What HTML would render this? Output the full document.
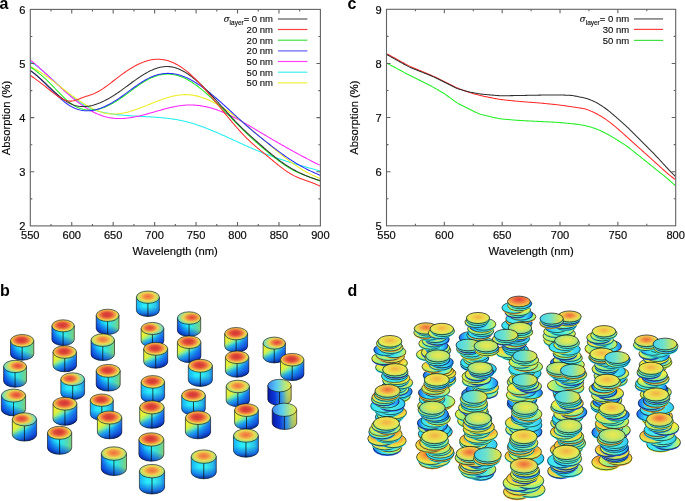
<!DOCTYPE html>
<html><head><meta charset="utf-8"><title>Absorption spectra</title>
<style>html,body{margin:0;padding:0;background:#fff}body{width:685px;height:501px;position:relative;overflow:hidden}</style>
</head><body>
<svg width="685" height="501" viewBox="0 0 685 501" style="position:absolute;left:0;top:0">
<defs>
<clipPath id="clipA"><rect x="30.30" y="9.40" width="290.10" height="216.50"/></clipPath>
<clipPath id="clipC"><rect x="386.50" y="9.30" width="289.20" height="216.50"/></clipPath>

<radialGradient id="tr" cx="0.47" cy="0.45" r="0.62">
 <stop offset="0" stop-color="#d03636"/><stop offset="0.3" stop-color="#e04a38"/><stop offset="0.52" stop-color="#f08a42"/>
 <stop offset="0.72" stop-color="#eed44c"/><stop offset="0.88" stop-color="#a8e07c"/><stop offset="1" stop-color="#62d8c8"/>
</radialGradient>
<radialGradient id="to" cx="0.5" cy="0.45" r="0.62">
 <stop offset="0" stop-color="#ee7040"/><stop offset="0.28" stop-color="#f29444"/>
 <stop offset="0.55" stop-color="#ecd850"/><stop offset="0.8" stop-color="#a0e084"/><stop offset="1" stop-color="#50d8dc"/>
</radialGradient>
<radialGradient id="tl" cx="0.62" cy="0.45" r="0.66">
 <stop offset="0" stop-color="#e4423a"/><stop offset="0.28" stop-color="#ee7a40"/>
 <stop offset="0.55" stop-color="#e8d650"/><stop offset="0.8" stop-color="#8ee0a2"/><stop offset="1" stop-color="#40d4f0"/>
</radialGradient>
<radialGradient id="tL" cx="0.38" cy="0.45" r="0.68">
 <stop offset="0" stop-color="#e0403a"/><stop offset="0.28" stop-color="#ec6e3e"/>
 <stop offset="0.52" stop-color="#eed24e"/><stop offset="0.78" stop-color="#80dcb0"/><stop offset="1" stop-color="#3cb0f0"/>
</radialGradient>
<linearGradient id="tb" x1="0" y1="0" x2="1" y2="0">
 <stop offset="0" stop-color="#3c84f0"/><stop offset="0.4" stop-color="#5ccff2"/><stop offset="0.75" stop-color="#b8e87a"/><stop offset="1" stop-color="#ece44c"/>
</linearGradient>
<linearGradient id="bbl" x1="0" y1="0" x2="1" y2="0">
 <stop offset="0" stop-color="#1860e8"/><stop offset="0.25" stop-color="#18c8fa"/><stop offset="0.48" stop-color="#28ecf8"/>
 <stop offset="0.75" stop-color="#48dcc0"/><stop offset="1" stop-color="#80d078"/>
</linearGradient>
<linearGradient id="byl" x1="0" y1="0" x2="1" y2="0">
 <stop offset="0" stop-color="#40ecd0"/><stop offset="0.3" stop-color="#28e8fa"/><stop offset="0.62" stop-color="#20c8f8"/><stop offset="1" stop-color="#1868e8"/>
</linearGradient>
<linearGradient id="ylo" x1="0" y1="0" x2="0.7" y2="1">
 <stop offset="0" stop-color="#f8f028" stop-opacity="1"/><stop offset="0.35" stop-color="#eef030" stop-opacity="0.9"/><stop offset="0.62" stop-color="#b0f060" stop-opacity="0"/>
</linearGradient>
<linearGradient id="bcy" x1="0" y1="0" x2="1" y2="0">
 <stop offset="0" stop-color="#18b0f4"/><stop offset="0.3" stop-color="#28ecfc"/><stop offset="0.6" stop-color="#34eaf0"/>
 <stop offset="0.85" stop-color="#28c0e8"/><stop offset="1" stop-color="#1c80e0"/>
</linearGradient>
<linearGradient id="bbu" x1="0" y1="0" x2="1" y2="0">
 <stop offset="0" stop-color="#0818a0"/><stop offset="0.3" stop-color="#0c3ce0"/><stop offset="0.6" stop-color="#38a8f0"/>
 <stop offset="0.82" stop-color="#b8e068"/><stop offset="1" stop-color="#e8dc40"/>
</linearGradient>
<linearGradient id="sbl" x1="0.65" y1="0" x2="0.25" y2="1">
 <stop offset="0" stop-color="#0a28c8" stop-opacity="0"/><stop offset="0.45" stop-color="#0a28c8" stop-opacity="0"/>
 <stop offset="0.75" stop-color="#0a30d8" stop-opacity="0.6"/><stop offset="1" stop-color="#06148c" stop-opacity="0.95"/>
</linearGradient>
<linearGradient id="syl" x1="0.35" y1="0" x2="0.65" y2="1">
 <stop offset="0" stop-color="#0a28c8" stop-opacity="0"/><stop offset="0.45" stop-color="#0a28c8" stop-opacity="0"/>
 <stop offset="0.75" stop-color="#1038d8" stop-opacity="0.6"/><stop offset="1" stop-color="#06148c" stop-opacity="0.95"/>
</linearGradient>
<linearGradient id="scy" x1="0.5" y1="0" x2="0.5" y2="1">
 <stop offset="0" stop-color="#0a28c8" stop-opacity="0"/><stop offset="0.5" stop-color="#0a28c8" stop-opacity="0"/>
 <stop offset="0.78" stop-color="#0a30d8" stop-opacity="0.5"/><stop offset="1" stop-color="#06148c" stop-opacity="0.9"/>
</linearGradient>
<linearGradient id="sbu" x1="0.5" y1="0" x2="0.5" y2="1">
 <stop offset="0" stop-color="#0a28c8" stop-opacity="0"/><stop offset="1" stop-color="#06168c" stop-opacity="0.2"/>
</linearGradient>

<radialGradient id="dY" cx="0.5" cy="0.42" r="0.62">
 <stop offset="0" stop-color="#f2b046"/><stop offset="0.35" stop-color="#f0d04a"/><stop offset="0.65" stop-color="#e8e852"/>
 <stop offset="0.88" stop-color="#b0e474"/><stop offset="1" stop-color="#78dcb0"/>
</radialGradient>
<radialGradient id="dO" cx="0.5" cy="0.4" r="0.62">
 <stop offset="0" stop-color="#ec6a3c"/><stop offset="0.3" stop-color="#f29a44"/><stop offset="0.6" stop-color="#eed84e"/>
 <stop offset="0.88" stop-color="#b8e470"/><stop offset="1" stop-color="#80dcaa"/>
</radialGradient>
<radialGradient id="dR" cx="0.5" cy="0.3" r="0.75">
 <stop offset="0" stop-color="#e43e3c"/><stop offset="0.3" stop-color="#ee6a3e"/><stop offset="0.65" stop-color="#f4b046"/>
 <stop offset="1" stop-color="#ece450"/>
</radialGradient>
<radialGradient id="dL" cx="0.55" cy="0.45" r="0.66">
 <stop offset="0" stop-color="#ecea52"/><stop offset="0.45" stop-color="#cce65e"/><stop offset="0.8" stop-color="#88e0a0"/>
 <stop offset="1" stop-color="#56dcd0"/>
</radialGradient>
<linearGradient id="dC" x1="0" y1="0" x2="1" y2="0">
 <stop offset="0" stop-color="#44d4f0"/><stop offset="0.45" stop-color="#70e2c8"/><stop offset="0.8" stop-color="#c8e45e"/><stop offset="1" stop-color="#e4e250"/>
</linearGradient>
<radialGradient id="fA" cx="0.5" cy="0.25" r="0.8">
 <stop offset="0" stop-color="#f8d83c"/><stop offset="0.5" stop-color="#f4f040"/><stop offset="0.78" stop-color="#a0f080"/><stop offset="1" stop-color="#38e4f8"/>
</radialGradient>
<radialGradient id="fB" cx="0.5" cy="0.25" r="0.8">
 <stop offset="0" stop-color="#f8a030"/><stop offset="0.5" stop-color="#f8e03c"/><stop offset="0.8" stop-color="#b0f070"/><stop offset="1" stop-color="#40e8ec"/>
</radialGradient>
<linearGradient id="fC" x1="0" y1="0" x2="1" y2="0">
 <stop offset="0" stop-color="#2060f4"/><stop offset="0.3" stop-color="#30d8fc"/><stop offset="0.65" stop-color="#60f0d4"/><stop offset="1" stop-color="#dcf048"/>
</linearGradient>
<linearGradient id="fD" x1="0" y1="0" x2="1" y2="0">
 <stop offset="0" stop-color="#ecf040"/><stop offset="0.35" stop-color="#90f090"/><stop offset="0.7" stop-color="#38e4fa"/><stop offset="1" stop-color="#2070f4"/>
</linearGradient>
<radialGradient id="fO" cx="0.5" cy="0.3" r="0.8">
 <stop offset="0" stop-color="#f04830"/><stop offset="0.35" stop-color="#f89838"/><stop offset="0.65" stop-color="#f4e040"/><stop offset="0.9" stop-color="#a0f080"/><stop offset="1" stop-color="#40e4ec"/>
</radialGradient>
<linearGradient id="fE" x1="0" y1="0" x2="1" y2="0">
 <stop offset="0" stop-color="#34e0fa"/><stop offset="0.5" stop-color="#54f0e4"/><stop offset="1" stop-color="#30c8fa"/>
</linearGradient>

</defs>
<g clip-path="url(#clipA)" fill="none" stroke-width="1.05" stroke-linejoin="round">
<path d="M30.30 61.69 L31.30 62.34 L32.30 63.01 L33.30 63.70 L34.30 64.40 L35.30 65.13 L36.30 65.88 L37.30 66.64 L38.30 67.42 L39.30 68.21 L40.30 69.02 L41.30 69.84 L42.30 70.67 L43.30 71.52 L44.30 72.37 L45.30 73.24 L46.30 74.11 L47.30 74.99 L48.30 75.88 L49.30 76.77 L50.30 77.67 L51.30 78.58 L52.30 79.48 L53.30 80.39 L54.30 81.30 L55.30 82.21 L56.30 83.13 L57.30 84.04 L58.30 84.94 L59.30 85.85 L60.30 86.75 L61.30 87.65 L62.30 88.54 L63.30 89.42 L64.30 90.30 L65.30 91.17 L66.30 92.03 L67.30 92.88 L68.30 93.72 L69.30 94.55 L70.30 95.36 L71.30 96.16 L72.30 96.95 L73.30 97.72 L74.30 98.48 L75.30 99.22 L76.30 99.94 L77.30 100.65 L78.30 101.34 L79.30 102.02 L80.30 102.68 L81.30 103.32 L82.30 103.94 L83.30 104.55 L84.30 105.14 L85.30 105.70 L86.30 106.25 L87.30 106.78 L88.30 107.29 L89.30 107.78 L90.30 108.25 L91.30 108.69 L92.30 109.12 L93.30 109.52 L94.30 109.90 L95.30 110.26 L96.30 110.60 L97.30 110.92 L98.30 111.22 L99.30 111.49 L100.30 111.76 L101.30 112.00 L102.30 112.23 L103.30 112.45 L104.30 112.66 L105.30 112.85 L106.30 113.04 L107.30 113.22 L108.30 113.39 L109.30 113.55 L110.30 113.71 L111.30 113.86 L112.30 114.00 L113.30 114.14 L114.30 114.28 L115.30 114.40 L116.30 114.52 L117.30 114.64 L118.30 114.75 L119.30 114.86 L120.30 114.96 L121.30 115.06 L122.30 115.15 L123.30 115.24 L124.30 115.33 L125.30 115.41 L126.30 115.49 L127.30 115.56 L128.30 115.64 L129.30 115.71 L130.30 115.77 L131.30 115.84 L132.30 115.90 L133.30 115.96 L134.30 116.02 L135.30 116.08 L136.30 116.13 L137.30 116.19 L138.30 116.24 L139.30 116.30 L140.30 116.35 L141.30 116.40 L142.30 116.45 L143.30 116.50 L144.30 116.56 L145.30 116.61 L146.30 116.66 L147.30 116.72 L148.30 116.77 L149.30 116.83 L150.30 116.89 L151.30 116.95 L152.30 117.01 L153.30 117.08 L154.30 117.14 L155.30 117.21 L156.30 117.28 L157.30 117.36 L158.30 117.44 L159.30 117.52 L160.30 117.60 L161.30 117.69 L162.30 117.78 L163.30 117.88 L164.30 117.98 L165.30 118.08 L166.30 118.19 L167.30 118.31 L168.30 118.43 L169.30 118.56 L170.30 118.69 L171.30 118.82 L172.30 118.97 L173.30 119.12 L174.30 119.27 L175.30 119.43 L176.30 119.60 L177.30 119.78 L178.30 119.96 L179.30 120.15 L180.30 120.35 L181.30 120.56 L182.30 120.77 L183.30 120.99 L184.30 121.22 L185.30 121.46 L186.30 121.71 L187.30 121.97 L188.30 122.23 L189.30 122.50 L190.30 122.79 L191.30 123.07 L192.30 123.37 L193.30 123.68 L194.30 123.99 L195.30 124.31 L196.30 124.63 L197.30 124.96 L198.30 125.30 L199.30 125.65 L200.30 126.00 L201.30 126.36 L202.30 126.72 L203.30 127.09 L204.30 127.46 L205.30 127.84 L206.30 128.23 L207.30 128.62 L208.30 129.01 L209.30 129.41 L210.30 129.82 L211.30 130.23 L212.30 130.64 L213.30 131.06 L214.30 131.48 L215.30 131.90 L216.30 132.33 L217.30 132.76 L218.30 133.19 L219.30 133.63 L220.30 134.07 L221.30 134.51 L222.30 134.96 L223.30 135.40 L224.30 135.85 L225.30 136.30 L226.30 136.75 L227.30 137.21 L228.30 137.66 L229.30 138.12 L230.30 138.57 L231.30 139.03 L232.30 139.49 L233.30 139.95 L234.30 140.41 L235.30 140.87 L236.30 141.33 L237.30 141.79 L238.30 142.24 L239.30 142.70 L240.30 143.16 L241.30 143.61 L242.30 144.07 L243.30 144.52 L244.30 144.97 L245.30 145.42 L246.30 145.87 L247.30 146.32 L248.30 146.76 L249.30 147.20 L250.30 147.64 L251.30 148.08 L252.30 148.51 L253.30 148.94 L254.30 149.37 L255.30 149.79 L256.30 150.21 L257.30 150.63 L258.30 151.04 L259.30 151.45 L260.30 151.85 L261.30 152.25 L262.30 152.65 L263.30 153.04 L264.30 153.43 L265.30 153.81 L266.30 154.19 L267.30 154.57 L268.30 154.95 L269.30 155.32 L270.30 155.68 L271.30 156.05 L272.30 156.41 L273.30 156.76 L274.30 157.12 L275.30 157.47 L276.30 157.82 L277.30 158.16 L278.30 158.50 L279.30 158.84 L280.30 159.18 L281.30 159.51 L282.30 159.84 L283.30 160.17 L284.30 160.49 L285.30 160.82 L286.30 161.14 L287.30 161.46 L288.30 161.77 L289.30 162.09 L290.30 162.40 L291.30 162.71 L292.30 163.01 L293.30 163.32 L294.30 163.62 L295.30 163.92 L296.30 164.22 L297.30 164.52 L298.30 164.81 L299.30 165.11 L300.30 165.40 L301.30 165.69 L302.30 165.98 L303.30 166.27 L304.30 166.56 L305.30 166.84 L306.30 167.12 L307.30 167.41 L308.30 167.69 L309.30 167.97 L310.30 168.25 L311.30 168.53 L312.30 168.81 L313.30 169.08 L314.30 169.36 L315.30 169.64 L316.30 169.91 L317.30 170.19 L318.30 170.46 L319.30 170.73 L320.30 171.01 L320.40 171.03" stroke="#22eeee"/>
<path d="M30.30 60.12 L31.30 60.90 L32.30 61.70 L33.30 62.51 L34.30 63.34 L35.30 64.18 L36.30 65.03 L37.30 65.89 L38.30 66.76 L39.30 67.64 L40.30 68.52 L41.30 69.42 L42.30 70.32 L43.30 71.23 L44.30 72.15 L45.30 73.07 L46.30 74.00 L47.30 74.93 L48.30 75.87 L49.30 76.80 L50.30 77.75 L51.30 78.69 L52.30 79.63 L53.30 80.57 L54.30 81.52 L55.30 82.46 L56.30 83.40 L57.30 84.34 L58.30 85.28 L59.30 86.21 L60.30 87.14 L61.30 88.06 L62.30 88.98 L63.30 89.90 L64.30 90.80 L65.30 91.70 L66.30 92.59 L67.30 93.48 L68.30 94.35 L69.30 95.21 L70.30 96.07 L71.30 96.91 L72.30 97.74 L73.30 98.56 L74.30 99.36 L75.30 100.16 L76.30 100.94 L77.30 101.71 L78.30 102.46 L79.30 103.20 L80.30 103.93 L81.30 104.64 L82.30 105.34 L83.30 106.03 L84.30 106.70 L85.30 107.35 L86.30 107.99 L87.30 108.61 L88.30 109.21 L89.30 109.80 L90.30 110.37 L91.30 110.93 L92.30 111.47 L93.30 111.99 L94.30 112.49 L95.30 112.97 L96.30 113.43 L97.30 113.88 L98.30 114.31 L99.30 114.71 L100.30 115.10 L101.30 115.47 L102.30 115.82 L103.30 116.14 L104.30 116.45 L105.30 116.73 L106.30 117.00 L107.30 117.24 L108.30 117.46 L109.30 117.65 L110.30 117.83 L111.30 117.99 L112.30 118.12 L113.30 118.24 L114.30 118.34 L115.30 118.42 L116.30 118.48 L117.30 118.52 L118.30 118.55 L119.30 118.56 L120.30 118.55 L121.30 118.53 L122.30 118.49 L123.30 118.44 L124.30 118.37 L125.30 118.29 L126.30 118.19 L127.30 118.08 L128.30 117.96 L129.30 117.83 L130.30 117.69 L131.30 117.53 L132.30 117.36 L133.30 117.19 L134.30 117.00 L135.30 116.80 L136.30 116.60 L137.30 116.38 L138.30 116.16 L139.30 115.93 L140.30 115.70 L141.30 115.45 L142.30 115.20 L143.30 114.95 L144.30 114.69 L145.30 114.42 L146.30 114.15 L147.30 113.88 L148.30 113.60 L149.30 113.32 L150.30 113.04 L151.30 112.76 L152.30 112.47 L153.30 112.18 L154.30 111.90 L155.30 111.61 L156.30 111.32 L157.30 111.03 L158.30 110.75 L159.30 110.46 L160.30 110.18 L161.30 109.90 L162.30 109.63 L163.30 109.35 L164.30 109.08 L165.30 108.82 L166.30 108.56 L167.30 108.31 L168.30 108.06 L169.30 107.82 L170.30 107.58 L171.30 107.35 L172.30 107.13 L173.30 106.92 L174.30 106.71 L175.30 106.52 L176.30 106.33 L177.30 106.16 L178.30 105.99 L179.30 105.84 L180.30 105.70 L181.30 105.56 L182.30 105.45 L183.30 105.34 L184.30 105.25 L185.30 105.17 L186.30 105.10 L187.30 105.05 L188.30 105.01 L189.30 104.99 L190.30 104.99 L191.30 105.00 L192.30 105.02 L193.30 105.06 L194.30 105.12 L195.30 105.18 L196.30 105.27 L197.30 105.36 L198.30 105.47 L199.30 105.60 L200.30 105.73 L201.30 105.89 L202.30 106.05 L203.30 106.23 L204.30 106.42 L205.30 106.62 L206.30 106.84 L207.30 107.07 L208.30 107.31 L209.30 107.56 L210.30 107.83 L211.30 108.10 L212.30 108.39 L213.30 108.69 L214.30 109.01 L215.30 109.33 L216.30 109.67 L217.30 110.01 L218.30 110.37 L219.30 110.74 L220.30 111.12 L221.30 111.51 L222.30 111.90 L223.30 112.31 L224.30 112.73 L225.30 113.16 L226.30 113.60 L227.30 114.05 L228.30 114.51 L229.30 114.98 L230.30 115.45 L231.30 115.94 L232.30 116.43 L233.30 116.93 L234.30 117.44 L235.30 117.96 L236.30 118.49 L237.30 119.02 L238.30 119.56 L239.30 120.10 L240.30 120.65 L241.30 121.21 L242.30 121.77 L243.30 122.33 L244.30 122.90 L245.30 123.48 L246.30 124.05 L247.30 124.63 L248.30 125.22 L249.30 125.81 L250.30 126.40 L251.30 126.99 L252.30 127.58 L253.30 128.17 L254.30 128.77 L255.30 129.37 L256.30 129.96 L257.30 130.56 L258.30 131.16 L259.30 131.75 L260.30 132.35 L261.30 132.94 L262.30 133.53 L263.30 134.13 L264.30 134.72 L265.30 135.31 L266.30 135.90 L267.30 136.49 L268.30 137.08 L269.30 137.66 L270.30 138.25 L271.30 138.84 L272.30 139.42 L273.30 140.00 L274.30 140.59 L275.30 141.17 L276.30 141.75 L277.30 142.32 L278.30 142.90 L279.30 143.48 L280.30 144.05 L281.30 144.62 L282.30 145.19 L283.30 145.76 L284.30 146.33 L285.30 146.90 L286.30 147.46 L287.30 148.02 L288.30 148.58 L289.30 149.14 L290.30 149.70 L291.30 150.26 L292.30 150.81 L293.30 151.36 L294.30 151.91 L295.30 152.46 L296.30 153.00 L297.30 153.55 L298.30 154.09 L299.30 154.63 L300.30 155.16 L301.30 155.70 L302.30 156.23 L303.30 156.76 L304.30 157.29 L305.30 157.81 L306.30 158.33 L307.30 158.85 L308.30 159.37 L309.30 159.89 L310.30 160.40 L311.30 160.91 L312.30 161.42 L313.30 161.92 L314.30 162.42 L315.30 162.92 L316.30 163.42 L317.30 163.91 L318.30 164.40 L319.30 164.89 L320.30 165.37 L320.40 165.42" stroke="#ff22ff"/>
<path d="M30.30 66.51 L31.30 67.00 L32.30 67.52 L33.30 68.05 L34.30 68.59 L35.30 69.15 L36.30 69.73 L37.30 70.32 L38.30 70.93 L39.30 71.55 L40.30 72.18 L41.30 72.83 L42.30 73.49 L43.30 74.16 L44.30 74.83 L45.30 75.52 L46.30 76.22 L47.30 76.93 L48.30 77.65 L49.30 78.37 L50.30 79.10 L51.30 79.84 L52.30 80.58 L53.30 81.33 L54.30 82.09 L55.30 82.84 L56.30 83.61 L57.30 84.37 L58.30 85.14 L59.30 85.91 L60.30 86.68 L61.30 87.45 L62.30 88.22 L63.30 88.99 L64.30 89.76 L65.30 90.53 L66.30 91.29 L67.30 92.06 L68.30 92.81 L69.30 93.57 L70.30 94.32 L71.30 95.07 L72.30 95.81 L73.30 96.54 L74.30 97.27 L75.30 97.99 L76.30 98.70 L77.30 99.40 L78.30 100.09 L79.30 100.78 L80.30 101.45 L81.30 102.11 L82.30 102.76 L83.30 103.40 L84.30 104.02 L85.30 104.63 L86.30 105.23 L87.30 105.82 L88.30 106.38 L89.30 106.94 L90.30 107.47 L91.30 107.99 L92.30 108.49 L93.30 108.98 L94.30 109.44 L95.30 109.89 L96.30 110.31 L97.30 110.72 L98.30 111.10 L99.30 111.46 L100.30 111.80 L101.30 112.12 L102.30 112.42 L103.30 112.69 L104.30 112.93 L105.30 113.15 L106.30 113.35 L107.30 113.52 L108.30 113.66 L109.30 113.78 L110.30 113.87 L111.30 113.94 L112.30 113.98 L113.30 114.00 L114.30 113.99 L115.30 113.97 L116.30 113.92 L117.30 113.85 L118.30 113.76 L119.30 113.66 L120.30 113.53 L121.30 113.39 L122.30 113.22 L123.30 113.04 L124.30 112.85 L125.30 112.63 L126.30 112.41 L127.30 112.16 L128.30 111.91 L129.30 111.64 L130.30 111.36 L131.30 111.06 L132.30 110.76 L133.30 110.44 L134.30 110.11 L135.30 109.78 L136.30 109.43 L137.30 109.08 L138.30 108.72 L139.30 108.35 L140.30 107.97 L141.30 107.59 L142.30 107.21 L143.30 106.82 L144.30 106.42 L145.30 106.03 L146.30 105.63 L147.30 105.22 L148.30 104.82 L149.30 104.42 L150.30 104.01 L151.30 103.61 L152.30 103.21 L153.30 102.80 L154.30 102.40 L155.30 102.01 L156.30 101.62 L157.30 101.23 L158.30 100.85 L159.30 100.47 L160.30 100.10 L161.30 99.73 L162.30 99.37 L163.30 99.02 L164.30 98.68 L165.30 98.35 L166.30 98.03 L167.30 97.72 L168.30 97.42 L169.30 97.13 L170.30 96.85 L171.30 96.59 L172.30 96.34 L173.30 96.11 L174.30 95.88 L175.30 95.68 L176.30 95.49 L177.30 95.32 L178.30 95.17 L179.30 95.03 L180.30 94.91 L181.30 94.81 L182.30 94.73 L183.30 94.68 L184.30 94.64 L185.30 94.62 L186.30 94.63 L187.30 94.66 L188.30 94.71 L189.30 94.79 L190.30 94.88 L191.30 95.00 L192.30 95.13 L193.30 95.29 L194.30 95.47 L195.30 95.66 L196.30 95.88 L197.30 96.12 L198.30 96.37 L199.30 96.65 L200.30 96.94 L201.30 97.25 L202.30 97.58 L203.30 97.93 L204.30 98.29 L205.30 98.67 L206.30 99.07 L207.30 99.48 L208.30 99.91 L209.30 100.35 L210.30 100.82 L211.30 101.29 L212.30 101.78 L213.30 102.29 L214.30 102.81 L215.30 103.34 L216.30 103.89 L217.30 104.45 L218.30 105.02 L219.30 105.61 L220.30 106.21 L221.30 106.82 L222.30 107.44 L223.30 108.08 L224.30 108.73 L225.30 109.38 L226.30 110.05 L227.30 110.73 L228.30 111.42 L229.30 112.12 L230.30 112.82 L231.30 113.54 L232.30 114.27 L233.30 115.00 L234.30 115.75 L235.30 116.50 L236.30 117.26 L237.30 118.02 L238.30 118.80 L239.30 119.58 L240.30 120.36 L241.30 121.16 L242.30 121.96 L243.30 122.76 L244.30 123.57 L245.30 124.39 L246.30 125.21 L247.30 126.03 L248.30 126.86 L249.30 127.70 L250.30 128.53 L251.30 129.37 L252.30 130.22 L253.30 131.06 L254.30 131.91 L255.30 132.76 L256.30 133.61 L257.30 134.47 L258.30 135.32 L259.30 136.18 L260.30 137.03 L261.30 137.89 L262.30 138.75 L263.30 139.60 L264.30 140.46 L265.30 141.32 L266.30 142.17 L267.30 143.02 L268.30 143.87 L269.30 144.72 L270.30 145.57 L271.30 146.41 L272.30 147.26 L273.30 148.09 L274.30 148.93 L275.30 149.76 L276.30 150.58 L277.30 151.41 L278.30 152.22 L279.30 153.04 L280.30 153.84 L281.30 154.65 L282.30 155.44 L283.30 156.23 L284.30 157.01 L285.30 157.79 L286.30 158.56 L287.30 159.32 L288.30 160.07 L289.30 160.82 L290.30 161.56 L291.30 162.29 L292.30 163.01 L293.30 163.72 L294.30 164.42 L295.30 165.11 L296.30 165.80 L297.30 166.47 L298.30 167.13 L299.30 167.78 L300.30 168.42 L301.30 169.05 L302.30 169.66 L303.30 170.27 L304.30 170.86 L305.30 171.44 L306.30 172.00 L307.30 172.55 L308.30 173.09 L309.30 173.62 L310.30 174.13 L311.30 174.62 L312.30 175.10 L313.30 175.57 L314.30 176.02 L315.30 176.46 L316.30 176.88 L317.30 177.28 L318.30 177.66 L319.30 178.03 L320.30 178.39 L320.40 178.42" stroke="#eeee22"/>
<path d="M30.30 66.83 L31.30 67.53 L32.30 68.24 L33.30 68.96 L34.30 69.69 L35.30 70.43 L36.30 71.19 L37.30 71.96 L38.30 72.74 L39.30 73.54 L40.30 74.35 L41.30 75.18 L42.30 76.03 L43.30 76.90 L44.30 77.78 L45.30 78.69 L46.30 79.62 L47.30 80.57 L48.30 81.55 L49.30 82.54 L50.30 83.55 L51.30 84.57 L52.30 85.61 L53.30 86.65 L54.30 87.70 L55.30 88.75 L56.30 89.80 L57.30 90.85 L58.30 91.90 L59.30 92.93 L60.30 93.96 L61.30 94.97 L62.30 95.97 L63.30 96.95 L64.30 97.90 L65.30 98.83 L66.30 99.74 L67.30 100.61 L68.30 101.45 L69.30 102.26 L70.30 103.02 L71.30 103.75 L72.30 104.43 L73.30 105.08 L74.30 105.68 L75.30 106.24 L76.30 106.75 L77.30 107.23 L78.30 107.67 L79.30 108.08 L80.30 108.44 L81.30 108.77 L82.30 109.05 L83.30 109.31 L84.30 109.52 L85.30 109.71 L86.30 109.86 L87.30 109.97 L88.30 110.05 L89.30 110.10 L90.30 110.11 L91.30 110.10 L92.30 110.05 L93.30 109.98 L94.30 109.87 L95.30 109.73 L96.30 109.57 L97.30 109.38 L98.30 109.16 L99.30 108.91 L100.30 108.64 L101.30 108.34 L102.30 108.02 L103.30 107.67 L104.30 107.30 L105.30 106.90 L106.30 106.49 L107.30 106.05 L108.30 105.58 L109.30 105.10 L110.30 104.60 L111.30 104.08 L112.30 103.54 L113.30 102.98 L114.30 102.40 L115.30 101.81 L116.30 101.19 L117.30 100.57 L118.30 99.92 L119.30 99.26 L120.30 98.59 L121.30 97.91 L122.30 97.21 L123.30 96.50 L124.30 95.79 L125.30 95.06 L126.30 94.33 L127.30 93.60 L128.30 92.86 L129.30 92.12 L130.30 91.37 L131.30 90.63 L132.30 89.89 L133.30 89.15 L134.30 88.42 L135.30 87.69 L136.30 86.97 L137.30 86.26 L138.30 85.56 L139.30 84.86 L140.30 84.18 L141.30 83.52 L142.30 82.86 L143.30 82.23 L144.30 81.61 L145.30 81.01 L146.30 80.43 L147.30 79.87 L148.30 79.33 L149.30 78.82 L150.30 78.34 L151.30 77.87 L152.30 77.44 L153.30 77.03 L154.30 76.64 L155.30 76.28 L156.30 75.95 L157.30 75.64 L158.30 75.36 L159.30 75.11 L160.30 74.88 L161.30 74.69 L162.30 74.52 L163.30 74.37 L164.30 74.26 L165.30 74.17 L166.30 74.12 L167.30 74.09 L168.30 74.09 L169.30 74.12 L170.30 74.18 L171.30 74.27 L172.30 74.38 L173.30 74.53 L174.30 74.71 L175.30 74.92 L176.30 75.16 L177.30 75.43 L178.30 75.72 L179.30 76.05 L180.30 76.40 L181.30 76.78 L182.30 77.18 L183.30 77.61 L184.30 78.07 L185.30 78.55 L186.30 79.05 L187.30 79.58 L188.30 80.13 L189.30 80.70 L190.30 81.30 L191.30 81.91 L192.30 82.55 L193.30 83.21 L194.30 83.89 L195.30 84.58 L196.30 85.30 L197.30 86.03 L198.30 86.78 L199.30 87.55 L200.30 88.34 L201.30 89.14 L202.30 89.95 L203.30 90.79 L204.30 91.63 L205.30 92.49 L206.30 93.37 L207.30 94.25 L208.30 95.15 L209.30 96.06 L210.30 96.98 L211.30 97.91 L212.30 98.86 L213.30 99.81 L214.30 100.77 L215.30 101.74 L216.30 102.72 L217.30 103.70 L218.30 104.69 L219.30 105.69 L220.30 106.70 L221.30 107.71 L222.30 108.72 L223.30 109.74 L224.30 110.76 L225.30 111.79 L226.30 112.81 L227.30 113.84 L228.30 114.88 L229.30 115.91 L230.30 116.94 L231.30 117.98 L232.30 119.01 L233.30 120.04 L234.30 121.07 L235.30 122.10 L236.30 123.12 L237.30 124.14 L238.30 125.16 L239.30 126.18 L240.30 127.18 L241.30 128.19 L242.30 129.18 L243.30 130.18 L244.30 131.16 L245.30 132.14 L246.30 133.10 L247.30 134.06 L248.30 135.01 L249.30 135.96 L250.30 136.89 L251.30 137.81 L252.30 138.73 L253.30 139.63 L254.30 140.53 L255.30 141.42 L256.30 142.31 L257.30 143.18 L258.30 144.06 L259.30 144.92 L260.30 145.78 L261.30 146.63 L262.30 147.48 L263.30 148.33 L264.30 149.17 L265.30 150.00 L266.30 150.83 L267.30 151.66 L268.30 152.49 L269.30 153.31 L270.30 154.13 L271.30 154.94 L272.30 155.75 L273.30 156.56 L274.30 157.35 L275.30 158.14 L276.30 158.92 L277.30 159.69 L278.30 160.46 L279.30 161.21 L280.30 161.95 L281.30 162.68 L282.30 163.39 L283.30 164.09 L284.30 164.78 L285.30 165.45 L286.30 166.11 L287.30 166.75 L288.30 167.38 L289.30 167.98 L290.30 168.57 L291.30 169.14 L292.30 169.69 L293.30 170.21 L294.30 170.72 L295.30 171.21 L296.30 171.69 L297.30 172.15 L298.30 172.59 L299.30 173.02 L300.30 173.44 L301.30 173.85 L302.30 174.25 L303.30 174.64 L304.30 175.03 L305.30 175.41 L306.30 175.79 L307.30 176.16 L308.30 176.53 L309.30 176.90 L310.30 177.27 L311.30 177.64 L312.30 178.01 L313.30 178.39 L314.30 178.78 L315.30 179.17 L316.30 179.57 L317.30 179.97 L318.30 180.39 L319.30 180.82 L320.30 181.26 L320.40 181.31" stroke="#22ee22"/>
<path d="M30.30 70.69 L31.30 71.38 L32.30 72.10 L33.30 72.86 L34.30 73.64 L35.30 74.46 L36.30 75.30 L37.30 76.16 L38.30 77.04 L39.30 77.95 L40.30 78.87 L41.30 79.81 L42.30 80.77 L43.30 81.73 L44.30 82.71 L45.30 83.70 L46.30 84.70 L47.30 85.70 L48.30 86.70 L49.30 87.71 L50.30 88.71 L51.30 89.72 L52.30 90.72 L53.30 91.71 L54.30 92.70 L55.30 93.68 L56.30 94.64 L57.30 95.60 L58.30 96.54 L59.30 97.46 L60.30 98.36 L61.30 99.25 L62.30 100.11 L63.30 100.94 L64.30 101.76 L65.30 102.54 L66.30 103.29 L67.30 104.02 L68.30 104.71 L69.30 105.36 L70.30 105.98 L71.30 106.56 L72.30 107.09 L73.30 107.59 L74.30 108.05 L75.30 108.48 L76.30 108.86 L77.30 109.21 L78.30 109.52 L79.30 109.80 L80.30 110.04 L81.30 110.24 L82.30 110.41 L83.30 110.55 L84.30 110.66 L85.30 110.73 L86.30 110.77 L87.30 110.78 L88.30 110.76 L89.30 110.71 L90.30 110.63 L91.30 110.52 L92.30 110.39 L93.30 110.22 L94.30 110.03 L95.30 109.81 L96.30 109.57 L97.30 109.30 L98.30 109.00 L99.30 108.68 L100.30 108.34 L101.30 107.98 L102.30 107.59 L103.30 107.18 L104.30 106.75 L105.30 106.30 L106.30 105.83 L107.30 105.34 L108.30 104.83 L109.30 104.30 L110.30 103.76 L111.30 103.19 L112.30 102.61 L113.30 102.02 L114.30 101.41 L115.30 100.78 L116.30 100.14 L117.30 99.49 L118.30 98.82 L119.30 98.15 L120.30 97.46 L121.30 96.75 L122.30 96.04 L123.30 95.33 L124.30 94.60 L125.30 93.87 L126.30 93.14 L127.30 92.40 L128.30 91.66 L129.30 90.92 L130.30 90.18 L131.30 89.44 L132.30 88.71 L133.30 87.98 L134.30 87.25 L135.30 86.54 L136.30 85.83 L137.30 85.13 L138.30 84.44 L139.30 83.76 L140.30 83.09 L141.30 82.44 L142.30 81.81 L143.30 81.19 L144.30 80.59 L145.30 80.01 L146.30 79.45 L147.30 78.91 L148.30 78.39 L149.30 77.90 L150.30 77.43 L151.30 76.99 L152.30 76.57 L153.30 76.18 L154.30 75.81 L155.30 75.47 L156.30 75.16 L157.30 74.86 L158.30 74.60 L159.30 74.36 L160.30 74.15 L161.30 73.96 L162.30 73.80 L163.30 73.66 L164.30 73.55 L165.30 73.47 L166.30 73.41 L167.30 73.38 L168.30 73.38 L169.30 73.40 L170.30 73.45 L171.30 73.52 L172.30 73.62 L173.30 73.75 L174.30 73.90 L175.30 74.08 L176.30 74.29 L177.30 74.52 L178.30 74.78 L179.30 75.05 L180.30 75.36 L181.30 75.68 L182.30 76.03 L183.30 76.40 L184.30 76.80 L185.30 77.21 L186.30 77.64 L187.30 78.10 L188.30 78.58 L189.30 79.07 L190.30 79.59 L191.30 80.12 L192.30 80.67 L193.30 81.24 L194.30 81.83 L195.30 82.43 L196.30 83.05 L197.30 83.69 L198.30 84.34 L199.30 85.01 L200.30 85.69 L201.30 86.39 L202.30 87.10 L203.30 87.82 L204.30 88.56 L205.30 89.31 L206.30 90.07 L207.30 90.84 L208.30 91.63 L209.30 92.42 L210.30 93.23 L211.30 94.04 L212.30 94.87 L213.30 95.70 L214.30 96.55 L215.30 97.40 L216.30 98.25 L217.30 99.12 L218.30 99.99 L219.30 100.87 L220.30 101.76 L221.30 102.65 L222.30 103.54 L223.30 104.44 L224.30 105.35 L225.30 106.25 L226.30 107.16 L227.30 108.08 L228.30 108.99 L229.30 109.91 L230.30 110.83 L231.30 111.75 L232.30 112.67 L233.30 113.60 L234.30 114.52 L235.30 115.44 L236.30 116.36 L237.30 117.27 L238.30 118.19 L239.30 119.10 L240.30 120.01 L241.30 120.92 L242.30 121.82 L243.30 122.72 L244.30 123.61 L245.30 124.50 L246.30 125.39 L247.30 126.26 L248.30 127.13 L249.30 128.00 L250.30 128.86 L251.30 129.71 L252.30 130.55 L253.30 131.39 L254.30 132.23 L255.30 133.06 L256.30 133.88 L257.30 134.70 L258.30 135.51 L259.30 136.32 L260.30 137.13 L261.30 137.93 L262.30 138.73 L263.30 139.53 L264.30 140.32 L265.30 141.11 L266.30 141.90 L267.30 142.69 L268.30 143.47 L269.30 144.25 L270.30 145.03 L271.30 145.81 L272.30 146.58 L273.30 147.35 L274.30 148.12 L275.30 148.88 L276.30 149.64 L277.30 150.39 L278.30 151.14 L279.30 151.88 L280.30 152.62 L281.30 153.35 L282.30 154.08 L283.30 154.80 L284.30 155.51 L285.30 156.21 L286.30 156.91 L287.30 157.60 L288.30 158.28 L289.30 158.95 L290.30 159.61 L291.30 160.26 L292.30 160.90 L293.30 161.54 L294.30 162.16 L295.30 162.77 L296.30 163.38 L297.30 163.97 L298.30 164.55 L299.30 165.13 L300.30 165.70 L301.30 166.25 L302.30 166.80 L303.30 167.34 L304.30 167.87 L305.30 168.40 L306.30 168.91 L307.30 169.42 L308.30 169.92 L309.30 170.41 L310.30 170.89 L311.30 171.37 L312.30 171.83 L313.30 172.29 L314.30 172.75 L315.30 173.19 L316.30 173.63 L317.30 174.06 L318.30 174.49 L319.30 174.91 L320.30 175.32 L320.40 175.36" stroke="#2a2aff"/>
<path d="M30.30 70.51 L31.30 71.20 L32.30 71.92 L33.30 72.67 L34.30 73.45 L35.30 74.25 L36.30 75.07 L37.30 75.92 L38.30 76.78 L39.30 77.66 L40.30 78.56 L41.30 79.47 L42.30 80.39 L43.30 81.32 L44.30 82.26 L45.30 83.20 L46.30 84.16 L47.30 85.11 L48.30 86.06 L49.30 87.02 L50.30 87.97 L51.30 88.91 L52.30 89.85 L53.30 90.78 L54.30 91.70 L55.30 92.61 L56.30 93.50 L57.30 94.38 L58.30 95.24 L59.30 96.09 L60.30 96.91 L61.30 97.71 L62.30 98.48 L63.30 99.23 L64.30 99.94 L65.30 100.63 L66.30 101.29 L67.30 101.91 L68.30 102.50 L69.30 103.04 L70.30 103.55 L71.30 104.02 L72.30 104.45 L73.30 104.83 L74.30 105.17 L75.30 105.48 L76.30 105.74 L77.30 105.97 L78.30 106.16 L79.30 106.32 L80.30 106.43 L81.30 106.52 L82.30 106.57 L83.30 106.59 L84.30 106.57 L85.30 106.52 L86.30 106.45 L87.30 106.34 L88.30 106.21 L89.30 106.05 L90.30 105.86 L91.30 105.65 L92.30 105.41 L93.30 105.14 L94.30 104.86 L95.30 104.55 L96.30 104.22 L97.30 103.87 L98.30 103.49 L99.30 103.10 L100.30 102.69 L101.30 102.25 L102.30 101.80 L103.30 101.34 L104.30 100.85 L105.30 100.34 L106.30 99.82 L107.30 99.29 L108.30 98.73 L109.30 98.17 L110.30 97.58 L111.30 96.99 L112.30 96.38 L113.30 95.75 L114.30 95.12 L115.30 94.47 L116.30 93.81 L117.30 93.13 L118.30 92.45 L119.30 91.76 L120.30 91.06 L121.30 90.35 L122.30 89.63 L123.30 88.90 L124.30 88.17 L125.30 87.44 L126.30 86.70 L127.30 85.96 L128.30 85.22 L129.30 84.48 L130.30 83.74 L131.30 83.00 L132.30 82.27 L133.30 81.54 L134.30 80.82 L135.30 80.10 L136.30 79.39 L137.30 78.69 L138.30 77.99 L139.30 77.31 L140.30 76.64 L141.30 75.99 L142.30 75.34 L143.30 74.71 L144.30 74.10 L145.30 73.51 L146.30 72.93 L147.30 72.37 L148.30 71.84 L149.30 71.32 L150.30 70.83 L151.30 70.36 L152.30 69.91 L153.30 69.49 L154.30 69.09 L155.30 68.72 L156.30 68.38 L157.30 68.06 L158.30 67.77 L159.30 67.51 L160.30 67.28 L161.30 67.08 L162.30 66.91 L163.30 66.77 L164.30 66.66 L165.30 66.58 L166.30 66.54 L167.30 66.54 L168.30 66.56 L169.30 66.63 L170.30 66.73 L171.30 66.86 L172.30 67.04 L173.30 67.25 L174.30 67.49 L175.30 67.77 L176.30 68.09 L177.30 68.44 L178.30 68.82 L179.30 69.23 L180.30 69.68 L181.30 70.15 L182.30 70.66 L183.30 71.19 L184.30 71.76 L185.30 72.35 L186.30 72.97 L187.30 73.61 L188.30 74.28 L189.30 74.98 L190.30 75.70 L191.30 76.44 L192.30 77.20 L193.30 77.99 L194.30 78.80 L195.30 79.63 L196.30 80.48 L197.30 81.34 L198.30 82.23 L199.30 83.13 L200.30 84.05 L201.30 84.99 L202.30 85.94 L203.30 86.91 L204.30 87.89 L205.30 88.88 L206.30 89.89 L207.30 90.91 L208.30 91.94 L209.30 92.98 L210.30 94.02 L211.30 95.08 L212.30 96.15 L213.30 97.22 L214.30 98.30 L215.30 99.39 L216.30 100.48 L217.30 101.57 L218.30 102.67 L219.30 103.78 L220.30 104.88 L221.30 105.99 L222.30 107.10 L223.30 108.20 L224.30 109.31 L225.30 110.42 L226.30 111.52 L227.30 112.62 L228.30 113.72 L229.30 114.81 L230.30 115.90 L231.30 116.98 L232.30 118.06 L233.30 119.13 L234.30 120.19 L235.30 121.24 L236.30 122.29 L237.30 123.32 L238.30 124.34 L239.30 125.35 L240.30 126.35 L241.30 127.34 L242.30 128.31 L243.30 129.28 L244.30 130.23 L245.30 131.17 L246.30 132.11 L247.30 133.03 L248.30 133.95 L249.30 134.86 L250.30 135.77 L251.30 136.67 L252.30 137.56 L253.30 138.45 L254.30 139.34 L255.30 140.23 L256.30 141.11 L257.30 141.99 L258.30 142.87 L259.30 143.75 L260.30 144.63 L261.30 145.50 L262.30 146.38 L263.30 147.25 L264.30 148.12 L265.30 148.98 L266.30 149.84 L267.30 150.70 L268.30 151.55 L269.30 152.39 L270.30 153.23 L271.30 154.06 L272.30 154.88 L273.30 155.69 L274.30 156.50 L275.30 157.29 L276.30 158.08 L277.30 158.85 L278.30 159.62 L279.30 160.37 L280.30 161.10 L281.30 161.83 L282.30 162.54 L283.30 163.24 L284.30 163.92 L285.30 164.59 L286.30 165.25 L287.30 165.89 L288.30 166.53 L289.30 167.14 L290.30 167.75 L291.30 168.34 L292.30 168.92 L293.30 169.49 L294.30 170.04 L295.30 170.58 L296.30 171.11 L297.30 171.63 L298.30 172.14 L299.30 172.63 L300.30 173.12 L301.30 173.59 L302.30 174.05 L303.30 174.51 L304.30 174.95 L305.30 175.38 L306.30 175.79 L307.30 176.20 L308.30 176.60 L309.30 176.99 L310.30 177.37 L311.30 177.74 L312.30 178.10 L313.30 178.45 L314.30 178.79 L315.30 179.12 L316.30 179.45 L317.30 179.76 L318.30 180.07 L319.30 180.36 L320.30 180.65 L320.40 180.68" stroke="#303030"/>
<path d="M30.30 75.33 L31.30 76.03 L32.30 76.74 L33.30 77.45 L34.30 78.17 L35.30 78.89 L36.30 79.61 L37.30 80.35 L38.30 81.09 L39.30 81.83 L40.30 82.59 L41.30 83.34 L42.30 84.11 L43.30 84.88 L44.30 85.66 L45.30 86.45 L46.30 87.25 L47.30 88.05 L48.30 88.86 L49.30 89.68 L50.30 90.49 L51.30 91.30 L52.30 92.10 L53.30 92.89 L54.30 93.67 L55.30 94.43 L56.30 95.16 L57.30 95.87 L58.30 96.55 L59.30 97.20 L60.30 97.82 L61.30 98.39 L62.30 98.92 L63.30 99.40 L64.30 99.83 L65.30 100.20 L66.30 100.52 L67.30 100.78 L68.30 100.97 L69.30 101.09 L70.30 101.14 L71.30 101.12 L72.30 101.01 L73.30 100.85 L74.30 100.62 L75.30 100.34 L76.30 100.02 L77.30 99.66 L78.30 99.28 L79.30 98.89 L80.30 98.48 L81.30 98.08 L82.30 97.68 L83.30 97.30 L84.30 96.94 L85.30 96.60 L86.30 96.27 L87.30 95.95 L88.30 95.63 L89.30 95.31 L90.30 94.98 L91.30 94.63 L92.30 94.27 L93.30 93.89 L94.30 93.48 L95.30 93.04 L96.30 92.57 L97.30 92.06 L98.30 91.52 L99.30 90.96 L100.30 90.36 L101.30 89.74 L102.30 89.10 L103.30 88.43 L104.30 87.75 L105.30 87.05 L106.30 86.33 L107.30 85.60 L108.30 84.85 L109.30 84.09 L110.30 83.33 L111.30 82.56 L112.30 81.78 L113.30 81.00 L114.30 80.22 L115.30 79.44 L116.30 78.66 L117.30 77.89 L118.30 77.12 L119.30 76.36 L120.30 75.61 L121.30 74.86 L122.30 74.13 L123.30 73.41 L124.30 72.70 L125.30 72.01 L126.30 71.32 L127.30 70.65 L128.30 69.99 L129.30 69.35 L130.30 68.72 L131.30 68.11 L132.30 67.51 L133.30 66.93 L134.30 66.36 L135.30 65.82 L136.30 65.29 L137.30 64.77 L138.30 64.28 L139.30 63.81 L140.30 63.36 L141.30 62.92 L142.30 62.51 L143.30 62.12 L144.30 61.76 L145.30 61.41 L146.30 61.09 L147.30 60.79 L148.30 60.52 L149.30 60.27 L150.30 60.05 L151.30 59.85 L152.30 59.68 L153.30 59.54 L154.30 59.42 L155.30 59.34 L156.30 59.28 L157.30 59.25 L158.30 59.25 L159.30 59.28 L160.30 59.34 L161.30 59.43 L162.30 59.55 L163.30 59.69 L164.30 59.87 L165.30 60.08 L166.30 60.32 L167.30 60.58 L168.30 60.87 L169.30 61.20 L170.30 61.55 L171.30 61.92 L172.30 62.33 L173.30 62.77 L174.30 63.23 L175.30 63.72 L176.30 64.24 L177.30 64.78 L178.30 65.35 L179.30 65.95 L180.30 66.58 L181.30 67.23 L182.30 67.91 L183.30 68.61 L184.30 69.34 L185.30 70.10 L186.30 70.88 L187.30 71.69 L188.30 72.52 L189.30 73.38 L190.30 74.26 L191.30 75.16 L192.30 76.08 L193.30 77.03 L194.30 77.99 L195.30 78.97 L196.30 79.97 L197.30 80.99 L198.30 82.03 L199.30 83.08 L200.30 84.15 L201.30 85.23 L202.30 86.33 L203.30 87.44 L204.30 88.56 L205.30 89.70 L206.30 90.85 L207.30 92.01 L208.30 93.17 L209.30 94.35 L210.30 95.53 L211.30 96.73 L212.30 97.93 L213.30 99.13 L214.30 100.35 L215.30 101.56 L216.30 102.78 L217.30 104.01 L218.30 105.24 L219.30 106.46 L220.30 107.70 L221.30 108.93 L222.30 110.16 L223.30 111.39 L224.30 112.62 L225.30 113.84 L226.30 115.06 L227.30 116.28 L228.30 117.50 L229.30 118.71 L230.30 119.91 L231.30 121.11 L232.30 122.30 L233.30 123.48 L234.30 124.65 L235.30 125.81 L236.30 126.97 L237.30 128.11 L238.30 129.24 L239.30 130.36 L240.30 131.46 L241.30 132.55 L242.30 133.63 L243.30 134.69 L244.30 135.74 L245.30 136.76 L246.30 137.77 L247.30 138.77 L248.30 139.74 L249.30 140.70 L250.30 141.63 L251.30 142.55 L252.30 143.46 L253.30 144.35 L254.30 145.23 L255.30 146.09 L256.30 146.95 L257.30 147.79 L258.30 148.63 L259.30 149.46 L260.30 150.29 L261.30 151.11 L262.30 151.93 L263.30 152.74 L264.30 153.56 L265.30 154.37 L266.30 155.19 L267.30 156.01 L268.30 156.83 L269.30 157.66 L270.30 158.49 L271.30 159.32 L272.30 160.15 L273.30 160.98 L274.30 161.81 L275.30 162.64 L276.30 163.46 L277.30 164.27 L278.30 165.08 L279.30 165.88 L280.30 166.66 L281.30 167.44 L282.30 168.20 L283.30 168.95 L284.30 169.68 L285.30 170.40 L286.30 171.09 L287.30 171.77 L288.30 172.43 L289.30 173.06 L290.30 173.67 L291.30 174.26 L292.30 174.82 L293.30 175.35 L294.30 175.86 L295.30 176.34 L296.30 176.80 L297.30 177.25 L298.30 177.67 L299.30 178.08 L300.30 178.48 L301.30 178.86 L302.30 179.24 L303.30 179.60 L304.30 179.96 L305.30 180.32 L306.30 180.67 L307.30 181.02 L308.30 181.37 L309.30 181.73 L310.30 182.09 L311.30 182.45 L312.30 182.83 L313.30 183.21 L314.30 183.61 L315.30 184.02 L316.30 184.44 L317.30 184.89 L318.30 185.35 L319.30 185.83 L320.30 186.34 L320.40 186.39" stroke="#ff2a2a"/>
</g>
<rect x="30.30" y="9.40" width="290.10" height="216.50" fill="none" stroke="#626262" stroke-width="1.1"/>
<path d="M71.74 225.90v-4M71.74 9.40v4M113.19 225.90v-4M113.19 9.40v4M154.63 225.90v-4M154.63 9.40v4M196.07 225.90v-4M196.07 9.40v4M237.51 225.90v-4M237.51 9.40v4M278.96 225.90v-4M278.96 9.40v4M51.02 225.90v-2M51.02 9.40v2M92.46 225.90v-2M92.46 9.40v2M133.91 225.90v-2M133.91 9.40v2M175.35 225.90v-2M175.35 9.40v2M216.79 225.90v-2M216.79 9.40v2M258.24 225.90v-2M258.24 9.40v2M299.68 225.90v-2M299.68 9.40v2M30.30 171.78h4M320.40 171.78h-4M30.30 117.65h4M320.40 117.65h-4M30.30 63.53h4M320.40 63.53h-4M30.30 198.84h2M320.40 198.84h-2M30.30 144.71h2M320.40 144.71h-2M30.30 90.59h2M320.40 90.59h-2M30.30 36.46h2M320.40 36.46h-2" stroke="#626262" stroke-width="1.1" fill="none"/>
<g clip-path="url(#clipC)" fill="none" stroke-width="1.05" stroke-linejoin="round">
<path d="M386.60 63.00 L387.60 63.54 L388.60 64.07 L389.60 64.61 L390.60 65.14 L391.60 65.68 L392.60 66.21 L393.60 66.75 L394.60 67.29 L395.60 67.82 L396.60 68.36 L397.60 68.89 L398.60 69.43 L399.60 69.96 L400.60 70.50 L401.60 71.04 L402.60 71.57 L403.60 72.11 L404.60 72.64 L405.60 73.17 L406.60 73.71 L407.60 74.23 L408.60 74.76 L409.60 75.27 L410.60 75.79 L411.60 76.29 L412.60 76.80 L413.60 77.30 L414.60 77.80 L415.60 78.30 L416.60 78.80 L417.60 79.30 L418.60 79.80 L419.60 80.30 L420.60 80.80 L421.60 81.30 L422.60 81.80 L423.60 82.30 L424.60 82.80 L425.60 83.30 L426.60 83.80 L427.60 84.30 L428.60 84.80 L429.60 85.31 L430.60 85.82 L431.60 86.34 L432.60 86.87 L433.60 87.41 L434.60 87.97 L435.60 88.53 L436.60 89.11 L437.60 89.69 L438.60 90.27 L439.60 90.85 L440.60 91.44 L441.60 92.03 L442.60 92.64 L443.60 93.26 L444.60 93.90 L445.60 94.57 L446.60 95.26 L447.60 95.98 L448.60 96.71 L449.60 97.45 L450.60 98.19 L451.60 98.93 L452.60 99.67 L453.60 100.41 L454.60 101.12 L455.60 101.81 L456.60 102.47 L457.60 103.09 L458.60 103.67 L459.60 104.22 L460.60 104.75 L461.60 105.26 L462.60 105.77 L463.60 106.28 L464.60 106.78 L465.60 107.28 L466.60 107.79 L467.60 108.28 L468.60 108.78 L469.60 109.27 L470.60 109.76 L471.60 110.25 L472.60 110.73 L473.60 111.21 L474.60 111.69 L475.60 112.17 L476.60 112.64 L477.60 113.09 L478.60 113.51 L479.60 113.90 L480.60 114.25 L481.60 114.57 L482.60 114.85 L483.60 115.11 L484.60 115.35 L485.60 115.59 L486.60 115.82 L487.60 116.05 L488.60 116.28 L489.60 116.51 L490.60 116.74 L491.60 116.97 L492.60 117.20 L493.60 117.43 L494.60 117.66 L495.60 117.88 L496.60 118.10 L497.60 118.31 L498.60 118.51 L499.60 118.69 L500.60 118.84 L501.60 118.97 L502.60 119.08 L503.60 119.18 L504.60 119.26 L505.60 119.35 L506.60 119.43 L507.60 119.51 L508.60 119.59 L509.60 119.67 L510.60 119.75 L511.60 119.83 L512.60 119.91 L513.60 119.99 L514.60 120.07 L515.60 120.15 L516.60 120.22 L517.60 120.30 L518.60 120.37 L519.60 120.44 L520.60 120.51 L521.60 120.57 L522.60 120.62 L523.60 120.68 L524.60 120.73 L525.60 120.78 L526.60 120.83 L527.60 120.88 L528.60 120.93 L529.60 120.98 L530.60 121.03 L531.60 121.08 L532.60 121.13 L533.60 121.18 L534.60 121.23 L535.60 121.28 L536.60 121.33 L537.60 121.38 L538.60 121.43 L539.60 121.48 L540.60 121.53 L541.60 121.58 L542.60 121.63 L543.60 121.68 L544.60 121.73 L545.60 121.78 L546.60 121.83 L547.60 121.88 L548.60 121.93 L549.60 121.98 L550.60 122.04 L551.60 122.09 L552.60 122.14 L553.60 122.19 L554.60 122.24 L555.60 122.29 L556.60 122.34 L557.60 122.40 L558.60 122.46 L559.60 122.53 L560.60 122.61 L561.60 122.69 L562.60 122.78 L563.60 122.88 L564.60 122.98 L565.60 123.07 L566.60 123.17 L567.60 123.27 L568.60 123.37 L569.60 123.47 L570.60 123.57 L571.60 123.67 L572.60 123.77 L573.60 123.88 L574.60 123.99 L575.60 124.11 L576.60 124.24 L577.60 124.37 L578.60 124.52 L579.60 124.67 L580.60 124.82 L581.60 124.98 L582.60 125.15 L583.60 125.32 L584.60 125.51 L585.60 125.71 L586.60 125.94 L587.60 126.19 L588.60 126.46 L589.60 126.75 L590.60 127.04 L591.60 127.35 L592.60 127.66 L593.60 127.98 L594.60 128.31 L595.60 128.66 L596.60 129.04 L597.60 129.44 L598.60 129.87 L599.60 130.31 L600.60 130.76 L601.60 131.23 L602.60 131.69 L603.60 132.17 L604.60 132.66 L605.60 133.16 L606.60 133.68 L607.60 134.23 L608.60 134.79 L609.60 135.37 L610.60 135.96 L611.60 136.55 L612.60 137.15 L613.60 137.75 L614.60 138.35 L615.60 138.96 L616.60 139.58 L617.60 140.20 L618.60 140.82 L619.60 141.45 L620.60 142.09 L621.60 142.73 L622.60 143.37 L623.60 144.01 L624.60 144.67 L625.60 145.35 L626.60 146.04 L627.60 146.76 L628.60 147.51 L629.60 148.27 L630.60 149.05 L631.60 149.84 L632.60 150.63 L633.60 151.42 L634.60 152.22 L635.60 153.01 L636.60 153.81 L637.60 154.61 L638.60 155.41 L639.60 156.21 L640.60 157.01 L641.60 157.82 L642.60 158.62 L643.60 159.43 L644.60 160.23 L645.60 161.03 L646.60 161.84 L647.60 162.64 L648.60 163.44 L649.60 164.24 L650.60 165.05 L651.60 165.85 L652.60 166.65 L653.60 167.45 L654.60 168.25 L655.60 169.05 L656.60 169.85 L657.60 170.65 L658.60 171.45 L659.60 172.25 L660.60 173.04 L661.60 173.84 L662.60 174.63 L663.60 175.43 L664.60 176.24 L665.60 177.05 L666.60 177.89 L667.60 178.74 L668.60 179.61 L669.60 180.51 L670.60 181.41 L671.60 182.31 L672.60 183.20 L673.60 184.05 L674.60 184.87 L675.30 185.64" stroke="#22ee22"/>
<path d="M386.60 53.60 L387.60 54.15 L388.60 54.71 L389.60 55.26 L390.60 55.81 L391.60 56.37 L392.60 56.92 L393.60 57.48 L394.60 58.03 L395.60 58.58 L396.60 59.14 L397.60 59.69 L398.60 60.24 L399.60 60.80 L400.60 61.35 L401.60 61.90 L402.60 62.46 L403.60 63.01 L404.60 63.56 L405.60 64.10 L406.60 64.64 L407.60 65.16 L408.60 65.67 L409.60 66.15 L410.60 66.61 L411.60 67.06 L412.60 67.49 L413.60 67.91 L414.60 68.33 L415.60 68.75 L416.60 69.17 L417.60 69.58 L418.60 70.00 L419.60 70.42 L420.60 70.83 L421.60 71.25 L422.60 71.67 L423.60 72.08 L424.60 72.50 L425.60 72.92 L426.60 73.33 L427.60 73.75 L428.60 74.17 L429.60 74.59 L430.60 75.02 L431.60 75.45 L432.60 75.90 L433.60 76.36 L434.60 76.83 L435.60 77.31 L436.60 77.80 L437.60 78.29 L438.60 78.79 L439.60 79.29 L440.60 79.78 L441.60 80.28 L442.60 80.78 L443.60 81.28 L444.60 81.78 L445.60 82.27 L446.60 82.77 L447.60 83.27 L448.60 83.77 L449.60 84.27 L450.60 84.76 L451.60 85.26 L452.60 85.75 L453.60 86.24 L454.60 86.72 L455.60 87.19 L456.60 87.64 L457.60 88.07 L458.60 88.48 L459.60 88.88 L460.60 89.26 L461.60 89.63 L462.60 90.01 L463.60 90.38 L464.60 90.74 L465.60 91.11 L466.60 91.46 L467.60 91.81 L468.60 92.15 L469.60 92.47 L470.60 92.79 L471.60 93.09 L472.60 93.38 L473.60 93.67 L474.60 93.96 L475.60 94.24 L476.60 94.52 L477.60 94.79 L478.60 95.06 L479.60 95.32 L480.60 95.56 L481.60 95.79 L482.60 96.00 L483.60 96.21 L484.60 96.42 L485.60 96.62 L486.60 96.82 L487.60 97.02 L488.60 97.22 L489.60 97.42 L490.60 97.62 L491.60 97.82 L492.60 98.02 L493.60 98.22 L494.60 98.42 L495.60 98.62 L496.60 98.81 L497.60 99.00 L498.60 99.17 L499.60 99.34 L500.60 99.49 L501.60 99.62 L502.60 99.74 L503.60 99.85 L504.60 99.96 L505.60 100.06 L506.60 100.16 L507.60 100.26 L508.60 100.36 L509.60 100.46 L510.60 100.56 L511.60 100.66 L512.60 100.76 L513.60 100.86 L514.60 100.96 L515.60 101.06 L516.60 101.16 L517.60 101.25 L518.60 101.35 L519.60 101.44 L520.60 101.53 L521.60 101.61 L522.60 101.69 L523.60 101.77 L524.60 101.84 L525.60 101.92 L526.60 101.99 L527.60 102.07 L528.60 102.15 L529.60 102.22 L530.60 102.30 L531.60 102.37 L532.60 102.45 L533.60 102.52 L534.60 102.60 L535.60 102.67 L536.60 102.75 L537.60 102.83 L538.60 102.91 L539.60 102.99 L540.60 103.08 L541.60 103.17 L542.60 103.27 L543.60 103.37 L544.60 103.47 L545.60 103.57 L546.60 103.67 L547.60 103.77 L548.60 103.87 L549.60 103.97 L550.60 104.07 L551.60 104.17 L552.60 104.27 L553.60 104.37 L554.60 104.48 L555.60 104.58 L556.60 104.68 L557.60 104.79 L558.60 104.90 L559.60 105.02 L560.60 105.15 L561.60 105.28 L562.60 105.42 L563.60 105.57 L564.60 105.71 L565.60 105.86 L566.60 106.01 L567.60 106.16 L568.60 106.30 L569.60 106.45 L570.60 106.60 L571.60 106.75 L572.60 106.90 L573.60 107.05 L574.60 107.20 L575.60 107.35 L576.60 107.50 L577.60 107.65 L578.60 107.81 L579.60 107.97 L580.60 108.12 L581.60 108.29 L582.60 108.46 L583.60 108.65 L584.60 108.86 L585.60 109.11 L586.60 109.41 L587.60 109.75 L588.60 110.12 L589.60 110.53 L590.60 110.95 L591.60 111.39 L592.60 111.84 L593.60 112.29 L594.60 112.76 L595.60 113.25 L596.60 113.77 L597.60 114.31 L598.60 114.87 L599.60 115.45 L600.60 116.05 L601.60 116.65 L602.60 117.26 L603.60 117.88 L604.60 118.52 L605.60 119.18 L606.60 119.87 L607.60 120.59 L608.60 121.34 L609.60 122.12 L610.60 122.91 L611.60 123.70 L612.60 124.51 L613.60 125.32 L614.60 126.14 L615.60 126.96 L616.60 127.80 L617.60 128.66 L618.60 129.52 L619.60 130.40 L620.60 131.28 L621.60 132.17 L622.60 133.06 L623.60 133.96 L624.60 134.85 L625.60 135.74 L626.60 136.64 L627.60 137.54 L628.60 138.44 L629.60 139.34 L630.60 140.24 L631.60 141.14 L632.60 142.04 L633.60 142.94 L634.60 143.84 L635.60 144.74 L636.60 145.64 L637.60 146.54 L638.60 147.43 L639.60 148.33 L640.60 149.22 L641.60 150.11 L642.60 151.01 L643.60 151.90 L644.60 152.79 L645.60 153.69 L646.60 154.59 L647.60 155.49 L648.60 156.39 L649.60 157.30 L650.60 158.21 L651.60 159.12 L652.60 160.03 L653.60 160.94 L654.60 161.85 L655.60 162.76 L656.60 163.67 L657.60 164.57 L658.60 165.48 L659.60 166.38 L660.60 167.29 L661.60 168.19 L662.60 169.09 L663.60 169.99 L664.60 170.88 L665.60 171.76 L666.60 172.64 L667.60 173.49 L668.60 174.33 L669.60 175.15 L670.60 175.95 L671.60 176.73 L672.60 177.49 L673.60 178.22 L674.60 178.91 L675.30 179.57" stroke="#ff2a2a"/>
<path d="M386.60 54.40 L387.60 54.96 L388.60 55.52 L389.60 56.09 L390.60 56.65 L391.60 57.21 L392.60 57.78 L393.60 58.34 L394.60 58.90 L395.60 59.46 L396.60 60.03 L397.60 60.59 L398.60 61.15 L399.60 61.71 L400.60 62.28 L401.60 62.84 L402.60 63.40 L403.60 63.96 L404.60 64.52 L405.60 65.07 L406.60 65.61 L407.60 66.14 L408.60 66.64 L409.60 67.12 L410.60 67.57 L411.60 68.00 L412.60 68.41 L413.60 68.82 L414.60 69.21 L415.60 69.61 L416.60 70.01 L417.60 70.40 L418.60 70.80 L419.60 71.20 L420.60 71.59 L421.60 71.99 L422.60 72.38 L423.60 72.78 L424.60 73.17 L425.60 73.57 L426.60 73.97 L427.60 74.36 L428.60 74.76 L429.60 75.16 L430.60 75.57 L431.60 75.99 L432.60 76.43 L433.60 76.88 L434.60 77.35 L435.60 77.83 L436.60 78.32 L437.60 78.81 L438.60 79.31 L439.60 79.81 L440.60 80.32 L441.60 80.82 L442.60 81.32 L443.60 81.82 L444.60 82.32 L445.60 82.83 L446.60 83.33 L447.60 83.83 L448.60 84.33 L449.60 84.83 L450.60 85.34 L451.60 85.84 L452.60 86.33 L453.60 86.82 L454.60 87.29 L455.60 87.74 L456.60 88.16 L457.60 88.55 L458.60 88.91 L459.60 89.23 L460.60 89.54 L461.60 89.84 L462.60 90.13 L463.60 90.41 L464.60 90.70 L465.60 90.97 L466.60 91.25 L467.60 91.51 L468.60 91.75 L469.60 91.99 L470.60 92.20 L471.60 92.41 L472.60 92.61 L473.60 92.80 L474.60 92.99 L475.60 93.17 L476.60 93.35 L477.60 93.53 L478.60 93.69 L479.60 93.85 L480.60 93.98 L481.60 94.11 L482.60 94.22 L483.60 94.32 L484.60 94.41 L485.60 94.50 L486.60 94.59 L487.60 94.68 L488.60 94.77 L489.60 94.86 L490.60 94.95 L491.60 95.04 L492.60 95.13 L493.60 95.22 L494.60 95.31 L495.60 95.40 L496.60 95.48 L497.60 95.56 L498.60 95.63 L499.60 95.68 L500.60 95.71 L501.60 95.73 L502.60 95.74 L503.60 95.74 L504.60 95.73 L505.60 95.71 L506.60 95.70 L507.60 95.69 L508.60 95.67 L509.60 95.66 L510.60 95.64 L511.60 95.63 L512.60 95.61 L513.60 95.60 L514.60 95.58 L515.60 95.57 L516.60 95.55 L517.60 95.53 L518.60 95.52 L519.60 95.50 L520.60 95.48 L521.60 95.47 L522.60 95.45 L523.60 95.43 L524.60 95.41 L525.60 95.39 L526.60 95.37 L527.60 95.35 L528.60 95.33 L529.60 95.31 L530.60 95.29 L531.60 95.27 L532.60 95.25 L533.60 95.23 L534.60 95.21 L535.60 95.19 L536.60 95.17 L537.60 95.15 L538.60 95.13 L539.60 95.12 L540.60 95.11 L541.60 95.10 L542.60 95.09 L543.60 95.08 L544.60 95.08 L545.60 95.07 L546.60 95.07 L547.60 95.06 L548.60 95.06 L549.60 95.05 L550.60 95.05 L551.60 95.04 L552.60 95.04 L553.60 95.03 L554.60 95.03 L555.60 95.02 L556.60 95.02 L557.60 95.02 L558.60 95.02 L559.60 95.03 L560.60 95.04 L561.60 95.06 L562.60 95.07 L563.60 95.10 L564.60 95.12 L565.60 95.15 L566.60 95.17 L567.60 95.20 L568.60 95.24 L569.60 95.29 L570.60 95.37 L571.60 95.46 L572.60 95.59 L573.60 95.75 L574.60 95.93 L575.60 96.12 L576.60 96.32 L577.60 96.53 L578.60 96.73 L579.60 96.94 L580.60 97.14 L581.60 97.34 L582.60 97.54 L583.60 97.75 L584.60 97.98 L585.60 98.24 L586.60 98.54 L587.60 98.86 L588.60 99.21 L589.60 99.59 L590.60 99.98 L591.60 100.38 L592.60 100.79 L593.60 101.22 L594.60 101.67 L595.60 102.15 L596.60 102.67 L597.60 103.23 L598.60 103.83 L599.60 104.45 L600.60 105.10 L601.60 105.76 L602.60 106.42 L603.60 107.10 L604.60 107.80 L605.60 108.51 L606.60 109.25 L607.60 110.02 L608.60 110.82 L609.60 111.64 L610.60 112.47 L611.60 113.30 L612.60 114.15 L613.60 114.99 L614.60 115.84 L615.60 116.70 L616.60 117.56 L617.60 118.43 L618.60 119.31 L619.60 120.19 L620.60 121.08 L621.60 121.97 L622.60 122.87 L623.60 123.77 L624.60 124.67 L625.60 125.59 L626.60 126.52 L627.60 127.47 L628.60 128.44 L629.60 129.42 L630.60 130.41 L631.60 131.40 L632.60 132.40 L633.60 133.40 L634.60 134.40 L635.60 135.40 L636.60 136.40 L637.60 137.40 L638.60 138.40 L639.60 139.40 L640.60 140.40 L641.60 141.40 L642.60 142.40 L643.60 143.40 L644.60 144.40 L645.60 145.40 L646.60 146.41 L647.60 147.41 L648.60 148.42 L649.60 149.43 L650.60 150.43 L651.60 151.44 L652.60 152.45 L653.60 153.47 L654.60 154.49 L655.60 155.51 L656.60 156.55 L657.60 157.60 L658.60 158.66 L659.60 159.74 L660.60 160.82 L661.60 161.92 L662.60 163.01 L663.60 164.11 L664.60 165.20 L665.60 166.29 L666.60 167.38 L667.60 168.45 L668.60 169.52 L669.60 170.58 L670.60 171.63 L671.60 172.66 L672.60 173.67 L673.60 174.63 L674.60 175.55 L675.30 176.42" stroke="#303030"/>
</g>
<rect x="386.50" y="9.30" width="289.20" height="216.50" fill="none" stroke="#626262" stroke-width="1.1"/>
<path d="M444.34 225.80v-4M444.34 9.30v4M502.18 225.80v-4M502.18 9.30v4M560.02 225.80v-4M560.02 9.30v4M617.86 225.80v-4M617.86 9.30v4M415.42 225.80v-2M415.42 9.30v2M473.26 225.80v-2M473.26 9.30v2M531.10 225.80v-2M531.10 9.30v2M588.94 225.80v-2M588.94 9.30v2M646.78 225.80v-2M646.78 9.30v2M386.50 171.68h4M675.70 171.68h-4M386.50 117.55h4M675.70 117.55h-4M386.50 63.43h4M675.70 63.43h-4M386.50 198.74h2M675.70 198.74h-2M386.50 144.61h2M675.70 144.61h-2M386.50 90.49h2M675.70 90.49h-2M386.50 36.36h2M675.70 36.36h-2" stroke="#626262" stroke-width="1.1" fill="none"/>
<g style="font-family:'Liberation Sans',Arial,sans-serif;font-size:11.1px" fill="#0a0a0a" stroke="#0a0a0a" stroke-width="0.18">
<text x="30.30" y="239.2" text-anchor="middle">550</text>
<text x="71.74" y="239.2" text-anchor="middle">600</text>
<text x="113.19" y="239.2" text-anchor="middle">650</text>
<text x="154.63" y="239.2" text-anchor="middle">700</text>
<text x="196.07" y="239.2" text-anchor="middle">750</text>
<text x="237.51" y="239.2" text-anchor="middle">800</text>
<text x="278.96" y="239.2" text-anchor="middle">850</text>
<text x="320.40" y="239.2" text-anchor="middle">900</text>
<text x="25.4" y="230.40" text-anchor="end">2</text>
<text x="25.4" y="176.28" text-anchor="end">3</text>
<text x="25.4" y="122.15" text-anchor="end">4</text>
<text x="25.4" y="68.03" text-anchor="end">5</text>
<text x="25.4" y="13.90" text-anchor="end">6</text>
<text x="386.50" y="239.2" text-anchor="middle">550</text>
<text x="444.34" y="239.2" text-anchor="middle">600</text>
<text x="502.18" y="239.2" text-anchor="middle">650</text>
<text x="560.02" y="239.2" text-anchor="middle">700</text>
<text x="617.86" y="239.2" text-anchor="middle">750</text>
<text x="675.70" y="239.2" text-anchor="middle">800</text>
<text x="381.6" y="230.30" text-anchor="end">5</text>
<text x="381.6" y="176.18" text-anchor="end">6</text>
<text x="381.6" y="122.05" text-anchor="end">7</text>
<text x="381.6" y="67.93" text-anchor="end">8</text>
<text x="381.6" y="13.80" text-anchor="end">9</text>
<g style="font-size:11.25px">
<text x="175.2" y="255.4" text-anchor="middle">Wavelength (nm)</text>
<text x="531.1" y="255.4" text-anchor="middle">Wavelength (nm)</text>
<text transform="translate(10.0 118.0) rotate(-90)" text-anchor="middle">Absorption (%)</text>
<text transform="translate(357.5 117.6) rotate(-90)" text-anchor="middle">Absorption (%)</text>
</g>
</g>
<g style="font-family:'Liberation Sans',Arial,sans-serif;font-size:9.5px" fill="#0a0a0a" stroke="#0a0a0a" stroke-width="0.12">
<text x="273.00" y="22.40" text-anchor="end"><tspan font-style="italic" font-family="DejaVu Serif, serif" font-size="8.6px">&#963;</tspan><tspan font-size="6.5px" dy="2.5">layer</tspan><tspan dy="-2.5">= 0 nm</tspan></text>
<path d="M277.90 19.00H307.40" stroke="#808080" stroke-width="1.6"/>
<text x="273.00" y="32.90" text-anchor="end">20 nm</text>
<path d="M277.90 29.50H307.40" stroke="#ff4040" stroke-width="1.2"/>
<text x="273.00" y="43.60" text-anchor="end">20 nm</text>
<path d="M277.90 40.20H307.40" stroke="#40e040" stroke-width="1.2"/>
<text x="273.00" y="54.30" text-anchor="end">20 nm</text>
<path d="M277.90 50.90H307.40" stroke="#6060ff" stroke-width="1.2"/>
<text x="273.00" y="64.90" text-anchor="end">50 nm</text>
<path d="M277.90 61.50H307.40" stroke="#ff40ff" stroke-width="1.2"/>
<text x="273.00" y="75.60" text-anchor="end">50 nm</text>
<path d="M277.90 72.20H307.40" stroke="#40f0f0" stroke-width="1.2"/>
<text x="273.00" y="86.20" text-anchor="end">50 nm</text>
<path d="M277.90 82.80H307.40" stroke="#f0f040" stroke-width="1.2"/>
</g>
<g style="font-family:'Liberation Sans',Arial,sans-serif;font-size:9.5px" fill="#0a0a0a" stroke="#0a0a0a" stroke-width="0.12">
<text x="629.10" y="22.30" text-anchor="end"><tspan font-style="italic" font-family="DejaVu Serif, serif" font-size="8.6px">&#963;</tspan><tspan font-size="6.5px" dy="2.5">layer</tspan><tspan dy="-2.5">= 0 nm</tspan></text>
<path d="M633.90 18.90H663.10" stroke="#808080" stroke-width="1.6"/>
<text x="629.10" y="32.80" text-anchor="end">30 nm</text>
<path d="M633.90 29.40H663.10" stroke="#ff4040" stroke-width="1.2"/>
<text x="629.10" y="43.80" text-anchor="end">50 nm</text>
<path d="M633.90 40.40H663.10" stroke="#40e040" stroke-width="1.2"/>
</g>
<g style="font-family:'Liberation Sans',Arial,sans-serif;font-size:16px;font-weight:bold" fill="#000">
<text x="-0.4" y="8.8">a</text>
<text x="347.6" y="8.8">c</text>
<text x="0" y="296">b</text>
<text x="347.4" y="296">d</text>
</g>
<path d="M136.40 297.18 V310.32 A11.50 6.18 0 0 0 159.40 310.32 V297.18 Z" fill="url(#bcy)"/><path d="M136.40 297.18 V310.32 A11.50 6.18 0 0 0 159.40 310.32 V297.18 Z" fill="url(#scy)"/><path d="M136.40 297.18 V310.32 A11.50 6.18 0 0 0 159.40 310.32 V297.18 Z" fill="none" stroke="#0a0a0a" stroke-width="0.6"/><ellipse cx="147.90" cy="297.18" rx="11.50" ry="6.18" fill="url(#to)" stroke="#0a0a0a" stroke-width="0.6"/><path d="M147.90 303.37V316.50" stroke="#0a0a0a" stroke-width="0.7"/>
<path d="M96.20 315.33 V328.37 A11.40 6.13 0 0 0 119.00 328.37 V315.33 Z" fill="url(#bbl)"/><path d="M96.20 315.33 V328.37 A11.40 6.13 0 0 0 119.00 328.37 V315.33 Z" fill="url(#sbl)"/><path d="M96.20 315.33 V328.37 A11.40 6.13 0 0 0 119.00 328.37 V315.33 Z" fill="none" stroke="#0a0a0a" stroke-width="0.6"/><ellipse cx="107.60" cy="315.33" rx="11.40" ry="6.13" fill="url(#tr)" stroke="#0a0a0a" stroke-width="0.6"/><path d="M107.60 321.46V334.50" stroke="#0a0a0a" stroke-width="0.7"/>
<path d="M177.40 318.06 V330.34 A11.65 6.26 0 0 0 200.70 330.34 V318.06 Z" fill="url(#bbl)"/><path d="M177.40 318.06 V330.34 A11.65 6.26 0 0 0 200.70 330.34 V318.06 Z" fill="url(#sbl)"/><path d="M177.40 318.06 V330.34 A11.65 6.26 0 0 0 200.70 330.34 V318.06 Z" fill="none" stroke="#0a0a0a" stroke-width="0.6"/><ellipse cx="189.05" cy="318.06" rx="11.65" ry="6.26" fill="url(#tl)" stroke="#0a0a0a" stroke-width="0.6"/><path d="M189.05 324.32V336.60" stroke="#0a0a0a" stroke-width="0.7"/>
<path d="M51.90 325.83 V339.47 A11.20 6.03 0 0 0 74.30 339.47 V325.83 Z" fill="url(#bbl)"/><path d="M51.90 325.83 V339.47 A11.20 6.03 0 0 0 74.30 339.47 V325.83 Z" fill="url(#sbl)"/><path d="M51.90 325.83 V339.47 A11.20 6.03 0 0 0 74.30 339.47 V325.83 Z" fill="none" stroke="#0a0a0a" stroke-width="0.6"/><ellipse cx="63.10" cy="325.83" rx="11.20" ry="6.03" fill="url(#tr)" stroke="#0a0a0a" stroke-width="0.6"/><path d="M63.10 331.85V345.50" stroke="#0a0a0a" stroke-width="0.7"/>
<path d="M141.10 328.50 V340.90 A11.35 6.10 0 0 0 163.80 340.90 V328.50 Z" fill="url(#byl)"/><path d="M141.10 328.50 V340.90 A11.35 6.10 0 0 0 163.80 340.90 V328.50 Z" fill="url(#ylo)"/><path d="M141.10 328.50 V340.90 A11.35 6.10 0 0 0 163.80 340.90 V328.50 Z" fill="url(#syl)"/><path d="M141.10 328.50 V340.90 A11.35 6.10 0 0 0 163.80 340.90 V328.50 Z" fill="none" stroke="#0a0a0a" stroke-width="0.6"/><ellipse cx="152.45" cy="328.50" rx="11.35" ry="6.10" fill="url(#tL)" stroke="#0a0a0a" stroke-width="0.6"/><path d="M152.45 334.61V347.00" stroke="#0a0a0a" stroke-width="0.7"/>
<path d="M224.70 333.66 V346.14 A11.45 6.16 0 0 0 247.60 346.14 V333.66 Z" fill="url(#byl)"/><path d="M224.70 333.66 V346.14 A11.45 6.16 0 0 0 247.60 346.14 V333.66 Z" fill="url(#ylo)"/><path d="M224.70 333.66 V346.14 A11.45 6.16 0 0 0 247.60 346.14 V333.66 Z" fill="url(#syl)"/><path d="M224.70 333.66 V346.14 A11.45 6.16 0 0 0 247.60 346.14 V333.66 Z" fill="none" stroke="#0a0a0a" stroke-width="0.6"/><ellipse cx="236.15" cy="333.66" rx="11.45" ry="6.16" fill="url(#tr)" stroke="#0a0a0a" stroke-width="0.6"/><path d="M236.15 339.81V352.30" stroke="#0a0a0a" stroke-width="0.7"/>
<path d="M91.00 340.11 V354.19 A11.75 6.31 0 0 0 114.50 354.19 V340.11 Z" fill="url(#bbl)"/><path d="M91.00 340.11 V354.19 A11.75 6.31 0 0 0 114.50 354.19 V340.11 Z" fill="url(#sbl)"/><path d="M91.00 340.11 V354.19 A11.75 6.31 0 0 0 114.50 354.19 V340.11 Z" fill="none" stroke="#0a0a0a" stroke-width="0.6"/><ellipse cx="102.75" cy="340.11" rx="11.75" ry="6.31" fill="url(#to)" stroke="#0a0a0a" stroke-width="0.6"/><path d="M102.75 346.43V360.50" stroke="#0a0a0a" stroke-width="0.7"/>
<path d="M10.50 340.76 V353.94 A11.65 6.26 0 0 0 33.80 353.94 V340.76 Z" fill="url(#bbl)"/><path d="M10.50 340.76 V353.94 A11.65 6.26 0 0 0 33.80 353.94 V340.76 Z" fill="url(#sbl)"/><path d="M10.50 340.76 V353.94 A11.65 6.26 0 0 0 33.80 353.94 V340.76 Z" fill="none" stroke="#0a0a0a" stroke-width="0.6"/><ellipse cx="22.15" cy="340.76" rx="11.65" ry="6.26" fill="url(#tr)" stroke="#0a0a0a" stroke-width="0.6"/><path d="M22.15 347.02V360.20" stroke="#0a0a0a" stroke-width="0.7"/>
<path d="M177.40 342.21 V356.19 A11.75 6.31 0 0 0 200.90 356.19 V342.21 Z" fill="url(#byl)"/><path d="M177.40 342.21 V356.19 A11.75 6.31 0 0 0 200.90 356.19 V342.21 Z" fill="url(#ylo)"/><path d="M177.40 342.21 V356.19 A11.75 6.31 0 0 0 200.90 356.19 V342.21 Z" fill="url(#syl)"/><path d="M177.40 342.21 V356.19 A11.75 6.31 0 0 0 200.90 356.19 V342.21 Z" fill="none" stroke="#0a0a0a" stroke-width="0.6"/><ellipse cx="189.15" cy="342.21" rx="11.75" ry="6.31" fill="url(#tr)" stroke="#0a0a0a" stroke-width="0.6"/><path d="M189.15 348.53V362.50" stroke="#0a0a0a" stroke-width="0.7"/>
<path d="M263.10 343.10 V356.90 A11.15 6.00 0 0 0 285.40 356.90 V343.10 Z" fill="url(#byl)"/><path d="M263.10 343.10 V356.90 A11.15 6.00 0 0 0 285.40 356.90 V343.10 Z" fill="url(#ylo)"/><path d="M263.10 343.10 V356.90 A11.15 6.00 0 0 0 285.40 356.90 V343.10 Z" fill="url(#syl)"/><path d="M263.10 343.10 V356.90 A11.15 6.00 0 0 0 285.40 356.90 V343.10 Z" fill="none" stroke="#0a0a0a" stroke-width="0.6"/><ellipse cx="274.25" cy="343.10" rx="11.15" ry="6.00" fill="url(#tl)" stroke="#0a0a0a" stroke-width="0.6"/><path d="M274.25 349.10V362.90" stroke="#0a0a0a" stroke-width="0.7"/>
<path d="M143.70 348.85 V361.75 A12.00 6.45 0 0 0 167.70 361.75 V348.85 Z" fill="url(#byl)"/><path d="M143.70 348.85 V361.75 A12.00 6.45 0 0 0 167.70 361.75 V348.85 Z" fill="url(#ylo)"/><path d="M143.70 348.85 V361.75 A12.00 6.45 0 0 0 167.70 361.75 V348.85 Z" fill="url(#syl)"/><path d="M143.70 348.85 V361.75 A12.00 6.45 0 0 0 167.70 361.75 V348.85 Z" fill="none" stroke="#0a0a0a" stroke-width="0.6"/><ellipse cx="155.70" cy="348.85" rx="12.00" ry="6.45" fill="url(#tr)" stroke="#0a0a0a" stroke-width="0.6"/><path d="M155.70 355.29V368.20" stroke="#0a0a0a" stroke-width="0.7"/>
<path d="M53.00 352.01 V365.49 A11.75 6.31 0 0 0 76.50 365.49 V352.01 Z" fill="url(#byl)"/><path d="M53.00 352.01 V365.49 A11.75 6.31 0 0 0 76.50 365.49 V352.01 Z" fill="url(#ylo)"/><path d="M53.00 352.01 V365.49 A11.75 6.31 0 0 0 76.50 365.49 V352.01 Z" fill="url(#syl)"/><path d="M53.00 352.01 V365.49 A11.75 6.31 0 0 0 76.50 365.49 V352.01 Z" fill="none" stroke="#0a0a0a" stroke-width="0.6"/><ellipse cx="64.75" cy="352.01" rx="11.75" ry="6.31" fill="url(#tr)" stroke="#0a0a0a" stroke-width="0.6"/><path d="M64.75 358.33V371.80" stroke="#0a0a0a" stroke-width="0.7"/>
<path d="M225.40 357.29 V370.91 A11.70 6.29 0 0 0 248.80 370.91 V357.29 Z" fill="url(#byl)"/><path d="M225.40 357.29 V370.91 A11.70 6.29 0 0 0 248.80 370.91 V357.29 Z" fill="url(#ylo)"/><path d="M225.40 357.29 V370.91 A11.70 6.29 0 0 0 248.80 370.91 V357.29 Z" fill="url(#syl)"/><path d="M225.40 357.29 V370.91 A11.70 6.29 0 0 0 248.80 370.91 V357.29 Z" fill="none" stroke="#0a0a0a" stroke-width="0.6"/><ellipse cx="237.10" cy="357.29" rx="11.70" ry="6.29" fill="url(#tr)" stroke="#0a0a0a" stroke-width="0.6"/><path d="M237.10 363.58V377.20" stroke="#0a0a0a" stroke-width="0.7"/>
<path d="M280.50 359.69 V374.31 A11.70 6.29 0 0 0 303.90 374.31 V359.69 Z" fill="url(#byl)"/><path d="M280.50 359.69 V374.31 A11.70 6.29 0 0 0 303.90 374.31 V359.69 Z" fill="url(#ylo)"/><path d="M280.50 359.69 V374.31 A11.70 6.29 0 0 0 303.90 374.31 V359.69 Z" fill="url(#syl)"/><path d="M280.50 359.69 V374.31 A11.70 6.29 0 0 0 303.90 374.31 V359.69 Z" fill="none" stroke="#0a0a0a" stroke-width="0.6"/><ellipse cx="292.20" cy="359.69" rx="11.70" ry="6.29" fill="url(#tr)" stroke="#0a0a0a" stroke-width="0.6"/><path d="M292.20 365.98V380.60" stroke="#0a0a0a" stroke-width="0.7"/>
<path d="M188.30 365.77 V379.93 A12.05 6.47 0 0 0 212.40 379.93 V365.77 Z" fill="url(#bcy)"/><path d="M188.30 365.77 V379.93 A12.05 6.47 0 0 0 212.40 379.93 V365.77 Z" fill="url(#scy)"/><path d="M188.30 365.77 V379.93 A12.05 6.47 0 0 0 212.40 379.93 V365.77 Z" fill="none" stroke="#0a0a0a" stroke-width="0.6"/><ellipse cx="200.35" cy="365.77" rx="12.05" ry="6.47" fill="url(#tr)" stroke="#0a0a0a" stroke-width="0.6"/><path d="M200.35 372.24V386.40" stroke="#0a0a0a" stroke-width="0.7"/>
<path d="M3.60 366.46 V381.04 A11.45 6.16 0 0 0 26.50 381.04 V366.46 Z" fill="url(#bbl)"/><path d="M3.60 366.46 V381.04 A11.45 6.16 0 0 0 26.50 381.04 V366.46 Z" fill="url(#sbl)"/><path d="M3.60 366.46 V381.04 A11.45 6.16 0 0 0 26.50 381.04 V366.46 Z" fill="none" stroke="#0a0a0a" stroke-width="0.6"/><ellipse cx="15.05" cy="366.46" rx="11.45" ry="6.16" fill="url(#tl)" stroke="#0a0a0a" stroke-width="0.6"/><path d="M15.05 372.61V387.20" stroke="#0a0a0a" stroke-width="0.7"/>
<path d="M96.20 370.85 V384.65 A12.00 6.45 0 0 0 120.20 384.65 V370.85 Z" fill="url(#bbl)"/><path d="M96.20 370.85 V384.65 A12.00 6.45 0 0 0 120.20 384.65 V370.85 Z" fill="url(#sbl)"/><path d="M96.20 370.85 V384.65 A12.00 6.45 0 0 0 120.20 384.65 V370.85 Z" fill="none" stroke="#0a0a0a" stroke-width="0.6"/><ellipse cx="108.20" cy="370.85" rx="12.00" ry="6.45" fill="url(#tr)" stroke="#0a0a0a" stroke-width="0.6"/><path d="M108.20 377.29V391.10" stroke="#0a0a0a" stroke-width="0.7"/>
<path d="M60.80 379.19 V393.11 A11.90 6.39 0 0 0 84.60 393.11 V379.19 Z" fill="url(#bcy)"/><path d="M60.80 379.19 V393.11 A11.90 6.39 0 0 0 84.60 393.11 V379.19 Z" fill="url(#scy)"/><path d="M60.80 379.19 V393.11 A11.90 6.39 0 0 0 84.60 393.11 V379.19 Z" fill="none" stroke="#0a0a0a" stroke-width="0.6"/><ellipse cx="72.70" cy="379.19" rx="11.90" ry="6.39" fill="url(#tL)" stroke="#0a0a0a" stroke-width="0.6"/><path d="M72.70 385.59V399.50" stroke="#0a0a0a" stroke-width="0.7"/>
<path d="M141.10 381.91 V396.49 A11.75 6.31 0 0 0 164.60 396.49 V381.91 Z" fill="url(#bcy)"/><path d="M141.10 381.91 V396.49 A11.75 6.31 0 0 0 164.60 396.49 V381.91 Z" fill="url(#scy)"/><path d="M141.10 381.91 V396.49 A11.75 6.31 0 0 0 164.60 396.49 V381.91 Z" fill="none" stroke="#0a0a0a" stroke-width="0.6"/><ellipse cx="152.85" cy="381.91" rx="11.75" ry="6.31" fill="url(#tr)" stroke="#0a0a0a" stroke-width="0.6"/><path d="M152.85 388.23V402.80" stroke="#0a0a0a" stroke-width="0.7"/>
<path d="M267.80 385.59 V399.21 A11.70 6.29 0 0 0 291.20 399.21 V385.59 Z" fill="url(#bbu)"/><path d="M267.80 385.59 V399.21 A11.70 6.29 0 0 0 291.20 399.21 V385.59 Z" fill="url(#sbu)"/><path d="M267.80 385.59 V399.21 A11.70 6.29 0 0 0 291.20 399.21 V385.59 Z" fill="none" stroke="#0a0a0a" stroke-width="0.6"/><ellipse cx="279.50" cy="385.59" rx="11.70" ry="6.29" fill="url(#tb)" stroke="#0a0a0a" stroke-width="0.6"/><path d="M279.50 391.88V405.50" stroke="#0a0a0a" stroke-width="0.7"/>
<path d="M226.20 386.46 V400.44 A11.65 6.26 0 0 0 249.50 400.44 V386.46 Z" fill="url(#byl)"/><path d="M226.20 386.46 V400.44 A11.65 6.26 0 0 0 249.50 400.44 V386.46 Z" fill="url(#ylo)"/><path d="M226.20 386.46 V400.44 A11.65 6.26 0 0 0 249.50 400.44 V386.46 Z" fill="url(#syl)"/><path d="M226.20 386.46 V400.44 A11.65 6.26 0 0 0 249.50 400.44 V386.46 Z" fill="none" stroke="#0a0a0a" stroke-width="0.6"/><ellipse cx="237.85" cy="386.46" rx="11.65" ry="6.26" fill="url(#to)" stroke="#0a0a0a" stroke-width="0.6"/><path d="M237.85 392.72V406.70" stroke="#0a0a0a" stroke-width="0.7"/>
<path d="M181.70 395.34 V408.86 A11.80 6.34 0 0 0 205.30 408.86 V395.34 Z" fill="url(#bcy)"/><path d="M181.70 395.34 V408.86 A11.80 6.34 0 0 0 205.30 408.86 V395.34 Z" fill="url(#scy)"/><path d="M181.70 395.34 V408.86 A11.80 6.34 0 0 0 205.30 408.86 V395.34 Z" fill="none" stroke="#0a0a0a" stroke-width="0.6"/><ellipse cx="193.50" cy="395.34" rx="11.80" ry="6.34" fill="url(#tr)" stroke="#0a0a0a" stroke-width="0.6"/><path d="M193.50 401.68V415.20" stroke="#0a0a0a" stroke-width="0.7"/>
<path d="M1.40 395.60 V409.40 A12.10 6.50 0 0 0 25.60 409.40 V395.60 Z" fill="url(#bbl)"/><path d="M1.40 395.60 V409.40 A12.10 6.50 0 0 0 25.60 409.40 V395.60 Z" fill="url(#sbl)"/><path d="M1.40 395.60 V409.40 A12.10 6.50 0 0 0 25.60 409.40 V395.60 Z" fill="none" stroke="#0a0a0a" stroke-width="0.6"/><ellipse cx="13.50" cy="395.60" rx="12.10" ry="6.50" fill="url(#tl)" stroke="#0a0a0a" stroke-width="0.6"/><path d="M13.50 402.10V415.90" stroke="#0a0a0a" stroke-width="0.7"/>
<path d="M90.30 400.18 V414.22 A11.50 6.18 0 0 0 113.30 414.22 V400.18 Z" fill="url(#bcy)"/><path d="M90.30 400.18 V414.22 A11.50 6.18 0 0 0 113.30 414.22 V400.18 Z" fill="url(#scy)"/><path d="M90.30 400.18 V414.22 A11.50 6.18 0 0 0 113.30 414.22 V400.18 Z" fill="none" stroke="#0a0a0a" stroke-width="0.6"/><ellipse cx="101.80" cy="400.18" rx="11.50" ry="6.18" fill="url(#tr)" stroke="#0a0a0a" stroke-width="0.6"/><path d="M101.80 406.37V420.40" stroke="#0a0a0a" stroke-width="0.7"/>
<path d="M53.00 403.72 V418.88 A11.95 6.42 0 0 0 76.90 418.88 V403.72 Z" fill="url(#byl)"/><path d="M53.00 403.72 V418.88 A11.95 6.42 0 0 0 76.90 418.88 V403.72 Z" fill="url(#ylo)"/><path d="M53.00 403.72 V418.88 A11.95 6.42 0 0 0 76.90 418.88 V403.72 Z" fill="url(#syl)"/><path d="M53.00 403.72 V418.88 A11.95 6.42 0 0 0 76.90 418.88 V403.72 Z" fill="none" stroke="#0a0a0a" stroke-width="0.6"/><ellipse cx="64.95" cy="403.72" rx="11.95" ry="6.42" fill="url(#tr)" stroke="#0a0a0a" stroke-width="0.6"/><path d="M64.95 410.14V425.30" stroke="#0a0a0a" stroke-width="0.7"/>
<path d="M139.70 407.35 V421.75 A12.20 6.55 0 0 0 164.10 421.75 V407.35 Z" fill="url(#byl)"/><path d="M139.70 407.35 V421.75 A12.20 6.55 0 0 0 164.10 421.75 V407.35 Z" fill="url(#ylo)"/><path d="M139.70 407.35 V421.75 A12.20 6.55 0 0 0 164.10 421.75 V407.35 Z" fill="url(#syl)"/><path d="M139.70 407.35 V421.75 A12.20 6.55 0 0 0 164.10 421.75 V407.35 Z" fill="none" stroke="#0a0a0a" stroke-width="0.6"/><ellipse cx="151.90" cy="407.35" rx="12.20" ry="6.55" fill="url(#tr)" stroke="#0a0a0a" stroke-width="0.6"/><path d="M151.90 413.90V428.30" stroke="#0a0a0a" stroke-width="0.7"/>
<path d="M272.20 409.78 V422.92 A12.25 6.58 0 0 0 296.70 422.92 V409.78 Z" fill="url(#bbu)"/><path d="M272.20 409.78 V422.92 A12.25 6.58 0 0 0 296.70 422.92 V409.78 Z" fill="url(#sbu)"/><path d="M272.20 409.78 V422.92 A12.25 6.58 0 0 0 296.70 422.92 V409.78 Z" fill="none" stroke="#0a0a0a" stroke-width="0.6"/><ellipse cx="284.45" cy="409.78" rx="12.25" ry="6.58" fill="url(#tb)" stroke="#0a0a0a" stroke-width="0.6"/><path d="M284.45 416.35V429.50" stroke="#0a0a0a" stroke-width="0.7"/>
<path d="M234.60 410.09 V423.11 A11.90 6.39 0 0 0 258.40 423.11 V410.09 Z" fill="url(#byl)"/><path d="M234.60 410.09 V423.11 A11.90 6.39 0 0 0 258.40 423.11 V410.09 Z" fill="url(#ylo)"/><path d="M234.60 410.09 V423.11 A11.90 6.39 0 0 0 258.40 423.11 V410.09 Z" fill="url(#syl)"/><path d="M234.60 410.09 V423.11 A11.90 6.39 0 0 0 258.40 423.11 V410.09 Z" fill="none" stroke="#0a0a0a" stroke-width="0.6"/><ellipse cx="246.50" cy="410.09" rx="11.90" ry="6.39" fill="url(#tr)" stroke="#0a0a0a" stroke-width="0.6"/><path d="M246.50 416.49V429.50" stroke="#0a0a0a" stroke-width="0.7"/>
<path d="M185.40 417.76 V432.04 A12.60 6.76 0 0 0 210.60 432.04 V417.76 Z" fill="url(#byl)"/><path d="M185.40 417.76 V432.04 A12.60 6.76 0 0 0 210.60 432.04 V417.76 Z" fill="url(#ylo)"/><path d="M185.40 417.76 V432.04 A12.60 6.76 0 0 0 210.60 432.04 V417.76 Z" fill="url(#syl)"/><path d="M185.40 417.76 V432.04 A12.60 6.76 0 0 0 210.60 432.04 V417.76 Z" fill="none" stroke="#0a0a0a" stroke-width="0.6"/><ellipse cx="198.00" cy="417.76" rx="12.60" ry="6.76" fill="url(#tr)" stroke="#0a0a0a" stroke-width="0.6"/><path d="M198.00 424.52V438.80" stroke="#0a0a0a" stroke-width="0.7"/>
<path d="M97.40 417.55 V432.25 A12.20 6.55 0 0 0 121.80 432.25 V417.55 Z" fill="url(#byl)"/><path d="M97.40 417.55 V432.25 A12.20 6.55 0 0 0 121.80 432.25 V417.55 Z" fill="url(#ylo)"/><path d="M97.40 417.55 V432.25 A12.20 6.55 0 0 0 121.80 432.25 V417.55 Z" fill="url(#syl)"/><path d="M97.40 417.55 V432.25 A12.20 6.55 0 0 0 121.80 432.25 V417.55 Z" fill="none" stroke="#0a0a0a" stroke-width="0.6"/><ellipse cx="109.60" cy="417.55" rx="12.20" ry="6.55" fill="url(#tr)" stroke="#0a0a0a" stroke-width="0.6"/><path d="M109.60 424.10V438.80" stroke="#0a0a0a" stroke-width="0.7"/>
<path d="M12.30 419.32 V434.58 A12.15 6.52 0 0 0 36.60 434.58 V419.32 Z" fill="url(#byl)"/><path d="M12.30 419.32 V434.58 A12.15 6.52 0 0 0 36.60 434.58 V419.32 Z" fill="url(#ylo)"/><path d="M12.30 419.32 V434.58 A12.15 6.52 0 0 0 36.60 434.58 V419.32 Z" fill="url(#syl)"/><path d="M12.30 419.32 V434.58 A12.15 6.52 0 0 0 36.60 434.58 V419.32 Z" fill="none" stroke="#0a0a0a" stroke-width="0.6"/><ellipse cx="24.45" cy="419.32" rx="12.15" ry="6.52" fill="url(#tL)" stroke="#0a0a0a" stroke-width="0.6"/><path d="M24.45 425.85V441.10" stroke="#0a0a0a" stroke-width="0.7"/>
<path d="M47.50 432.80 V447.80 A12.10 6.50 0 0 0 71.70 447.80 V432.80 Z" fill="url(#bbl)"/><path d="M47.50 432.80 V447.80 A12.10 6.50 0 0 0 71.70 447.80 V432.80 Z" fill="url(#sbl)"/><path d="M47.50 432.80 V447.80 A12.10 6.50 0 0 0 71.70 447.80 V432.80 Z" fill="none" stroke="#0a0a0a" stroke-width="0.6"/><ellipse cx="59.60" cy="432.80" rx="12.10" ry="6.50" fill="url(#tr)" stroke="#0a0a0a" stroke-width="0.6"/><path d="M59.60 439.30V454.30" stroke="#0a0a0a" stroke-width="0.7"/>
<path d="M233.50 435.58 V450.52 A12.45 6.68 0 0 0 258.40 450.52 V435.58 Z" fill="url(#bcy)"/><path d="M233.50 435.58 V450.52 A12.45 6.68 0 0 0 258.40 450.52 V435.58 Z" fill="url(#scy)"/><path d="M233.50 435.58 V450.52 A12.45 6.68 0 0 0 258.40 450.52 V435.58 Z" fill="none" stroke="#0a0a0a" stroke-width="0.6"/><ellipse cx="245.95" cy="435.58" rx="12.45" ry="6.68" fill="url(#to)" stroke="#0a0a0a" stroke-width="0.6"/><path d="M245.95 442.26V457.20" stroke="#0a0a0a" stroke-width="0.7"/>
<path d="M138.90 439.48 V454.52 A12.45 6.68 0 0 0 163.80 454.52 V439.48 Z" fill="url(#bbl)"/><path d="M138.90 439.48 V454.52 A12.45 6.68 0 0 0 163.80 454.52 V439.48 Z" fill="url(#sbl)"/><path d="M138.90 439.48 V454.52 A12.45 6.68 0 0 0 163.80 454.52 V439.48 Z" fill="none" stroke="#0a0a0a" stroke-width="0.6"/><ellipse cx="151.35" cy="439.48" rx="12.45" ry="6.68" fill="url(#tr)" stroke="#0a0a0a" stroke-width="0.6"/><path d="M151.35 446.16V461.20" stroke="#0a0a0a" stroke-width="0.7"/>
<path d="M101.30 453.56 V468.84 A12.60 6.76 0 0 0 126.50 468.84 V453.56 Z" fill="url(#bbl)"/><path d="M101.30 453.56 V468.84 A12.60 6.76 0 0 0 126.50 468.84 V453.56 Z" fill="url(#sbl)"/><path d="M101.30 453.56 V468.84 A12.60 6.76 0 0 0 126.50 468.84 V453.56 Z" fill="none" stroke="#0a0a0a" stroke-width="0.6"/><ellipse cx="113.90" cy="453.56" rx="12.60" ry="6.76" fill="url(#to)" stroke="#0a0a0a" stroke-width="0.6"/><path d="M113.90 460.32V475.60" stroke="#0a0a0a" stroke-width="0.7"/>
<path d="M191.20 456.63 V472.07 A12.55 6.73 0 0 0 216.30 472.07 V456.63 Z" fill="url(#bcy)"/><path d="M191.20 456.63 V472.07 A12.55 6.73 0 0 0 216.30 472.07 V456.63 Z" fill="url(#scy)"/><path d="M191.20 456.63 V472.07 A12.55 6.73 0 0 0 216.30 472.07 V456.63 Z" fill="none" stroke="#0a0a0a" stroke-width="0.6"/><ellipse cx="203.75" cy="456.63" rx="12.55" ry="6.73" fill="url(#to)" stroke="#0a0a0a" stroke-width="0.6"/><path d="M203.75 463.37V478.80" stroke="#0a0a0a" stroke-width="0.7"/>
<path d="M139.40 471.16 V487.24 A12.60 6.76 0 0 0 164.60 487.24 V471.16 Z" fill="url(#bcy)"/><path d="M139.40 471.16 V487.24 A12.60 6.76 0 0 0 164.60 487.24 V471.16 Z" fill="url(#scy)"/><path d="M139.40 471.16 V487.24 A12.60 6.76 0 0 0 164.60 487.24 V471.16 Z" fill="none" stroke="#0a0a0a" stroke-width="0.6"/><ellipse cx="152.00" cy="471.16" rx="12.60" ry="6.76" fill="url(#to)" stroke="#0a0a0a" stroke-width="0.6"/><path d="M152.00 477.92V494.00" stroke="#0a0a0a" stroke-width="0.7"/>
<ellipse cx="514.29" cy="328.60" rx="11.11" ry="5.34" fill="#f0a838"/><ellipse cx="514.29" cy="327.50" rx="11.11" ry="5.34" fill="url(#fA)" stroke="#000" stroke-width="0.60"/><ellipse cx="512.95" cy="326.40" rx="11.32" ry="5.44" fill="#38e8f4"/><ellipse cx="512.95" cy="325.30" rx="11.32" ry="5.44" fill="url(#fE)" stroke="#000" stroke-width="0.60"/><ellipse cx="519.88" cy="324.20" rx="12.36" ry="5.92" fill="#e4f040"/><ellipse cx="519.88" cy="323.10" rx="12.36" ry="5.92" fill="url(#fD)" stroke="#000" stroke-width="0.60"/><ellipse cx="517.72" cy="322.00" rx="11.73" ry="5.61" fill="#28a0f4"/><ellipse cx="517.72" cy="320.90" rx="11.73" ry="5.61" fill="url(#fD)" stroke="#000" stroke-width="0.60"/><ellipse cx="516.76" cy="319.80" rx="10.95" ry="5.23" fill="#f0a838"/><ellipse cx="516.76" cy="318.70" rx="10.95" ry="5.23" fill="url(#fE)" stroke="#000" stroke-width="0.60"/><ellipse cx="524.86" cy="317.60" rx="11.02" ry="5.25" fill="#f0a838"/><ellipse cx="524.86" cy="316.50" rx="11.02" ry="5.25" fill="url(#fC)" stroke="#000" stroke-width="0.60"/><ellipse cx="520.49" cy="315.40" rx="12.19" ry="5.80" fill="#30dcfa"/><ellipse cx="520.49" cy="314.30" rx="12.19" ry="5.80" fill="url(#fD)" stroke="#000" stroke-width="0.60"/><ellipse cx="516.19" cy="313.20" rx="11.16" ry="5.30" fill="#2c60f0"/><ellipse cx="516.19" cy="312.10" rx="11.16" ry="5.30" fill="url(#fD)" stroke="#000" stroke-width="0.60"/><ellipse cx="518.28" cy="311.00" rx="12.27" ry="5.82" fill="#40ece0"/><ellipse cx="518.28" cy="309.90" rx="12.27" ry="5.82" fill="url(#fA)" stroke="#000" stroke-width="0.60"/><ellipse cx="513.78" cy="308.80" rx="11.85" ry="5.60" fill="#f0a838"/><ellipse cx="513.78" cy="307.70" rx="11.85" ry="5.60" fill="url(#fE)" stroke="#000" stroke-width="0.60"/><ellipse cx="518.86" cy="306.60" rx="11.19" ry="5.27" fill="#e4f040"/><ellipse cx="518.86" cy="305.50" rx="11.19" ry="5.27" fill="url(#fA)" stroke="#000" stroke-width="0.60"/><ellipse cx="520.62" cy="304.60" rx="11.19" ry="5.27" fill="#38e8f4"/><ellipse cx="520.62" cy="303.50" rx="11.19" ry="5.27" fill="url(#fD)" stroke="#000" stroke-width="0.60"/><ellipse cx="518.90" cy="302.60" rx="11.42" ry="5.37" fill="#48d0d0"/><ellipse cx="518.90" cy="301.50" rx="11.42" ry="5.37" fill="url(#dR)" stroke="#000" stroke-width="0.65"/>
<ellipse cx="559.35" cy="343.60" rx="12.61" ry="6.14" fill="#2c60f0"/><ellipse cx="559.35" cy="342.50" rx="12.61" ry="6.14" fill="url(#fA)" stroke="#000" stroke-width="0.60"/><ellipse cx="556.19" cy="341.40" rx="12.35" ry="6.00" fill="#30dcfa"/><ellipse cx="556.19" cy="340.30" rx="12.35" ry="6.00" fill="url(#fD)" stroke="#000" stroke-width="0.60"/><ellipse cx="559.67" cy="339.20" rx="11.36" ry="5.51" fill="#38e8f4"/><ellipse cx="559.67" cy="338.10" rx="11.36" ry="5.51" fill="url(#fB)" stroke="#000" stroke-width="0.60"/><ellipse cx="555.01" cy="337.00" rx="12.03" ry="5.83" fill="#e4f040"/><ellipse cx="555.01" cy="335.90" rx="12.03" ry="5.83" fill="url(#fA)" stroke="#000" stroke-width="0.60"/><ellipse cx="564.20" cy="334.80" rx="11.26" ry="5.44" fill="#f0a838"/><ellipse cx="564.20" cy="333.70" rx="11.26" ry="5.44" fill="url(#fA)" stroke="#000" stroke-width="0.60"/><ellipse cx="556.04" cy="332.60" rx="12.35" ry="5.96" fill="#30dcfa"/><ellipse cx="556.04" cy="331.50" rx="12.35" ry="5.96" fill="url(#fD)" stroke="#000" stroke-width="0.60"/><ellipse cx="561.50" cy="330.40" rx="12.52" ry="6.03" fill="#40ece0"/><ellipse cx="561.50" cy="329.30" rx="12.52" ry="6.03" fill="url(#fC)" stroke="#000" stroke-width="0.60"/><ellipse cx="556.40" cy="328.20" rx="11.42" ry="5.49" fill="#40ece0"/><ellipse cx="556.40" cy="327.10" rx="11.42" ry="5.49" fill="url(#fC)" stroke="#000" stroke-width="0.60"/><ellipse cx="565.45" cy="326.00" rx="11.11" ry="5.33" fill="#38e8f4"/><ellipse cx="565.45" cy="324.90" rx="11.11" ry="5.33" fill="url(#fE)" stroke="#000" stroke-width="0.60"/><ellipse cx="563.94" cy="323.80" rx="12.48" ry="5.98" fill="#28a0f4"/><ellipse cx="563.94" cy="322.70" rx="12.48" ry="5.98" fill="url(#fD)" stroke="#000" stroke-width="0.60"/><ellipse cx="568.11" cy="321.60" rx="11.40" ry="5.43" fill="#e4f040"/><ellipse cx="568.11" cy="320.50" rx="11.40" ry="5.43" fill="url(#fA)" stroke="#000" stroke-width="0.60"/><ellipse cx="568.86" cy="319.60" rx="11.40" ry="5.43" fill="#2c60f0"/><ellipse cx="568.86" cy="318.50" rx="11.40" ry="5.43" fill="url(#fD)" stroke="#000" stroke-width="0.60"/><ellipse cx="569.60" cy="317.60" rx="11.63" ry="5.54" fill="#48d0d0"/><ellipse cx="569.60" cy="316.50" rx="11.63" ry="5.54" fill="url(#dO)" stroke="#000" stroke-width="0.65"/><ellipse cx="551.15" cy="323.70" rx="11.43" ry="5.46" fill="#f0a838"/><ellipse cx="551.15" cy="322.60" rx="11.43" ry="5.46" fill="url(#fD)" stroke="#000" stroke-width="0.60"/><ellipse cx="552.35" cy="321.70" rx="11.43" ry="5.46" fill="#2c60f0"/><ellipse cx="552.35" cy="320.60" rx="11.43" ry="5.46" fill="url(#fA)" stroke="#000" stroke-width="0.60"/><ellipse cx="551.60" cy="319.70" rx="11.66" ry="5.57" fill="#48d0d0"/><ellipse cx="551.60" cy="318.60" rx="11.66" ry="5.57" fill="url(#dC)" stroke="#000" stroke-width="0.65"/>
<ellipse cx="484.48" cy="345.10" rx="12.23" ry="5.96" fill="#38e8f4"/><ellipse cx="484.48" cy="344.00" rx="12.23" ry="5.96" fill="url(#fC)" stroke="#000" stroke-width="0.60"/><ellipse cx="473.72" cy="342.90" rx="11.89" ry="5.79" fill="#28a0f4"/><ellipse cx="473.72" cy="341.80" rx="11.89" ry="5.79" fill="url(#fC)" stroke="#000" stroke-width="0.60"/><ellipse cx="475.84" cy="340.70" rx="11.15" ry="5.42" fill="#30dcfa"/><ellipse cx="475.84" cy="339.60" rx="11.15" ry="5.42" fill="url(#fE)" stroke="#000" stroke-width="0.60"/><ellipse cx="471.38" cy="338.50" rx="12.31" ry="5.97" fill="#40ece0"/><ellipse cx="471.38" cy="337.40" rx="12.31" ry="5.97" fill="url(#fC)" stroke="#000" stroke-width="0.60"/><ellipse cx="478.19" cy="336.30" rx="11.47" ry="5.55" fill="#30dcfa"/><ellipse cx="478.19" cy="335.20" rx="11.47" ry="5.55" fill="url(#fE)" stroke="#000" stroke-width="0.60"/><ellipse cx="480.02" cy="334.10" rx="12.11" ry="5.85" fill="#f0a838"/><ellipse cx="480.02" cy="333.00" rx="12.11" ry="5.85" fill="url(#fE)" stroke="#000" stroke-width="0.60"/><ellipse cx="482.12" cy="331.90" rx="11.65" ry="5.62" fill="#28a0f4"/><ellipse cx="482.12" cy="330.80" rx="11.65" ry="5.62" fill="url(#fC)" stroke="#000" stroke-width="0.60"/><ellipse cx="480.22" cy="329.70" rx="12.60" ry="6.06" fill="#40ece0"/><ellipse cx="480.22" cy="328.60" rx="12.60" ry="6.06" fill="url(#fA)" stroke="#000" stroke-width="0.60"/><ellipse cx="481.79" cy="327.50" rx="12.11" ry="5.82" fill="#e4f040"/><ellipse cx="481.79" cy="326.40" rx="12.11" ry="5.82" fill="url(#fC)" stroke="#000" stroke-width="0.60"/><ellipse cx="483.36" cy="325.30" rx="12.53" ry="6.01" fill="#30dcfa"/><ellipse cx="483.36" cy="324.20" rx="12.53" ry="6.01" fill="url(#fC)" stroke="#000" stroke-width="0.60"/><ellipse cx="476.28" cy="323.10" rx="11.42" ry="5.45" fill="#28a0f4"/><ellipse cx="476.28" cy="322.00" rx="11.42" ry="5.45" fill="url(#fD)" stroke="#000" stroke-width="0.60"/><ellipse cx="477.72" cy="321.10" rx="11.42" ry="5.45" fill="#30dcfa"/><ellipse cx="477.72" cy="320.00" rx="11.42" ry="5.45" fill="url(#fA)" stroke="#000" stroke-width="0.60"/><ellipse cx="478.00" cy="319.10" rx="11.65" ry="5.56" fill="#48d0d0"/><ellipse cx="478.00" cy="318.00" rx="11.65" ry="5.56" fill="url(#dY)" stroke="#000" stroke-width="0.65"/>
<ellipse cx="512.47" cy="355.10" rx="12.07" ry="5.93" fill="#40ece0"/><ellipse cx="512.47" cy="354.00" rx="12.07" ry="5.93" fill="url(#fB)" stroke="#000" stroke-width="0.60"/><ellipse cx="507.92" cy="352.90" rx="12.16" ry="5.97" fill="#38e8f4"/><ellipse cx="507.92" cy="351.80" rx="12.16" ry="5.97" fill="url(#fB)" stroke="#000" stroke-width="0.60"/><ellipse cx="516.08" cy="350.70" rx="12.34" ry="6.05" fill="#30dcfa"/><ellipse cx="516.08" cy="349.60" rx="12.34" ry="6.05" fill="url(#fE)" stroke="#000" stroke-width="0.60"/><ellipse cx="513.65" cy="348.50" rx="11.29" ry="5.52" fill="#40ece0"/><ellipse cx="513.65" cy="347.40" rx="11.29" ry="5.52" fill="url(#fC)" stroke="#000" stroke-width="0.60"/><ellipse cx="513.87" cy="346.30" rx="11.25" ry="5.49" fill="#40ece0"/><ellipse cx="513.87" cy="345.20" rx="11.25" ry="5.49" fill="url(#fE)" stroke="#000" stroke-width="0.60"/><ellipse cx="514.56" cy="344.10" rx="12.05" ry="5.87" fill="#2c60f0"/><ellipse cx="514.56" cy="343.00" rx="12.05" ry="5.87" fill="url(#fD)" stroke="#000" stroke-width="0.60"/><ellipse cx="516.20" cy="341.90" rx="11.30" ry="5.50" fill="#f0a838"/><ellipse cx="516.20" cy="340.80" rx="11.30" ry="5.50" fill="url(#fE)" stroke="#000" stroke-width="0.60"/><ellipse cx="518.21" cy="339.70" rx="11.43" ry="5.55" fill="#40ece0"/><ellipse cx="518.21" cy="338.60" rx="11.43" ry="5.55" fill="url(#fE)" stroke="#000" stroke-width="0.60"/><ellipse cx="516.26" cy="337.50" rx="11.08" ry="5.37" fill="#28a0f4"/><ellipse cx="516.26" cy="336.40" rx="11.08" ry="5.37" fill="url(#fC)" stroke="#000" stroke-width="0.60"/><ellipse cx="518.39" cy="335.30" rx="11.51" ry="5.57" fill="#2c60f0"/><ellipse cx="518.39" cy="334.20" rx="11.51" ry="5.57" fill="url(#fA)" stroke="#000" stroke-width="0.60"/><ellipse cx="521.26" cy="333.10" rx="11.56" ry="5.56" fill="#e4f040"/><ellipse cx="521.26" cy="332.00" rx="11.56" ry="5.56" fill="url(#fA)" stroke="#000" stroke-width="0.60"/><ellipse cx="520.01" cy="331.10" rx="11.56" ry="5.56" fill="#40ece0"/><ellipse cx="520.01" cy="330.00" rx="11.56" ry="5.56" fill="url(#fD)" stroke="#000" stroke-width="0.60"/><ellipse cx="519.90" cy="329.10" rx="11.79" ry="5.67" fill="#48d0d0"/><ellipse cx="519.90" cy="328.00" rx="11.79" ry="5.67" fill="url(#dL)" stroke="#000" stroke-width="0.65"/><ellipse cx="504.12" cy="340.10" rx="11.65" ry="5.64" fill="#2c60f0"/><ellipse cx="504.12" cy="339.00" rx="11.65" ry="5.64" fill="url(#fB)" stroke="#000" stroke-width="0.60"/><ellipse cx="506.60" cy="338.10" rx="11.65" ry="5.64" fill="#30dcfa"/><ellipse cx="506.60" cy="337.00" rx="11.65" ry="5.64" fill="url(#fA)" stroke="#000" stroke-width="0.60"/><ellipse cx="506.00" cy="336.10" rx="11.89" ry="5.75" fill="#48d0d0"/><ellipse cx="506.00" cy="335.00" rx="11.89" ry="5.75" fill="url(#dC)" stroke="#000" stroke-width="0.65"/>
<ellipse cx="428.60" cy="355.60" rx="12.24" ry="6.02" fill="#38e8f4"/><ellipse cx="428.60" cy="354.50" rx="12.24" ry="6.02" fill="url(#fA)" stroke="#000" stroke-width="0.60"/><ellipse cx="434.31" cy="353.40" rx="12.94" ry="6.35" fill="#2c60f0"/><ellipse cx="434.31" cy="352.30" rx="12.94" ry="6.35" fill="url(#fB)" stroke="#000" stroke-width="0.60"/><ellipse cx="438.77" cy="351.20" rx="12.13" ry="5.95" fill="#28a0f4"/><ellipse cx="438.77" cy="350.10" rx="12.13" ry="5.95" fill="url(#fC)" stroke="#000" stroke-width="0.60"/><ellipse cx="437.61" cy="349.00" rx="12.13" ry="5.93" fill="#28a0f4"/><ellipse cx="437.61" cy="347.90" rx="12.13" ry="5.93" fill="url(#fC)" stroke="#000" stroke-width="0.60"/><ellipse cx="435.70" cy="346.80" rx="12.23" ry="5.97" fill="#38e8f4"/><ellipse cx="435.70" cy="345.70" rx="12.23" ry="5.97" fill="url(#fD)" stroke="#000" stroke-width="0.60"/><ellipse cx="430.58" cy="344.60" rx="11.84" ry="5.77" fill="#40ece0"/><ellipse cx="430.58" cy="343.50" rx="11.84" ry="5.77" fill="url(#fD)" stroke="#000" stroke-width="0.60"/><ellipse cx="434.12" cy="342.40" rx="11.74" ry="5.71" fill="#30dcfa"/><ellipse cx="434.12" cy="341.30" rx="11.74" ry="5.71" fill="url(#fA)" stroke="#000" stroke-width="0.60"/><ellipse cx="437.34" cy="340.20" rx="11.90" ry="5.78" fill="#2c60f0"/><ellipse cx="437.34" cy="339.10" rx="11.90" ry="5.78" fill="url(#fD)" stroke="#000" stroke-width="0.60"/><ellipse cx="435.10" cy="338.00" rx="11.66" ry="5.65" fill="#28a0f4"/><ellipse cx="435.10" cy="336.90" rx="11.66" ry="5.65" fill="url(#fA)" stroke="#000" stroke-width="0.60"/><ellipse cx="429.31" cy="335.80" rx="11.22" ry="5.43" fill="#40ece0"/><ellipse cx="429.31" cy="334.70" rx="11.22" ry="5.43" fill="url(#fE)" stroke="#000" stroke-width="0.60"/><ellipse cx="425.35" cy="333.60" rx="11.56" ry="5.57" fill="#f0a838"/><ellipse cx="425.35" cy="332.50" rx="11.56" ry="5.57" fill="url(#fB)" stroke="#000" stroke-width="0.60"/><ellipse cx="427.94" cy="331.60" rx="11.56" ry="5.57" fill="#38e8f4"/><ellipse cx="427.94" cy="330.50" rx="11.56" ry="5.57" fill="url(#fD)" stroke="#000" stroke-width="0.60"/><ellipse cx="426.00" cy="329.60" rx="11.80" ry="5.68" fill="#48d0d0"/><ellipse cx="426.00" cy="328.50" rx="11.80" ry="5.68" fill="url(#dO)" stroke="#000" stroke-width="0.65"/><ellipse cx="439.81" cy="334.10" rx="11.57" ry="5.57" fill="#28a0f4"/><ellipse cx="439.81" cy="333.00" rx="11.57" ry="5.57" fill="url(#fD)" stroke="#000" stroke-width="0.60"/><ellipse cx="443.00" cy="332.10" rx="11.57" ry="5.57" fill="#38e8f4"/><ellipse cx="443.00" cy="331.00" rx="11.57" ry="5.57" fill="url(#fA)" stroke="#000" stroke-width="0.60"/><ellipse cx="441.80" cy="330.10" rx="11.81" ry="5.69" fill="#48d0d0"/><ellipse cx="441.80" cy="329.00" rx="11.81" ry="5.69" fill="url(#dY)" stroke="#000" stroke-width="0.65"/>
<ellipse cx="600.41" cy="358.40" rx="11.75" ry="5.79" fill="#40ece0"/><ellipse cx="600.41" cy="357.30" rx="11.75" ry="5.79" fill="url(#fD)" stroke="#000" stroke-width="0.60"/><ellipse cx="607.58" cy="356.20" rx="11.88" ry="5.84" fill="#28a0f4"/><ellipse cx="607.58" cy="355.10" rx="11.88" ry="5.84" fill="url(#fD)" stroke="#000" stroke-width="0.60"/><ellipse cx="605.43" cy="354.00" rx="11.94" ry="5.86" fill="#e4f040"/><ellipse cx="605.43" cy="352.90" rx="11.94" ry="5.86" fill="url(#fC)" stroke="#000" stroke-width="0.60"/><ellipse cx="603.62" cy="351.80" rx="12.16" ry="5.96" fill="#38e8f4"/><ellipse cx="603.62" cy="350.70" rx="12.16" ry="5.96" fill="url(#fA)" stroke="#000" stroke-width="0.60"/><ellipse cx="597.75" cy="349.60" rx="12.85" ry="6.29" fill="#f0a838"/><ellipse cx="597.75" cy="348.50" rx="12.85" ry="6.29" fill="url(#fD)" stroke="#000" stroke-width="0.60"/><ellipse cx="608.91" cy="347.40" rx="12.54" ry="6.12" fill="#f0a838"/><ellipse cx="608.91" cy="346.30" rx="12.54" ry="6.12" fill="url(#fD)" stroke="#000" stroke-width="0.60"/><ellipse cx="605.05" cy="345.20" rx="12.13" ry="5.91" fill="#40ece0"/><ellipse cx="605.05" cy="344.10" rx="12.13" ry="5.91" fill="url(#fC)" stroke="#000" stroke-width="0.60"/><ellipse cx="598.47" cy="343.00" rx="11.34" ry="5.52" fill="#40ece0"/><ellipse cx="598.47" cy="341.90" rx="11.34" ry="5.52" fill="url(#fO)" stroke="#000" stroke-width="0.60"/><ellipse cx="602.23" cy="340.80" rx="11.36" ry="5.52" fill="#30dcfa"/><ellipse cx="602.23" cy="339.70" rx="11.36" ry="5.52" fill="url(#fA)" stroke="#000" stroke-width="0.60"/><ellipse cx="598.98" cy="338.60" rx="12.25" ry="5.94" fill="#2c60f0"/><ellipse cx="598.98" cy="337.50" rx="12.25" ry="5.94" fill="url(#fA)" stroke="#000" stroke-width="0.60"/><ellipse cx="602.27" cy="336.40" rx="11.60" ry="5.60" fill="#30dcfa"/><ellipse cx="602.27" cy="335.30" rx="11.60" ry="5.60" fill="url(#fA)" stroke="#000" stroke-width="0.60"/><ellipse cx="605.43" cy="334.40" rx="11.60" ry="5.60" fill="#40ece0"/><ellipse cx="605.43" cy="333.30" rx="11.60" ry="5.60" fill="url(#fB)" stroke="#000" stroke-width="0.60"/><ellipse cx="604.00" cy="332.40" rx="11.84" ry="5.71" fill="#48d0d0"/><ellipse cx="604.00" cy="331.30" rx="11.84" ry="5.71" fill="url(#dY)" stroke="#000" stroke-width="0.65"/>
<ellipse cx="570.79" cy="367.90" rx="11.86" ry="5.89" fill="#f0a838"/><ellipse cx="570.79" cy="366.80" rx="11.86" ry="5.89" fill="url(#fD)" stroke="#000" stroke-width="0.60"/><ellipse cx="571.54" cy="365.70" rx="12.87" ry="6.38" fill="#f0a838"/><ellipse cx="571.54" cy="364.60" rx="12.87" ry="6.38" fill="url(#fC)" stroke="#000" stroke-width="0.60"/><ellipse cx="562.53" cy="363.50" rx="12.10" ry="5.99" fill="#40ece0"/><ellipse cx="562.53" cy="362.40" rx="12.10" ry="5.99" fill="url(#fC)" stroke="#000" stroke-width="0.60"/><ellipse cx="564.91" cy="361.30" rx="11.60" ry="5.73" fill="#2c60f0"/><ellipse cx="564.91" cy="360.20" rx="11.60" ry="5.73" fill="url(#fD)" stroke="#000" stroke-width="0.60"/><ellipse cx="570.67" cy="359.10" rx="11.69" ry="5.76" fill="#38e8f4"/><ellipse cx="570.67" cy="358.00" rx="11.69" ry="5.76" fill="url(#fC)" stroke="#000" stroke-width="0.60"/><ellipse cx="569.78" cy="356.90" rx="11.39" ry="5.61" fill="#30dcfa"/><ellipse cx="569.78" cy="355.80" rx="11.39" ry="5.61" fill="url(#fA)" stroke="#000" stroke-width="0.60"/><ellipse cx="565.14" cy="354.70" rx="12.08" ry="5.93" fill="#2c60f0"/><ellipse cx="565.14" cy="353.60" rx="12.08" ry="5.93" fill="url(#fE)" stroke="#000" stroke-width="0.60"/><ellipse cx="565.55" cy="352.50" rx="12.26" ry="6.01" fill="#e4f040"/><ellipse cx="565.55" cy="351.40" rx="12.26" ry="6.01" fill="url(#fD)" stroke="#000" stroke-width="0.60"/><ellipse cx="568.31" cy="350.30" rx="12.00" ry="5.88" fill="#40ece0"/><ellipse cx="568.31" cy="349.20" rx="12.00" ry="5.88" fill="url(#fE)" stroke="#000" stroke-width="0.60"/><ellipse cx="561.28" cy="348.10" rx="12.26" ry="5.99" fill="#e4f040"/><ellipse cx="561.28" cy="347.00" rx="12.26" ry="5.99" fill="url(#fE)" stroke="#000" stroke-width="0.60"/><ellipse cx="565.44" cy="345.90" rx="11.73" ry="5.71" fill="#38e8f4"/><ellipse cx="565.44" cy="344.80" rx="11.73" ry="5.71" fill="url(#fD)" stroke="#000" stroke-width="0.60"/><ellipse cx="567.78" cy="343.90" rx="11.73" ry="5.71" fill="#38e8f4"/><ellipse cx="567.78" cy="342.80" rx="11.73" ry="5.71" fill="url(#fA)" stroke="#000" stroke-width="0.60"/><ellipse cx="566.50" cy="341.90" rx="11.97" ry="5.82" fill="#48d0d0"/><ellipse cx="566.50" cy="340.80" rx="11.97" ry="5.82" fill="url(#dL)" stroke="#000" stroke-width="0.65"/>
<ellipse cx="653.47" cy="367.90" rx="12.93" ry="6.42" fill="#f0a838"/><ellipse cx="653.47" cy="366.80" rx="12.93" ry="6.42" fill="url(#fE)" stroke="#000" stroke-width="0.60"/><ellipse cx="651.46" cy="365.70" rx="12.26" ry="6.08" fill="#2c60f0"/><ellipse cx="651.46" cy="364.60" rx="12.26" ry="6.08" fill="url(#fA)" stroke="#000" stroke-width="0.60"/><ellipse cx="659.88" cy="363.50" rx="12.05" ry="5.96" fill="#e4f040"/><ellipse cx="659.88" cy="362.40" rx="12.05" ry="5.96" fill="url(#fA)" stroke="#000" stroke-width="0.60"/><ellipse cx="659.05" cy="361.30" rx="12.17" ry="6.01" fill="#e4f040"/><ellipse cx="659.05" cy="360.20" rx="12.17" ry="6.01" fill="url(#fC)" stroke="#000" stroke-width="0.60"/><ellipse cx="655.93" cy="359.10" rx="12.95" ry="6.39" fill="#28a0f4"/><ellipse cx="655.93" cy="358.00" rx="12.95" ry="6.39" fill="url(#fO)" stroke="#000" stroke-width="0.60"/><ellipse cx="657.50" cy="356.90" rx="11.76" ry="5.79" fill="#e4f040"/><ellipse cx="657.50" cy="355.80" rx="11.76" ry="5.79" fill="url(#fD)" stroke="#000" stroke-width="0.60"/><ellipse cx="650.36" cy="354.70" rx="11.43" ry="5.62" fill="#2c60f0"/><ellipse cx="650.36" cy="353.60" rx="11.43" ry="5.62" fill="url(#fD)" stroke="#000" stroke-width="0.60"/><ellipse cx="658.10" cy="352.50" rx="11.87" ry="5.82" fill="#30dcfa"/><ellipse cx="658.10" cy="351.40" rx="11.87" ry="5.82" fill="url(#fE)" stroke="#000" stroke-width="0.60"/><ellipse cx="652.61" cy="350.30" rx="12.50" ry="6.12" fill="#40ece0"/><ellipse cx="652.61" cy="349.20" rx="12.50" ry="6.12" fill="url(#fC)" stroke="#000" stroke-width="0.60"/><ellipse cx="661.16" cy="348.10" rx="12.84" ry="6.27" fill="#40ece0"/><ellipse cx="661.16" cy="347.00" rx="12.84" ry="6.27" fill="url(#fE)" stroke="#000" stroke-width="0.60"/><ellipse cx="645.16" cy="345.90" rx="11.73" ry="5.71" fill="#38e8f4"/><ellipse cx="645.16" cy="344.80" rx="11.73" ry="5.71" fill="url(#fA)" stroke="#000" stroke-width="0.60"/><ellipse cx="647.69" cy="343.90" rx="11.73" ry="5.71" fill="#e4f040"/><ellipse cx="647.69" cy="342.80" rx="11.73" ry="5.71" fill="url(#fA)" stroke="#000" stroke-width="0.60"/><ellipse cx="646.50" cy="341.90" rx="11.97" ry="5.82" fill="#48d0d0"/><ellipse cx="646.50" cy="340.80" rx="11.97" ry="5.82" fill="url(#dO)" stroke="#000" stroke-width="0.65"/><ellipse cx="665.57" cy="349.10" rx="11.78" ry="5.74" fill="#40ece0"/><ellipse cx="665.57" cy="348.00" rx="11.78" ry="5.74" fill="url(#fD)" stroke="#000" stroke-width="0.60"/><ellipse cx="666.26" cy="347.10" rx="11.78" ry="5.74" fill="#28a0f4"/><ellipse cx="666.26" cy="346.00" rx="11.78" ry="5.74" fill="url(#fA)" stroke="#000" stroke-width="0.60"/><ellipse cx="665.00" cy="345.10" rx="12.02" ry="5.86" fill="#48d0d0"/><ellipse cx="665.00" cy="344.00" rx="12.02" ry="5.86" fill="url(#dC)" stroke="#000" stroke-width="0.65"/>
<ellipse cx="387.26" cy="368.40" rx="11.74" ry="5.83" fill="#30dcfa"/><ellipse cx="387.26" cy="367.30" rx="11.74" ry="5.83" fill="url(#fA)" stroke="#000" stroke-width="0.60"/><ellipse cx="394.57" cy="366.20" rx="11.61" ry="5.76" fill="#30dcfa"/><ellipse cx="394.57" cy="365.10" rx="11.61" ry="5.76" fill="url(#fO)" stroke="#000" stroke-width="0.60"/><ellipse cx="395.68" cy="364.00" rx="11.79" ry="5.84" fill="#e4f040"/><ellipse cx="395.68" cy="362.90" rx="11.79" ry="5.84" fill="url(#fB)" stroke="#000" stroke-width="0.60"/><ellipse cx="388.78" cy="361.80" rx="11.81" ry="5.83" fill="#e4f040"/><ellipse cx="388.78" cy="360.70" rx="11.81" ry="5.83" fill="url(#fC)" stroke="#000" stroke-width="0.60"/><ellipse cx="384.08" cy="359.60" rx="12.33" ry="6.08" fill="#2c60f0"/><ellipse cx="384.08" cy="358.50" rx="12.33" ry="6.08" fill="url(#fD)" stroke="#000" stroke-width="0.60"/><ellipse cx="391.52" cy="357.40" rx="12.95" ry="6.38" fill="#f0a838"/><ellipse cx="391.52" cy="356.30" rx="12.95" ry="6.38" fill="url(#fO)" stroke="#000" stroke-width="0.60"/><ellipse cx="388.63" cy="355.20" rx="12.97" ry="6.38" fill="#f0a838"/><ellipse cx="388.63" cy="354.10" rx="12.97" ry="6.38" fill="url(#fA)" stroke="#000" stroke-width="0.60"/><ellipse cx="394.15" cy="353.00" rx="11.77" ry="5.78" fill="#f0a838"/><ellipse cx="394.15" cy="351.90" rx="11.77" ry="5.78" fill="url(#fC)" stroke="#000" stroke-width="0.60"/><ellipse cx="385.54" cy="350.80" rx="11.77" ry="5.77" fill="#30dcfa"/><ellipse cx="385.54" cy="349.70" rx="11.77" ry="5.77" fill="url(#fC)" stroke="#000" stroke-width="0.60"/><ellipse cx="390.79" cy="348.60" rx="12.30" ry="6.01" fill="#30dcfa"/><ellipse cx="390.79" cy="347.50" rx="12.30" ry="6.01" fill="url(#fA)" stroke="#000" stroke-width="0.60"/><ellipse cx="390.09" cy="346.40" rx="11.74" ry="5.71" fill="#f0a838"/><ellipse cx="390.09" cy="345.30" rx="11.74" ry="5.71" fill="url(#fA)" stroke="#000" stroke-width="0.60"/><ellipse cx="388.14" cy="344.40" rx="11.74" ry="5.71" fill="#e4f040"/><ellipse cx="388.14" cy="343.30" rx="11.74" ry="5.71" fill="url(#fA)" stroke="#000" stroke-width="0.60"/><ellipse cx="389.90" cy="342.40" rx="11.98" ry="5.83" fill="#48d0d0"/><ellipse cx="389.90" cy="341.30" rx="11.98" ry="5.83" fill="url(#dY)" stroke="#000" stroke-width="0.65"/>
<ellipse cx="479.48" cy="372.10" rx="12.19" ry="6.07" fill="#2c60f0"/><ellipse cx="479.48" cy="371.00" rx="12.19" ry="6.07" fill="url(#fC)" stroke="#000" stroke-width="0.60"/><ellipse cx="483.85" cy="369.90" rx="12.53" ry="6.24" fill="#30dcfa"/><ellipse cx="483.85" cy="368.80" rx="12.53" ry="6.24" fill="url(#fE)" stroke="#000" stroke-width="0.60"/><ellipse cx="476.43" cy="367.70" rx="11.74" ry="5.83" fill="#30dcfa"/><ellipse cx="476.43" cy="366.60" rx="11.74" ry="5.83" fill="url(#fE)" stroke="#000" stroke-width="0.60"/><ellipse cx="473.77" cy="365.50" rx="13.10" ry="6.49" fill="#28a0f4"/><ellipse cx="473.77" cy="364.40" rx="13.10" ry="6.49" fill="url(#fC)" stroke="#000" stroke-width="0.60"/><ellipse cx="473.63" cy="363.30" rx="13.07" ry="6.47" fill="#40ece0"/><ellipse cx="473.63" cy="362.20" rx="13.07" ry="6.47" fill="url(#fE)" stroke="#000" stroke-width="0.60"/><ellipse cx="475.17" cy="361.10" rx="11.39" ry="5.62" fill="#30dcfa"/><ellipse cx="475.17" cy="360.00" rx="11.39" ry="5.62" fill="url(#fD)" stroke="#000" stroke-width="0.60"/><ellipse cx="476.69" cy="358.90" rx="12.21" ry="6.02" fill="#40ece0"/><ellipse cx="476.69" cy="357.80" rx="12.21" ry="6.02" fill="url(#fD)" stroke="#000" stroke-width="0.60"/><ellipse cx="477.06" cy="356.70" rx="11.33" ry="5.58" fill="#38e8f4"/><ellipse cx="477.06" cy="355.60" rx="11.33" ry="5.58" fill="url(#fE)" stroke="#000" stroke-width="0.60"/><ellipse cx="472.32" cy="354.50" rx="11.98" ry="5.88" fill="#e4f040"/><ellipse cx="472.32" cy="353.40" rx="11.98" ry="5.88" fill="url(#fA)" stroke="#000" stroke-width="0.60"/><ellipse cx="471.77" cy="352.30" rx="11.78" ry="5.78" fill="#30dcfa"/><ellipse cx="471.77" cy="351.20" rx="11.78" ry="5.78" fill="url(#fD)" stroke="#000" stroke-width="0.60"/><ellipse cx="468.34" cy="350.10" rx="11.79" ry="5.75" fill="#38e8f4"/><ellipse cx="468.34" cy="349.00" rx="11.79" ry="5.75" fill="url(#fD)" stroke="#000" stroke-width="0.60"/><ellipse cx="469.00" cy="348.10" rx="11.79" ry="5.75" fill="#2c60f0"/><ellipse cx="469.00" cy="347.00" rx="11.79" ry="5.75" fill="url(#fD)" stroke="#000" stroke-width="0.60"/><ellipse cx="468.00" cy="346.10" rx="12.03" ry="5.87" fill="#48d0d0"/><ellipse cx="468.00" cy="345.00" rx="12.03" ry="5.87" fill="url(#dC)" stroke="#000" stroke-width="0.65"/><ellipse cx="487.14" cy="351.10" rx="11.80" ry="5.76" fill="#e4f040"/><ellipse cx="487.14" cy="350.00" rx="11.80" ry="5.76" fill="url(#fD)" stroke="#000" stroke-width="0.60"/><ellipse cx="487.06" cy="349.10" rx="11.80" ry="5.76" fill="#e4f040"/><ellipse cx="487.06" cy="348.00" rx="11.80" ry="5.76" fill="url(#fD)" stroke="#000" stroke-width="0.60"/><ellipse cx="486.00" cy="347.10" rx="12.04" ry="5.88" fill="#48d0d0"/><ellipse cx="486.00" cy="346.00" rx="12.04" ry="5.88" fill="url(#dL)" stroke="#000" stroke-width="0.65"/>
<ellipse cx="614.26" cy="381.10" rx="13.08" ry="6.57" fill="#38e8f4"/><ellipse cx="614.26" cy="380.00" rx="13.08" ry="6.57" fill="url(#fB)" stroke="#000" stroke-width="0.60"/><ellipse cx="613.22" cy="378.90" rx="12.86" ry="6.44" fill="#30dcfa"/><ellipse cx="613.22" cy="377.80" rx="12.86" ry="6.44" fill="url(#fD)" stroke="#000" stroke-width="0.60"/><ellipse cx="605.93" cy="376.70" rx="11.94" ry="5.97" fill="#30dcfa"/><ellipse cx="605.93" cy="375.60" rx="11.94" ry="5.97" fill="url(#fA)" stroke="#000" stroke-width="0.60"/><ellipse cx="615.63" cy="374.50" rx="13.14" ry="6.56" fill="#38e8f4"/><ellipse cx="615.63" cy="373.40" rx="13.14" ry="6.56" fill="url(#fB)" stroke="#000" stroke-width="0.60"/><ellipse cx="612.82" cy="372.30" rx="12.63" ry="6.29" fill="#30dcfa"/><ellipse cx="612.82" cy="371.20" rx="12.63" ry="6.29" fill="url(#fE)" stroke="#000" stroke-width="0.60"/><ellipse cx="604.82" cy="370.10" rx="12.87" ry="6.40" fill="#28a0f4"/><ellipse cx="604.82" cy="369.00" rx="12.87" ry="6.40" fill="url(#fD)" stroke="#000" stroke-width="0.60"/><ellipse cx="607.28" cy="367.90" rx="12.20" ry="6.06" fill="#28a0f4"/><ellipse cx="607.28" cy="366.80" rx="12.20" ry="6.06" fill="url(#fA)" stroke="#000" stroke-width="0.60"/><ellipse cx="606.62" cy="365.70" rx="11.93" ry="5.92" fill="#28a0f4"/><ellipse cx="606.62" cy="364.60" rx="11.93" ry="5.92" fill="url(#fA)" stroke="#000" stroke-width="0.60"/><ellipse cx="612.57" cy="363.50" rx="12.45" ry="6.16" fill="#38e8f4"/><ellipse cx="612.57" cy="362.40" rx="12.45" ry="6.16" fill="url(#fE)" stroke="#000" stroke-width="0.60"/><ellipse cx="607.17" cy="361.30" rx="12.66" ry="6.26" fill="#30dcfa"/><ellipse cx="607.17" cy="360.20" rx="12.66" ry="6.26" fill="url(#fD)" stroke="#000" stroke-width="0.60"/><ellipse cx="601.75" cy="359.10" rx="11.91" ry="5.86" fill="#28a0f4"/><ellipse cx="601.75" cy="358.00" rx="11.91" ry="5.86" fill="url(#fA)" stroke="#000" stroke-width="0.60"/><ellipse cx="601.88" cy="357.10" rx="11.91" ry="5.86" fill="#f0a838"/><ellipse cx="601.88" cy="356.00" rx="11.91" ry="5.86" fill="url(#fA)" stroke="#000" stroke-width="0.60"/><ellipse cx="602.00" cy="355.10" rx="12.16" ry="5.98" fill="#48d0d0"/><ellipse cx="602.00" cy="354.00" rx="12.16" ry="5.98" fill="url(#dY)" stroke="#000" stroke-width="0.65"/><ellipse cx="617.26" cy="362.60" rx="11.96" ry="5.90" fill="#38e8f4"/><ellipse cx="617.26" cy="361.50" rx="11.96" ry="5.90" fill="url(#fD)" stroke="#000" stroke-width="0.60"/><ellipse cx="618.31" cy="360.60" rx="11.96" ry="5.90" fill="#38e8f4"/><ellipse cx="618.31" cy="359.50" rx="11.96" ry="5.90" fill="url(#fD)" stroke="#000" stroke-width="0.60"/><ellipse cx="617.00" cy="358.60" rx="12.21" ry="6.02" fill="#48d0d0"/><ellipse cx="617.00" cy="357.50" rx="12.21" ry="6.02" fill="url(#dC)" stroke="#000" stroke-width="0.65"/>
<ellipse cx="440.21" cy="383.00" rx="13.27" ry="6.67" fill="#e4f040"/><ellipse cx="440.21" cy="381.90" rx="13.27" ry="6.67" fill="url(#fD)" stroke="#000" stroke-width="0.60"/><ellipse cx="443.46" cy="380.80" rx="12.40" ry="6.22" fill="#30dcfa"/><ellipse cx="443.46" cy="379.70" rx="12.40" ry="6.22" fill="url(#fA)" stroke="#000" stroke-width="0.60"/><ellipse cx="442.04" cy="378.60" rx="13.31" ry="6.67" fill="#e4f040"/><ellipse cx="442.04" cy="377.50" rx="13.31" ry="6.67" fill="url(#fD)" stroke="#000" stroke-width="0.60"/><ellipse cx="436.45" cy="376.40" rx="13.23" ry="6.62" fill="#40ece0"/><ellipse cx="436.45" cy="375.30" rx="13.23" ry="6.62" fill="url(#fC)" stroke="#000" stroke-width="0.60"/><ellipse cx="444.31" cy="374.20" rx="11.60" ry="5.79" fill="#e4f040"/><ellipse cx="444.31" cy="373.10" rx="11.60" ry="5.79" fill="url(#fO)" stroke="#000" stroke-width="0.60"/><ellipse cx="441.71" cy="372.00" rx="11.78" ry="5.87" fill="#e4f040"/><ellipse cx="441.71" cy="370.90" rx="11.78" ry="5.87" fill="url(#fO)" stroke="#000" stroke-width="0.60"/><ellipse cx="439.73" cy="369.80" rx="12.10" ry="6.02" fill="#f0a838"/><ellipse cx="439.73" cy="368.70" rx="12.10" ry="6.02" fill="url(#fC)" stroke="#000" stroke-width="0.60"/><ellipse cx="433.43" cy="367.60" rx="11.49" ry="5.71" fill="#f0a838"/><ellipse cx="433.43" cy="366.50" rx="11.49" ry="5.71" fill="url(#fB)" stroke="#000" stroke-width="0.60"/><ellipse cx="440.64" cy="365.40" rx="11.68" ry="5.79" fill="#38e8f4"/><ellipse cx="440.64" cy="364.30" rx="11.68" ry="5.79" fill="url(#fD)" stroke="#000" stroke-width="0.60"/><ellipse cx="441.89" cy="363.20" rx="11.46" ry="5.67" fill="#28a0f4"/><ellipse cx="441.89" cy="362.10" rx="11.46" ry="5.67" fill="url(#fD)" stroke="#000" stroke-width="0.60"/><ellipse cx="437.80" cy="361.00" rx="11.94" ry="5.88" fill="#28a0f4"/><ellipse cx="437.80" cy="359.90" rx="11.94" ry="5.88" fill="url(#fD)" stroke="#000" stroke-width="0.60"/><ellipse cx="436.84" cy="359.00" rx="11.94" ry="5.88" fill="#38e8f4"/><ellipse cx="436.84" cy="357.90" rx="11.94" ry="5.88" fill="url(#fB)" stroke="#000" stroke-width="0.60"/><ellipse cx="437.80" cy="357.00" rx="12.18" ry="6.00" fill="#48d0d0"/><ellipse cx="437.80" cy="355.90" rx="12.18" ry="6.00" fill="url(#dL)" stroke="#000" stroke-width="0.65"/>
<ellipse cx="520.31" cy="383.10" rx="13.22" ry="6.65" fill="#30dcfa"/><ellipse cx="520.31" cy="382.00" rx="13.22" ry="6.65" fill="url(#fD)" stroke="#000" stroke-width="0.60"/><ellipse cx="521.37" cy="380.90" rx="12.81" ry="6.43" fill="#40ece0"/><ellipse cx="521.37" cy="379.80" rx="12.81" ry="6.43" fill="url(#fA)" stroke="#000" stroke-width="0.60"/><ellipse cx="524.80" cy="378.70" rx="12.83" ry="6.43" fill="#28a0f4"/><ellipse cx="524.80" cy="377.60" rx="12.83" ry="6.43" fill="url(#fD)" stroke="#000" stroke-width="0.60"/><ellipse cx="527.39" cy="376.50" rx="11.93" ry="5.97" fill="#2c60f0"/><ellipse cx="527.39" cy="375.40" rx="11.93" ry="5.97" fill="url(#fE)" stroke="#000" stroke-width="0.60"/><ellipse cx="529.46" cy="374.30" rx="11.67" ry="5.83" fill="#40ece0"/><ellipse cx="529.46" cy="373.20" rx="11.67" ry="5.83" fill="url(#fE)" stroke="#000" stroke-width="0.60"/><ellipse cx="522.50" cy="372.10" rx="12.95" ry="6.45" fill="#e4f040"/><ellipse cx="522.50" cy="371.00" rx="12.95" ry="6.45" fill="url(#fD)" stroke="#000" stroke-width="0.60"/><ellipse cx="521.47" cy="369.90" rx="12.81" ry="6.38" fill="#30dcfa"/><ellipse cx="521.47" cy="368.80" rx="12.81" ry="6.38" fill="url(#fE)" stroke="#000" stroke-width="0.60"/><ellipse cx="530.26" cy="367.70" rx="12.33" ry="6.12" fill="#40ece0"/><ellipse cx="530.26" cy="366.60" rx="12.33" ry="6.12" fill="url(#fC)" stroke="#000" stroke-width="0.60"/><ellipse cx="524.73" cy="365.50" rx="13.01" ry="6.45" fill="#f0a838"/><ellipse cx="524.73" cy="364.40" rx="13.01" ry="6.45" fill="url(#fA)" stroke="#000" stroke-width="0.60"/><ellipse cx="521.03" cy="363.30" rx="12.09" ry="5.98" fill="#30dcfa"/><ellipse cx="521.03" cy="362.20" rx="12.09" ry="5.98" fill="url(#fD)" stroke="#000" stroke-width="0.60"/><ellipse cx="526.80" cy="361.10" rx="11.94" ry="5.88" fill="#e4f040"/><ellipse cx="526.80" cy="360.00" rx="11.94" ry="5.88" fill="url(#fA)" stroke="#000" stroke-width="0.60"/><ellipse cx="523.11" cy="359.10" rx="11.94" ry="5.88" fill="#40ece0"/><ellipse cx="523.11" cy="358.00" rx="11.94" ry="5.88" fill="url(#fA)" stroke="#000" stroke-width="0.60"/><ellipse cx="524.90" cy="357.10" rx="12.18" ry="6.00" fill="#48d0d0"/><ellipse cx="524.90" cy="356.00" rx="12.18" ry="6.00" fill="url(#dC)" stroke="#000" stroke-width="0.65"/>
<ellipse cx="474.74" cy="395.10" rx="13.12" ry="6.66" fill="#30dcfa"/><ellipse cx="474.74" cy="394.00" rx="13.12" ry="6.66" fill="url(#fC)" stroke="#000" stroke-width="0.60"/><ellipse cx="484.73" cy="392.90" rx="13.07" ry="6.62" fill="#2c60f0"/><ellipse cx="484.73" cy="391.80" rx="13.07" ry="6.62" fill="url(#fC)" stroke="#000" stroke-width="0.60"/><ellipse cx="479.00" cy="390.70" rx="13.01" ry="6.58" fill="#40ece0"/><ellipse cx="479.00" cy="389.60" rx="13.01" ry="6.58" fill="url(#fC)" stroke="#000" stroke-width="0.60"/><ellipse cx="485.59" cy="388.50" rx="13.07" ry="6.60" fill="#38e8f4"/><ellipse cx="485.59" cy="387.40" rx="13.07" ry="6.60" fill="url(#fO)" stroke="#000" stroke-width="0.60"/><ellipse cx="484.13" cy="386.30" rx="11.74" ry="5.92" fill="#38e8f4"/><ellipse cx="484.13" cy="385.20" rx="11.74" ry="5.92" fill="url(#fO)" stroke="#000" stroke-width="0.60"/><ellipse cx="485.01" cy="384.10" rx="12.88" ry="6.48" fill="#30dcfa"/><ellipse cx="485.01" cy="383.00" rx="12.88" ry="6.48" fill="url(#fD)" stroke="#000" stroke-width="0.60"/><ellipse cx="474.23" cy="381.90" rx="11.89" ry="5.97" fill="#30dcfa"/><ellipse cx="474.23" cy="380.80" rx="11.89" ry="5.97" fill="url(#fA)" stroke="#000" stroke-width="0.60"/><ellipse cx="478.54" cy="379.70" rx="12.42" ry="6.23" fill="#2c60f0"/><ellipse cx="478.54" cy="378.60" rx="12.42" ry="6.23" fill="url(#fA)" stroke="#000" stroke-width="0.60"/><ellipse cx="474.51" cy="377.50" rx="12.52" ry="6.27" fill="#e4f040"/><ellipse cx="474.51" cy="376.40" rx="12.52" ry="6.27" fill="url(#fD)" stroke="#000" stroke-width="0.60"/><ellipse cx="477.41" cy="375.30" rx="12.36" ry="6.18" fill="#2c60f0"/><ellipse cx="477.41" cy="374.20" rx="12.36" ry="6.18" fill="url(#fB)" stroke="#000" stroke-width="0.60"/><ellipse cx="481.73" cy="373.10" rx="12.10" ry="6.02" fill="#30dcfa"/><ellipse cx="481.73" cy="372.00" rx="12.10" ry="6.02" fill="url(#fD)" stroke="#000" stroke-width="0.60"/><ellipse cx="480.64" cy="371.10" rx="12.10" ry="6.02" fill="#2c60f0"/><ellipse cx="480.64" cy="370.00" rx="12.10" ry="6.02" fill="url(#fA)" stroke="#000" stroke-width="0.60"/><ellipse cx="480.00" cy="369.10" rx="12.35" ry="6.14" fill="#48d0d0"/><ellipse cx="480.00" cy="368.00" rx="12.35" ry="6.14" fill="url(#dL)" stroke="#000" stroke-width="0.65"/>
<ellipse cx="565.50" cy="395.40" rx="12.02" ry="6.10" fill="#28a0f4"/><ellipse cx="565.50" cy="394.30" rx="12.02" ry="6.10" fill="url(#fC)" stroke="#000" stroke-width="0.60"/><ellipse cx="564.89" cy="393.20" rx="11.96" ry="6.06" fill="#f0a838"/><ellipse cx="564.89" cy="392.10" rx="11.96" ry="6.06" fill="url(#fE)" stroke="#000" stroke-width="0.60"/><ellipse cx="566.04" cy="391.00" rx="11.84" ry="5.99" fill="#30dcfa"/><ellipse cx="566.04" cy="389.90" rx="11.84" ry="5.99" fill="url(#fC)" stroke="#000" stroke-width="0.60"/><ellipse cx="571.66" cy="388.80" rx="12.30" ry="6.21" fill="#30dcfa"/><ellipse cx="571.66" cy="387.70" rx="12.30" ry="6.21" fill="url(#fC)" stroke="#000" stroke-width="0.60"/><ellipse cx="560.02" cy="386.60" rx="12.60" ry="6.35" fill="#2c60f0"/><ellipse cx="560.02" cy="385.50" rx="12.60" ry="6.35" fill="url(#fD)" stroke="#000" stroke-width="0.60"/><ellipse cx="571.65" cy="384.40" rx="11.93" ry="6.00" fill="#f0a838"/><ellipse cx="571.65" cy="383.30" rx="11.93" ry="6.00" fill="url(#fB)" stroke="#000" stroke-width="0.60"/><ellipse cx="568.75" cy="382.20" rx="13.09" ry="6.58" fill="#40ece0"/><ellipse cx="568.75" cy="381.10" rx="13.09" ry="6.58" fill="url(#fD)" stroke="#000" stroke-width="0.60"/><ellipse cx="571.61" cy="380.00" rx="12.49" ry="6.26" fill="#2c60f0"/><ellipse cx="571.61" cy="378.90" rx="12.49" ry="6.26" fill="url(#fC)" stroke="#000" stroke-width="0.60"/><ellipse cx="569.19" cy="377.80" rx="13.23" ry="6.62" fill="#38e8f4"/><ellipse cx="569.19" cy="376.70" rx="13.23" ry="6.62" fill="url(#fB)" stroke="#000" stroke-width="0.60"/><ellipse cx="564.27" cy="375.60" rx="12.89" ry="6.44" fill="#28a0f4"/><ellipse cx="564.27" cy="374.50" rx="12.89" ry="6.44" fill="url(#fC)" stroke="#000" stroke-width="0.60"/><ellipse cx="560.59" cy="373.40" rx="12.11" ry="6.02" fill="#38e8f4"/><ellipse cx="560.59" cy="372.30" rx="12.11" ry="6.02" fill="url(#fB)" stroke="#000" stroke-width="0.60"/><ellipse cx="558.83" cy="371.40" rx="12.11" ry="6.02" fill="#f0a838"/><ellipse cx="558.83" cy="370.30" rx="12.11" ry="6.02" fill="url(#fB)" stroke="#000" stroke-width="0.60"/><ellipse cx="559.00" cy="369.40" rx="12.36" ry="6.14" fill="#48d0d0"/><ellipse cx="559.00" cy="368.30" rx="12.36" ry="6.14" fill="url(#dL)" stroke="#000" stroke-width="0.65"/><ellipse cx="574.66" cy="375.50" rx="12.14" ry="6.05" fill="#40ece0"/><ellipse cx="574.66" cy="374.40" rx="12.14" ry="6.05" fill="url(#fB)" stroke="#000" stroke-width="0.60"/><ellipse cx="573.17" cy="373.50" rx="12.14" ry="6.05" fill="#f0a838"/><ellipse cx="573.17" cy="372.40" rx="12.14" ry="6.05" fill="url(#fD)" stroke="#000" stroke-width="0.60"/><ellipse cx="572.80" cy="371.50" rx="12.39" ry="6.17" fill="#48d0d0"/><ellipse cx="572.80" cy="370.40" rx="12.39" ry="6.17" fill="url(#dC)" stroke="#000" stroke-width="0.65"/>
<ellipse cx="653.49" cy="395.40" rx="13.31" ry="6.76" fill="#e4f040"/><ellipse cx="653.49" cy="394.30" rx="13.31" ry="6.76" fill="url(#fD)" stroke="#000" stroke-width="0.60"/><ellipse cx="658.22" cy="393.20" rx="13.15" ry="6.67" fill="#38e8f4"/><ellipse cx="658.22" cy="392.10" rx="13.15" ry="6.67" fill="url(#fC)" stroke="#000" stroke-width="0.60"/><ellipse cx="655.71" cy="391.00" rx="12.40" ry="6.27" fill="#28a0f4"/><ellipse cx="655.71" cy="389.90" rx="12.40" ry="6.27" fill="url(#fD)" stroke="#000" stroke-width="0.60"/><ellipse cx="653.79" cy="388.80" rx="12.96" ry="6.55" fill="#2c60f0"/><ellipse cx="653.79" cy="387.70" rx="12.96" ry="6.55" fill="url(#fD)" stroke="#000" stroke-width="0.60"/><ellipse cx="646.85" cy="386.60" rx="11.72" ry="5.91" fill="#28a0f4"/><ellipse cx="646.85" cy="385.50" rx="11.72" ry="5.91" fill="url(#fE)" stroke="#000" stroke-width="0.60"/><ellipse cx="647.75" cy="384.40" rx="12.22" ry="6.15" fill="#e4f040"/><ellipse cx="647.75" cy="383.30" rx="12.22" ry="6.15" fill="url(#fE)" stroke="#000" stroke-width="0.60"/><ellipse cx="650.12" cy="382.20" rx="12.78" ry="6.42" fill="#40ece0"/><ellipse cx="650.12" cy="381.10" rx="12.78" ry="6.42" fill="url(#fA)" stroke="#000" stroke-width="0.60"/><ellipse cx="656.08" cy="380.00" rx="13.13" ry="6.58" fill="#30dcfa"/><ellipse cx="656.08" cy="378.90" rx="13.13" ry="6.58" fill="url(#fA)" stroke="#000" stroke-width="0.60"/><ellipse cx="654.74" cy="377.80" rx="13.18" ry="6.60" fill="#f0a838"/><ellipse cx="654.74" cy="376.70" rx="13.18" ry="6.60" fill="url(#fC)" stroke="#000" stroke-width="0.60"/><ellipse cx="654.63" cy="375.60" rx="12.67" ry="6.33" fill="#2c60f0"/><ellipse cx="654.63" cy="374.50" rx="12.67" ry="6.33" fill="url(#fA)" stroke="#000" stroke-width="0.60"/><ellipse cx="649.05" cy="373.40" rx="12.11" ry="6.02" fill="#2c60f0"/><ellipse cx="649.05" cy="372.30" rx="12.11" ry="6.02" fill="url(#fA)" stroke="#000" stroke-width="0.60"/><ellipse cx="650.17" cy="371.40" rx="12.11" ry="6.02" fill="#30dcfa"/><ellipse cx="650.17" cy="370.30" rx="12.11" ry="6.02" fill="url(#fD)" stroke="#000" stroke-width="0.60"/><ellipse cx="651.00" cy="369.40" rx="12.36" ry="6.14" fill="#48d0d0"/><ellipse cx="651.00" cy="368.30" rx="12.36" ry="6.14" fill="url(#dY)" stroke="#000" stroke-width="0.65"/>
<ellipse cx="397.71" cy="396.90" rx="12.61" ry="6.41" fill="#e4f040"/><ellipse cx="397.71" cy="395.80" rx="12.61" ry="6.41" fill="url(#fA)" stroke="#000" stroke-width="0.60"/><ellipse cx="396.24" cy="394.70" rx="12.63" ry="6.41" fill="#40ece0"/><ellipse cx="396.24" cy="393.60" rx="12.63" ry="6.41" fill="url(#fE)" stroke="#000" stroke-width="0.60"/><ellipse cx="399.15" cy="392.50" rx="13.03" ry="6.60" fill="#30dcfa"/><ellipse cx="399.15" cy="391.40" rx="13.03" ry="6.60" fill="url(#fD)" stroke="#000" stroke-width="0.60"/><ellipse cx="396.02" cy="390.30" rx="12.69" ry="6.42" fill="#2c60f0"/><ellipse cx="396.02" cy="389.20" rx="12.69" ry="6.42" fill="url(#fA)" stroke="#000" stroke-width="0.60"/><ellipse cx="394.32" cy="388.10" rx="12.81" ry="6.47" fill="#30dcfa"/><ellipse cx="394.32" cy="387.00" rx="12.81" ry="6.47" fill="url(#fB)" stroke="#000" stroke-width="0.60"/><ellipse cx="395.15" cy="385.90" rx="12.00" ry="6.05" fill="#40ece0"/><ellipse cx="395.15" cy="384.80" rx="12.00" ry="6.05" fill="url(#fA)" stroke="#000" stroke-width="0.60"/><ellipse cx="400.33" cy="383.70" rx="12.42" ry="6.25" fill="#38e8f4"/><ellipse cx="400.33" cy="382.60" rx="12.42" ry="6.25" fill="url(#fB)" stroke="#000" stroke-width="0.60"/><ellipse cx="395.69" cy="381.50" rx="13.03" ry="6.54" fill="#28a0f4"/><ellipse cx="395.69" cy="380.40" rx="13.03" ry="6.54" fill="url(#fA)" stroke="#000" stroke-width="0.60"/><ellipse cx="397.23" cy="379.30" rx="12.66" ry="6.35" fill="#38e8f4"/><ellipse cx="397.23" cy="378.20" rx="12.66" ry="6.35" fill="url(#fO)" stroke="#000" stroke-width="0.60"/><ellipse cx="394.52" cy="377.10" rx="13.06" ry="6.53" fill="#e4f040"/><ellipse cx="394.52" cy="376.00" rx="13.06" ry="6.53" fill="url(#fE)" stroke="#000" stroke-width="0.60"/><ellipse cx="395.79" cy="374.90" rx="12.13" ry="6.04" fill="#30dcfa"/><ellipse cx="395.79" cy="373.80" rx="12.13" ry="6.04" fill="url(#fA)" stroke="#000" stroke-width="0.60"/><ellipse cx="395.92" cy="372.90" rx="12.13" ry="6.04" fill="#2c60f0"/><ellipse cx="395.92" cy="371.80" rx="12.13" ry="6.04" fill="url(#fB)" stroke="#000" stroke-width="0.60"/><ellipse cx="395.00" cy="370.90" rx="12.38" ry="6.16" fill="#48d0d0"/><ellipse cx="395.00" cy="369.80" rx="12.38" ry="6.16" fill="url(#dY)" stroke="#000" stroke-width="0.65"/>
<ellipse cx="431.27" cy="406.90" rx="13.62" ry="6.98" fill="#e4f040"/><ellipse cx="431.27" cy="405.80" rx="13.62" ry="6.98" fill="url(#fA)" stroke="#000" stroke-width="0.60"/><ellipse cx="439.16" cy="404.70" rx="13.42" ry="6.86" fill="#e4f040"/><ellipse cx="439.16" cy="403.60" rx="13.42" ry="6.86" fill="url(#fC)" stroke="#000" stroke-width="0.60"/><ellipse cx="441.41" cy="402.50" rx="13.50" ry="6.89" fill="#f0a838"/><ellipse cx="441.41" cy="401.40" rx="13.50" ry="6.89" fill="url(#fC)" stroke="#000" stroke-width="0.60"/><ellipse cx="432.05" cy="400.30" rx="12.81" ry="6.53" fill="#38e8f4"/><ellipse cx="432.05" cy="399.20" rx="12.81" ry="6.53" fill="url(#fE)" stroke="#000" stroke-width="0.60"/><ellipse cx="432.62" cy="398.10" rx="11.87" ry="6.04" fill="#40ece0"/><ellipse cx="432.62" cy="397.00" rx="11.87" ry="6.04" fill="url(#fC)" stroke="#000" stroke-width="0.60"/><ellipse cx="432.23" cy="395.90" rx="12.94" ry="6.57" fill="#f0a838"/><ellipse cx="432.23" cy="394.80" rx="12.94" ry="6.57" fill="url(#fB)" stroke="#000" stroke-width="0.60"/><ellipse cx="431.41" cy="393.70" rx="13.02" ry="6.60" fill="#f0a838"/><ellipse cx="431.41" cy="392.60" rx="13.02" ry="6.60" fill="url(#fC)" stroke="#000" stroke-width="0.60"/><ellipse cx="436.59" cy="391.50" rx="13.16" ry="6.66" fill="#30dcfa"/><ellipse cx="436.59" cy="390.40" rx="13.16" ry="6.66" fill="url(#fC)" stroke="#000" stroke-width="0.60"/><ellipse cx="433.93" cy="389.30" rx="12.24" ry="6.18" fill="#f0a838"/><ellipse cx="433.93" cy="388.20" rx="12.24" ry="6.18" fill="url(#fB)" stroke="#000" stroke-width="0.60"/><ellipse cx="436.28" cy="387.10" rx="11.77" ry="5.94" fill="#e4f040"/><ellipse cx="436.28" cy="386.00" rx="11.77" ry="5.94" fill="url(#fB)" stroke="#000" stroke-width="0.60"/><ellipse cx="436.10" cy="384.90" rx="12.27" ry="6.16" fill="#f0a838"/><ellipse cx="436.10" cy="383.80" rx="12.27" ry="6.16" fill="url(#fD)" stroke="#000" stroke-width="0.60"/><ellipse cx="436.85" cy="382.90" rx="12.27" ry="6.16" fill="#28a0f4"/><ellipse cx="436.85" cy="381.80" rx="12.27" ry="6.16" fill="url(#fD)" stroke="#000" stroke-width="0.60"/><ellipse cx="436.80" cy="380.90" rx="12.52" ry="6.28" fill="#48d0d0"/><ellipse cx="436.80" cy="379.80" rx="12.52" ry="6.28" fill="url(#dY)" stroke="#000" stroke-width="0.65"/>
<ellipse cx="523.30" cy="407.10" rx="13.60" ry="6.97" fill="#2c60f0"/><ellipse cx="523.30" cy="406.00" rx="13.60" ry="6.97" fill="url(#fA)" stroke="#000" stroke-width="0.60"/><ellipse cx="519.27" cy="404.90" rx="12.10" ry="6.19" fill="#28a0f4"/><ellipse cx="519.27" cy="403.80" rx="12.10" ry="6.19" fill="url(#fC)" stroke="#000" stroke-width="0.60"/><ellipse cx="520.54" cy="402.70" rx="13.10" ry="6.69" fill="#2c60f0"/><ellipse cx="520.54" cy="401.60" rx="13.10" ry="6.69" fill="url(#fC)" stroke="#000" stroke-width="0.60"/><ellipse cx="524.46" cy="400.50" rx="12.45" ry="6.35" fill="#38e8f4"/><ellipse cx="524.46" cy="399.40" rx="12.45" ry="6.35" fill="url(#fD)" stroke="#000" stroke-width="0.60"/><ellipse cx="523.24" cy="398.30" rx="12.46" ry="6.34" fill="#30dcfa"/><ellipse cx="523.24" cy="397.20" rx="12.46" ry="6.34" fill="url(#fC)" stroke="#000" stroke-width="0.60"/><ellipse cx="518.56" cy="396.10" rx="12.34" ry="6.27" fill="#e4f040"/><ellipse cx="518.56" cy="395.00" rx="12.34" ry="6.27" fill="url(#fA)" stroke="#000" stroke-width="0.60"/><ellipse cx="530.50" cy="393.90" rx="12.03" ry="6.10" fill="#e4f040"/><ellipse cx="530.50" cy="392.80" rx="12.03" ry="6.10" fill="url(#fD)" stroke="#000" stroke-width="0.60"/><ellipse cx="523.20" cy="391.70" rx="13.24" ry="6.70" fill="#30dcfa"/><ellipse cx="523.20" cy="390.60" rx="13.24" ry="6.70" fill="url(#fD)" stroke="#000" stroke-width="0.60"/><ellipse cx="519.76" cy="389.50" rx="12.59" ry="6.36" fill="#f0a838"/><ellipse cx="519.76" cy="388.40" rx="12.59" ry="6.36" fill="url(#fA)" stroke="#000" stroke-width="0.60"/><ellipse cx="529.49" cy="387.30" rx="12.07" ry="6.09" fill="#2c60f0"/><ellipse cx="529.49" cy="386.20" rx="12.07" ry="6.09" fill="url(#fA)" stroke="#000" stroke-width="0.60"/><ellipse cx="526.49" cy="385.10" rx="12.27" ry="6.16" fill="#2c60f0"/><ellipse cx="526.49" cy="384.00" rx="12.27" ry="6.16" fill="url(#fA)" stroke="#000" stroke-width="0.60"/><ellipse cx="524.54" cy="383.10" rx="12.27" ry="6.16" fill="#38e8f4"/><ellipse cx="524.54" cy="382.00" rx="12.27" ry="6.16" fill="url(#fD)" stroke="#000" stroke-width="0.60"/><ellipse cx="524.90" cy="381.10" rx="12.52" ry="6.29" fill="#48d0d0"/><ellipse cx="524.90" cy="380.00" rx="12.52" ry="6.29" fill="url(#dC)" stroke="#000" stroke-width="0.65"/>
<ellipse cx="603.81" cy="407.60" rx="12.78" ry="6.55" fill="#40ece0"/><ellipse cx="603.81" cy="406.50" rx="12.78" ry="6.55" fill="url(#fC)" stroke="#000" stroke-width="0.60"/><ellipse cx="603.92" cy="405.40" rx="13.31" ry="6.81" fill="#30dcfa"/><ellipse cx="603.92" cy="404.30" rx="13.31" ry="6.81" fill="url(#fA)" stroke="#000" stroke-width="0.60"/><ellipse cx="604.85" cy="403.20" rx="12.10" ry="6.18" fill="#e4f040"/><ellipse cx="604.85" cy="402.10" rx="12.10" ry="6.18" fill="url(#fC)" stroke="#000" stroke-width="0.60"/><ellipse cx="608.26" cy="401.00" rx="13.62" ry="6.94" fill="#28a0f4"/><ellipse cx="608.26" cy="399.90" rx="13.62" ry="6.94" fill="url(#fC)" stroke="#000" stroke-width="0.60"/><ellipse cx="608.03" cy="398.80" rx="12.16" ry="6.19" fill="#2c60f0"/><ellipse cx="608.03" cy="397.70" rx="12.16" ry="6.19" fill="url(#fD)" stroke="#000" stroke-width="0.60"/><ellipse cx="603.58" cy="396.60" rx="12.14" ry="6.17" fill="#e4f040"/><ellipse cx="603.58" cy="395.50" rx="12.14" ry="6.17" fill="url(#fB)" stroke="#000" stroke-width="0.60"/><ellipse cx="610.54" cy="394.40" rx="13.06" ry="6.62" fill="#2c60f0"/><ellipse cx="610.54" cy="393.30" rx="13.06" ry="6.62" fill="url(#fB)" stroke="#000" stroke-width="0.60"/><ellipse cx="604.95" cy="392.20" rx="11.96" ry="6.06" fill="#2c60f0"/><ellipse cx="604.95" cy="391.10" rx="11.96" ry="6.06" fill="url(#fD)" stroke="#000" stroke-width="0.60"/><ellipse cx="602.28" cy="390.00" rx="13.33" ry="6.74" fill="#28a0f4"/><ellipse cx="602.28" cy="388.90" rx="13.33" ry="6.74" fill="url(#fA)" stroke="#000" stroke-width="0.60"/><ellipse cx="603.78" cy="387.80" rx="12.20" ry="6.15" fill="#f0a838"/><ellipse cx="603.78" cy="386.70" rx="12.20" ry="6.15" fill="url(#fC)" stroke="#000" stroke-width="0.60"/><ellipse cx="605.68" cy="385.60" rx="12.28" ry="6.17" fill="#40ece0"/><ellipse cx="605.68" cy="384.50" rx="12.28" ry="6.17" fill="url(#fD)" stroke="#000" stroke-width="0.60"/><ellipse cx="608.78" cy="383.60" rx="12.28" ry="6.17" fill="#f0a838"/><ellipse cx="608.78" cy="382.50" rx="12.28" ry="6.17" fill="url(#fA)" stroke="#000" stroke-width="0.60"/><ellipse cx="607.00" cy="381.60" rx="12.53" ry="6.29" fill="#48d0d0"/><ellipse cx="607.00" cy="380.50" rx="12.53" ry="6.29" fill="url(#dY)" stroke="#000" stroke-width="0.65"/>
<ellipse cx="388.77" cy="418.00" rx="13.37" ry="6.91" fill="#28a0f4"/><ellipse cx="388.77" cy="416.90" rx="13.37" ry="6.91" fill="url(#fE)" stroke="#000" stroke-width="0.60"/><ellipse cx="390.75" cy="415.80" rx="13.71" ry="7.07" fill="#30dcfa"/><ellipse cx="390.75" cy="414.70" rx="13.71" ry="7.07" fill="url(#fA)" stroke="#000" stroke-width="0.60"/><ellipse cx="393.81" cy="413.60" rx="12.71" ry="6.55" fill="#30dcfa"/><ellipse cx="393.81" cy="412.50" rx="12.71" ry="6.55" fill="url(#fO)" stroke="#000" stroke-width="0.60"/><ellipse cx="387.51" cy="411.40" rx="12.43" ry="6.39" fill="#40ece0"/><ellipse cx="387.51" cy="410.30" rx="12.43" ry="6.39" fill="url(#fE)" stroke="#000" stroke-width="0.60"/><ellipse cx="390.75" cy="409.20" rx="12.73" ry="6.53" fill="#30dcfa"/><ellipse cx="390.75" cy="408.10" rx="12.73" ry="6.53" fill="url(#fE)" stroke="#000" stroke-width="0.60"/><ellipse cx="383.35" cy="407.00" rx="12.71" ry="6.51" fill="#40ece0"/><ellipse cx="383.35" cy="405.90" rx="12.71" ry="6.51" fill="url(#fE)" stroke="#000" stroke-width="0.60"/><ellipse cx="391.53" cy="404.80" rx="13.51" ry="6.91" fill="#2c60f0"/><ellipse cx="391.53" cy="403.70" rx="13.51" ry="6.91" fill="url(#fE)" stroke="#000" stroke-width="0.60"/><ellipse cx="386.60" cy="402.60" rx="12.57" ry="6.42" fill="#40ece0"/><ellipse cx="386.60" cy="401.50" rx="12.57" ry="6.42" fill="url(#fD)" stroke="#000" stroke-width="0.60"/><ellipse cx="383.62" cy="400.40" rx="12.21" ry="6.22" fill="#2c60f0"/><ellipse cx="383.62" cy="399.30" rx="12.21" ry="6.22" fill="url(#fD)" stroke="#000" stroke-width="0.60"/><ellipse cx="384.68" cy="398.20" rx="12.73" ry="6.48" fill="#40ece0"/><ellipse cx="384.68" cy="397.10" rx="12.73" ry="6.48" fill="url(#fO)" stroke="#000" stroke-width="0.60"/><ellipse cx="386.65" cy="396.00" rx="12.42" ry="6.29" fill="#40ece0"/><ellipse cx="386.65" cy="394.90" rx="12.42" ry="6.29" fill="url(#fA)" stroke="#000" stroke-width="0.60"/><ellipse cx="387.28" cy="394.00" rx="12.42" ry="6.29" fill="#f0a838"/><ellipse cx="387.28" cy="392.90" rx="12.42" ry="6.29" fill="url(#fB)" stroke="#000" stroke-width="0.60"/><ellipse cx="387.60" cy="392.00" rx="12.67" ry="6.42" fill="#48d0d0"/><ellipse cx="387.60" cy="390.90" rx="12.67" ry="6.42" fill="url(#dO)" stroke="#000" stroke-width="0.65"/>
<ellipse cx="657.18" cy="421.60" rx="13.74" ry="7.12" fill="#38e8f4"/><ellipse cx="657.18" cy="420.50" rx="13.74" ry="7.12" fill="url(#fC)" stroke="#000" stroke-width="0.60"/><ellipse cx="655.30" cy="419.40" rx="13.58" ry="7.02" fill="#e4f040"/><ellipse cx="655.30" cy="418.30" rx="13.58" ry="7.02" fill="url(#fD)" stroke="#000" stroke-width="0.60"/><ellipse cx="660.11" cy="417.20" rx="12.42" ry="6.41" fill="#38e8f4"/><ellipse cx="660.11" cy="416.10" rx="12.42" ry="6.41" fill="url(#fO)" stroke="#000" stroke-width="0.60"/><ellipse cx="650.41" cy="415.00" rx="13.73" ry="7.08" fill="#38e8f4"/><ellipse cx="650.41" cy="413.90" rx="13.73" ry="7.08" fill="url(#fC)" stroke="#000" stroke-width="0.60"/><ellipse cx="657.80" cy="412.80" rx="12.60" ry="6.48" fill="#2c60f0"/><ellipse cx="657.80" cy="411.70" rx="12.60" ry="6.48" fill="url(#fE)" stroke="#000" stroke-width="0.60"/><ellipse cx="652.34" cy="410.60" rx="12.17" ry="6.25" fill="#2c60f0"/><ellipse cx="652.34" cy="409.50" rx="12.17" ry="6.25" fill="url(#fE)" stroke="#000" stroke-width="0.60"/><ellipse cx="660.71" cy="408.40" rx="13.00" ry="6.67" fill="#e4f040"/><ellipse cx="660.71" cy="407.30" rx="13.00" ry="6.67" fill="url(#fE)" stroke="#000" stroke-width="0.60"/><ellipse cx="652.85" cy="406.20" rx="12.22" ry="6.26" fill="#f0a838"/><ellipse cx="652.85" cy="405.10" rx="12.22" ry="6.26" fill="url(#fE)" stroke="#000" stroke-width="0.60"/><ellipse cx="650.97" cy="404.00" rx="12.78" ry="6.53" fill="#2c60f0"/><ellipse cx="650.97" cy="402.90" rx="12.78" ry="6.53" fill="url(#fC)" stroke="#000" stroke-width="0.60"/><ellipse cx="655.91" cy="401.80" rx="12.81" ry="6.53" fill="#f0a838"/><ellipse cx="655.91" cy="400.70" rx="12.81" ry="6.53" fill="url(#fC)" stroke="#000" stroke-width="0.60"/><ellipse cx="657.45" cy="399.60" rx="12.47" ry="6.33" fill="#40ece0"/><ellipse cx="657.45" cy="398.50" rx="12.47" ry="6.33" fill="url(#fA)" stroke="#000" stroke-width="0.60"/><ellipse cx="657.36" cy="397.60" rx="12.47" ry="6.33" fill="#2c60f0"/><ellipse cx="657.36" cy="396.50" rx="12.47" ry="6.33" fill="url(#fB)" stroke="#000" stroke-width="0.60"/><ellipse cx="656.00" cy="395.60" rx="12.72" ry="6.46" fill="#48d0d0"/><ellipse cx="656.00" cy="394.50" rx="12.72" ry="6.46" fill="url(#dY)" stroke="#000" stroke-width="0.65"/>
<ellipse cx="478.05" cy="424.00" rx="12.67" ry="6.58" fill="#38e8f4"/><ellipse cx="478.05" cy="422.90" rx="12.67" ry="6.58" fill="url(#fB)" stroke="#000" stroke-width="0.60"/><ellipse cx="471.09" cy="421.80" rx="13.51" ry="7.00" fill="#40ece0"/><ellipse cx="471.09" cy="420.70" rx="13.51" ry="7.00" fill="url(#fD)" stroke="#000" stroke-width="0.60"/><ellipse cx="477.88" cy="419.60" rx="13.93" ry="7.21" fill="#38e8f4"/><ellipse cx="477.88" cy="418.50" rx="13.93" ry="7.21" fill="url(#fE)" stroke="#000" stroke-width="0.60"/><ellipse cx="472.90" cy="417.40" rx="12.99" ry="6.71" fill="#38e8f4"/><ellipse cx="472.90" cy="416.30" rx="12.99" ry="6.71" fill="url(#fE)" stroke="#000" stroke-width="0.60"/><ellipse cx="468.52" cy="415.20" rx="13.24" ry="6.83" fill="#30dcfa"/><ellipse cx="468.52" cy="414.10" rx="13.24" ry="6.83" fill="url(#fD)" stroke="#000" stroke-width="0.60"/><ellipse cx="475.77" cy="413.00" rx="12.66" ry="6.52" fill="#f0a838"/><ellipse cx="475.77" cy="411.90" rx="12.66" ry="6.52" fill="url(#fE)" stroke="#000" stroke-width="0.60"/><ellipse cx="475.33" cy="410.80" rx="12.05" ry="6.19" fill="#e4f040"/><ellipse cx="475.33" cy="409.70" rx="12.05" ry="6.19" fill="url(#fA)" stroke="#000" stroke-width="0.60"/><ellipse cx="471.76" cy="408.60" rx="13.22" ry="6.78" fill="#2c60f0"/><ellipse cx="471.76" cy="407.50" rx="13.22" ry="6.78" fill="url(#fD)" stroke="#000" stroke-width="0.60"/><ellipse cx="474.38" cy="406.40" rx="13.25" ry="6.79" fill="#e4f040"/><ellipse cx="474.38" cy="405.30" rx="13.25" ry="6.79" fill="url(#fE)" stroke="#000" stroke-width="0.60"/><ellipse cx="474.13" cy="404.20" rx="13.32" ry="6.81" fill="#40ece0"/><ellipse cx="474.13" cy="403.10" rx="13.32" ry="6.81" fill="url(#fC)" stroke="#000" stroke-width="0.60"/><ellipse cx="473.75" cy="402.00" rx="12.50" ry="6.36" fill="#e4f040"/><ellipse cx="473.75" cy="400.90" rx="12.50" ry="6.36" fill="url(#fA)" stroke="#000" stroke-width="0.60"/><ellipse cx="472.57" cy="400.00" rx="12.50" ry="6.36" fill="#30dcfa"/><ellipse cx="472.57" cy="398.90" rx="12.50" ry="6.36" fill="url(#fB)" stroke="#000" stroke-width="0.60"/><ellipse cx="474.50" cy="398.00" rx="12.76" ry="6.49" fill="#48d0d0"/><ellipse cx="474.50" cy="396.90" rx="12.76" ry="6.49" fill="url(#dC)" stroke="#000" stroke-width="0.65"/>
<ellipse cx="563.46" cy="424.00" rx="12.89" ry="6.69" fill="#40ece0"/><ellipse cx="563.46" cy="422.90" rx="12.89" ry="6.69" fill="url(#fD)" stroke="#000" stroke-width="0.60"/><ellipse cx="566.00" cy="421.80" rx="13.34" ry="6.91" fill="#2c60f0"/><ellipse cx="566.00" cy="420.70" rx="13.34" ry="6.91" fill="url(#fE)" stroke="#000" stroke-width="0.60"/><ellipse cx="564.97" cy="419.60" rx="12.83" ry="6.64" fill="#30dcfa"/><ellipse cx="564.97" cy="418.50" rx="12.83" ry="6.64" fill="url(#fE)" stroke="#000" stroke-width="0.60"/><ellipse cx="571.06" cy="417.40" rx="12.20" ry="6.30" fill="#38e8f4"/><ellipse cx="571.06" cy="416.30" rx="12.20" ry="6.30" fill="url(#fA)" stroke="#000" stroke-width="0.60"/><ellipse cx="566.78" cy="415.20" rx="13.04" ry="6.72" fill="#28a0f4"/><ellipse cx="566.78" cy="414.10" rx="13.04" ry="6.72" fill="url(#fB)" stroke="#000" stroke-width="0.60"/><ellipse cx="573.69" cy="413.00" rx="13.20" ry="6.80" fill="#2c60f0"/><ellipse cx="573.69" cy="411.90" rx="13.20" ry="6.80" fill="url(#fD)" stroke="#000" stroke-width="0.60"/><ellipse cx="571.06" cy="410.80" rx="12.51" ry="6.43" fill="#f0a838"/><ellipse cx="571.06" cy="409.70" rx="12.51" ry="6.43" fill="url(#fA)" stroke="#000" stroke-width="0.60"/><ellipse cx="563.21" cy="408.60" rx="12.60" ry="6.46" fill="#e4f040"/><ellipse cx="563.21" cy="407.50" rx="12.60" ry="6.46" fill="url(#fB)" stroke="#000" stroke-width="0.60"/><ellipse cx="564.32" cy="406.40" rx="13.08" ry="6.70" fill="#28a0f4"/><ellipse cx="564.32" cy="405.30" rx="13.08" ry="6.70" fill="url(#fA)" stroke="#000" stroke-width="0.60"/><ellipse cx="570.90" cy="404.20" rx="12.40" ry="6.34" fill="#2c60f0"/><ellipse cx="570.90" cy="403.10" rx="12.40" ry="6.34" fill="url(#fO)" stroke="#000" stroke-width="0.60"/><ellipse cx="568.98" cy="402.00" rx="12.50" ry="6.36" fill="#30dcfa"/><ellipse cx="568.98" cy="400.90" rx="12.50" ry="6.36" fill="url(#fD)" stroke="#000" stroke-width="0.60"/><ellipse cx="568.39" cy="400.00" rx="12.50" ry="6.36" fill="#40ece0"/><ellipse cx="568.39" cy="398.90" rx="12.50" ry="6.36" fill="url(#fA)" stroke="#000" stroke-width="0.60"/><ellipse cx="567.40" cy="398.00" rx="12.76" ry="6.49" fill="#48d0d0"/><ellipse cx="567.40" cy="396.90" rx="12.76" ry="6.49" fill="url(#dC)" stroke="#000" stroke-width="0.65"/>
<ellipse cx="431.59" cy="434.90" rx="13.34" ry="6.98" fill="#f0a838"/><ellipse cx="431.59" cy="433.80" rx="13.34" ry="6.98" fill="url(#fE)" stroke="#000" stroke-width="0.60"/><ellipse cx="438.72" cy="432.70" rx="13.61" ry="7.11" fill="#f0a838"/><ellipse cx="438.72" cy="431.60" rx="13.61" ry="7.11" fill="url(#fE)" stroke="#000" stroke-width="0.60"/><ellipse cx="437.84" cy="430.50" rx="12.66" ry="6.61" fill="#40ece0"/><ellipse cx="437.84" cy="429.40" rx="12.66" ry="6.61" fill="url(#fE)" stroke="#000" stroke-width="0.60"/><ellipse cx="431.16" cy="428.30" rx="12.98" ry="6.76" fill="#30dcfa"/><ellipse cx="431.16" cy="427.20" rx="12.98" ry="6.76" fill="url(#fA)" stroke="#000" stroke-width="0.60"/><ellipse cx="434.56" cy="426.10" rx="13.02" ry="6.77" fill="#2c60f0"/><ellipse cx="434.56" cy="425.00" rx="13.02" ry="6.77" fill="url(#fD)" stroke="#000" stroke-width="0.60"/><ellipse cx="429.79" cy="423.90" rx="12.43" ry="6.45" fill="#2c60f0"/><ellipse cx="429.79" cy="422.80" rx="12.43" ry="6.45" fill="url(#fC)" stroke="#000" stroke-width="0.60"/><ellipse cx="434.06" cy="421.70" rx="12.84" ry="6.66" fill="#40ece0"/><ellipse cx="434.06" cy="420.60" rx="12.84" ry="6.66" fill="url(#fE)" stroke="#000" stroke-width="0.60"/><ellipse cx="437.84" cy="419.50" rx="12.54" ry="6.49" fill="#e4f040"/><ellipse cx="437.84" cy="418.40" rx="12.54" ry="6.49" fill="url(#fB)" stroke="#000" stroke-width="0.60"/><ellipse cx="436.69" cy="417.30" rx="12.41" ry="6.41" fill="#40ece0"/><ellipse cx="436.69" cy="416.20" rx="12.41" ry="6.41" fill="url(#fD)" stroke="#000" stroke-width="0.60"/><ellipse cx="434.56" cy="415.10" rx="13.89" ry="7.16" fill="#28a0f4"/><ellipse cx="434.56" cy="414.00" rx="13.89" ry="7.16" fill="url(#fD)" stroke="#000" stroke-width="0.60"/><ellipse cx="431.99" cy="412.90" rx="12.65" ry="6.49" fill="#28a0f4"/><ellipse cx="431.99" cy="411.80" rx="12.65" ry="6.49" fill="url(#fB)" stroke="#000" stroke-width="0.60"/><ellipse cx="430.67" cy="410.90" rx="12.65" ry="6.49" fill="#30dcfa"/><ellipse cx="430.67" cy="409.80" rx="12.65" ry="6.49" fill="url(#fB)" stroke="#000" stroke-width="0.60"/><ellipse cx="432.30" cy="408.90" rx="12.91" ry="6.62" fill="#48d0d0"/><ellipse cx="432.30" cy="407.80" rx="12.91" ry="6.62" fill="url(#dL)" stroke="#000" stroke-width="0.65"/>
<ellipse cx="523.77" cy="434.90" rx="13.04" ry="6.83" fill="#30dcfa"/><ellipse cx="523.77" cy="433.80" rx="13.04" ry="6.83" fill="url(#fE)" stroke="#000" stroke-width="0.60"/><ellipse cx="529.61" cy="432.70" rx="12.43" ry="6.50" fill="#2c60f0"/><ellipse cx="529.61" cy="431.60" rx="12.43" ry="6.50" fill="url(#fD)" stroke="#000" stroke-width="0.60"/><ellipse cx="519.04" cy="430.50" rx="13.41" ry="7.00" fill="#28a0f4"/><ellipse cx="519.04" cy="429.40" rx="13.41" ry="7.00" fill="url(#fA)" stroke="#000" stroke-width="0.60"/><ellipse cx="522.95" cy="428.30" rx="14.02" ry="7.30" fill="#28a0f4"/><ellipse cx="522.95" cy="427.20" rx="14.02" ry="7.30" fill="url(#fA)" stroke="#000" stroke-width="0.60"/><ellipse cx="528.45" cy="426.10" rx="13.50" ry="7.02" fill="#28a0f4"/><ellipse cx="528.45" cy="425.00" rx="13.50" ry="7.02" fill="url(#fE)" stroke="#000" stroke-width="0.60"/><ellipse cx="518.87" cy="423.90" rx="13.59" ry="7.05" fill="#30dcfa"/><ellipse cx="518.87" cy="422.80" rx="13.59" ry="7.05" fill="url(#fB)" stroke="#000" stroke-width="0.60"/><ellipse cx="529.21" cy="421.70" rx="12.37" ry="6.41" fill="#38e8f4"/><ellipse cx="529.21" cy="420.60" rx="12.37" ry="6.41" fill="url(#fE)" stroke="#000" stroke-width="0.60"/><ellipse cx="523.86" cy="419.50" rx="12.60" ry="6.52" fill="#38e8f4"/><ellipse cx="523.86" cy="418.40" rx="12.60" ry="6.52" fill="url(#fD)" stroke="#000" stroke-width="0.60"/><ellipse cx="525.13" cy="417.30" rx="13.81" ry="7.13" fill="#30dcfa"/><ellipse cx="525.13" cy="416.20" rx="13.81" ry="7.13" fill="url(#fC)" stroke="#000" stroke-width="0.60"/><ellipse cx="528.51" cy="415.10" rx="13.43" ry="6.92" fill="#f0a838"/><ellipse cx="528.51" cy="414.00" rx="13.43" ry="6.92" fill="url(#fC)" stroke="#000" stroke-width="0.60"/><ellipse cx="524.14" cy="412.90" rx="12.65" ry="6.49" fill="#e4f040"/><ellipse cx="524.14" cy="411.80" rx="12.65" ry="6.49" fill="url(#fB)" stroke="#000" stroke-width="0.60"/><ellipse cx="524.65" cy="410.90" rx="12.65" ry="6.49" fill="#30dcfa"/><ellipse cx="524.65" cy="409.80" rx="12.65" ry="6.49" fill="url(#fD)" stroke="#000" stroke-width="0.60"/><ellipse cx="525.20" cy="408.90" rx="12.91" ry="6.62" fill="#48d0d0"/><ellipse cx="525.20" cy="407.80" rx="12.91" ry="6.62" fill="url(#dL)" stroke="#000" stroke-width="0.65"/>
<ellipse cx="613.41" cy="435.60" rx="13.63" ry="7.14" fill="#2c60f0"/><ellipse cx="613.41" cy="434.50" rx="13.63" ry="7.14" fill="url(#fO)" stroke="#000" stroke-width="0.60"/><ellipse cx="605.22" cy="433.40" rx="13.40" ry="7.01" fill="#40ece0"/><ellipse cx="605.22" cy="432.30" rx="13.40" ry="7.01" fill="url(#fC)" stroke="#000" stroke-width="0.60"/><ellipse cx="617.19" cy="431.20" rx="13.13" ry="6.85" fill="#2c60f0"/><ellipse cx="617.19" cy="430.10" rx="13.13" ry="6.85" fill="url(#fC)" stroke="#000" stroke-width="0.60"/><ellipse cx="609.59" cy="429.00" rx="13.12" ry="6.84" fill="#f0a838"/><ellipse cx="609.59" cy="427.90" rx="13.12" ry="6.84" fill="url(#fE)" stroke="#000" stroke-width="0.60"/><ellipse cx="608.45" cy="426.80" rx="12.85" ry="6.69" fill="#f0a838"/><ellipse cx="608.45" cy="425.70" rx="12.85" ry="6.69" fill="url(#fD)" stroke="#000" stroke-width="0.60"/><ellipse cx="608.07" cy="424.60" rx="12.76" ry="6.63" fill="#40ece0"/><ellipse cx="608.07" cy="423.50" rx="12.76" ry="6.63" fill="url(#fO)" stroke="#000" stroke-width="0.60"/><ellipse cx="614.75" cy="422.40" rx="13.97" ry="7.24" fill="#f0a838"/><ellipse cx="614.75" cy="421.30" rx="13.97" ry="7.24" fill="url(#fA)" stroke="#000" stroke-width="0.60"/><ellipse cx="612.26" cy="420.20" rx="12.45" ry="6.44" fill="#40ece0"/><ellipse cx="612.26" cy="419.10" rx="12.45" ry="6.44" fill="url(#fA)" stroke="#000" stroke-width="0.60"/><ellipse cx="609.25" cy="418.00" rx="13.87" ry="7.17" fill="#40ece0"/><ellipse cx="609.25" cy="416.90" rx="13.87" ry="7.17" fill="url(#fB)" stroke="#000" stroke-width="0.60"/><ellipse cx="617.06" cy="415.80" rx="12.28" ry="6.34" fill="#40ece0"/><ellipse cx="617.06" cy="414.70" rx="12.28" ry="6.34" fill="url(#fD)" stroke="#000" stroke-width="0.60"/><ellipse cx="613.94" cy="413.60" rx="12.66" ry="6.50" fill="#2c60f0"/><ellipse cx="613.94" cy="412.50" rx="12.66" ry="6.50" fill="url(#fB)" stroke="#000" stroke-width="0.60"/><ellipse cx="611.19" cy="411.60" rx="12.66" ry="6.50" fill="#40ece0"/><ellipse cx="611.19" cy="410.50" rx="12.66" ry="6.50" fill="url(#fB)" stroke="#000" stroke-width="0.60"/><ellipse cx="612.00" cy="409.60" rx="12.92" ry="6.63" fill="#48d0d0"/><ellipse cx="612.00" cy="408.50" rx="12.92" ry="6.63" fill="url(#dY)" stroke="#000" stroke-width="0.65"/>
<ellipse cx="482.90" cy="445.70" rx="14.30" ry="7.55" fill="#e4f040"/><ellipse cx="482.90" cy="444.60" rx="14.30" ry="7.55" fill="url(#fE)" stroke="#000" stroke-width="0.60"/><ellipse cx="473.88" cy="443.50" rx="14.23" ry="7.50" fill="#30dcfa"/><ellipse cx="473.88" cy="442.40" rx="14.23" ry="7.50" fill="url(#fO)" stroke="#000" stroke-width="0.60"/><ellipse cx="473.05" cy="441.30" rx="13.41" ry="7.05" fill="#38e8f4"/><ellipse cx="473.05" cy="440.20" rx="13.41" ry="7.05" fill="url(#fO)" stroke="#000" stroke-width="0.60"/><ellipse cx="479.90" cy="439.10" rx="12.92" ry="6.79" fill="#40ece0"/><ellipse cx="479.90" cy="438.00" rx="12.92" ry="6.79" fill="url(#fB)" stroke="#000" stroke-width="0.60"/><ellipse cx="478.07" cy="436.90" rx="14.00" ry="7.34" fill="#30dcfa"/><ellipse cx="478.07" cy="435.80" rx="14.00" ry="7.34" fill="url(#fO)" stroke="#000" stroke-width="0.60"/><ellipse cx="483.84" cy="434.70" rx="13.61" ry="7.12" fill="#40ece0"/><ellipse cx="483.84" cy="433.60" rx="13.61" ry="7.12" fill="url(#fO)" stroke="#000" stroke-width="0.60"/><ellipse cx="477.07" cy="432.50" rx="13.01" ry="6.80" fill="#30dcfa"/><ellipse cx="477.07" cy="431.40" rx="13.01" ry="6.80" fill="url(#fB)" stroke="#000" stroke-width="0.60"/><ellipse cx="476.02" cy="430.30" rx="12.91" ry="6.73" fill="#40ece0"/><ellipse cx="476.02" cy="429.20" rx="12.91" ry="6.73" fill="url(#fO)" stroke="#000" stroke-width="0.60"/><ellipse cx="480.53" cy="428.10" rx="13.92" ry="7.25" fill="#30dcfa"/><ellipse cx="480.53" cy="427.00" rx="13.92" ry="7.25" fill="url(#fO)" stroke="#000" stroke-width="0.60"/><ellipse cx="476.93" cy="425.90" rx="14.07" ry="7.31" fill="#e4f040"/><ellipse cx="476.93" cy="424.80" rx="14.07" ry="7.31" fill="url(#fO)" stroke="#000" stroke-width="0.60"/><ellipse cx="479.12" cy="423.70" rx="12.80" ry="6.62" fill="#28a0f4"/><ellipse cx="479.12" cy="422.60" rx="12.80" ry="6.62" fill="url(#fA)" stroke="#000" stroke-width="0.60"/><ellipse cx="476.51" cy="421.70" rx="12.80" ry="6.62" fill="#28a0f4"/><ellipse cx="476.51" cy="420.60" rx="12.80" ry="6.62" fill="url(#fD)" stroke="#000" stroke-width="0.60"/><ellipse cx="478.10" cy="419.70" rx="13.06" ry="6.76" fill="#48d0d0"/><ellipse cx="478.10" cy="418.60" rx="13.06" ry="6.76" fill="url(#dL)" stroke="#000" stroke-width="0.65"/>
<ellipse cx="660.44" cy="445.41" rx="13.73" ry="7.25" fill="#e4f040"/><ellipse cx="660.44" cy="444.31" rx="13.73" ry="7.25" fill="url(#fE)" stroke="#000" stroke-width="0.60"/><ellipse cx="666.77" cy="443.33" rx="13.72" ry="7.23" fill="#2c60f0"/><ellipse cx="666.77" cy="442.23" rx="13.72" ry="7.23" fill="url(#fC)" stroke="#000" stroke-width="0.60"/><ellipse cx="661.57" cy="441.25" rx="12.47" ry="6.56" fill="#28a0f4"/><ellipse cx="661.57" cy="440.15" rx="12.47" ry="6.56" fill="url(#fA)" stroke="#000" stroke-width="0.60"/><ellipse cx="663.71" cy="439.16" rx="12.58" ry="6.60" fill="#40ece0"/><ellipse cx="663.71" cy="438.06" rx="12.58" ry="6.60" fill="url(#fE)" stroke="#000" stroke-width="0.60"/><ellipse cx="653.35" cy="437.08" rx="13.71" ry="7.19" fill="#38e8f4"/><ellipse cx="653.35" cy="435.98" rx="13.71" ry="7.19" fill="url(#fO)" stroke="#000" stroke-width="0.60"/><ellipse cx="661.53" cy="435.00" rx="12.98" ry="6.80" fill="#40ece0"/><ellipse cx="661.53" cy="433.90" rx="12.98" ry="6.80" fill="url(#fC)" stroke="#000" stroke-width="0.60"/><ellipse cx="656.85" cy="432.92" rx="12.95" ry="6.77" fill="#38e8f4"/><ellipse cx="656.85" cy="431.82" rx="12.95" ry="6.77" fill="url(#fE)" stroke="#000" stroke-width="0.60"/><ellipse cx="657.00" cy="430.84" rx="12.95" ry="6.76" fill="#f0a838"/><ellipse cx="657.00" cy="429.74" rx="12.95" ry="6.76" fill="url(#fE)" stroke="#000" stroke-width="0.60"/><ellipse cx="665.02" cy="428.76" rx="13.88" ry="7.23" fill="#2c60f0"/><ellipse cx="665.02" cy="427.66" rx="13.88" ry="7.23" fill="url(#fA)" stroke="#000" stroke-width="0.60"/><ellipse cx="659.41" cy="426.68" rx="12.45" ry="6.48" fill="#28a0f4"/><ellipse cx="659.41" cy="425.58" rx="12.45" ry="6.48" fill="url(#fO)" stroke="#000" stroke-width="0.60"/><ellipse cx="658.01" cy="424.60" rx="12.81" ry="6.63" fill="#30dcfa"/><ellipse cx="658.01" cy="423.50" rx="12.81" ry="6.63" fill="url(#fD)" stroke="#000" stroke-width="0.60"/><ellipse cx="660.64" cy="422.60" rx="12.81" ry="6.63" fill="#e4f040"/><ellipse cx="660.64" cy="421.50" rx="12.81" ry="6.63" fill="url(#fA)" stroke="#000" stroke-width="0.60"/><ellipse cx="659.50" cy="420.60" rx="13.07" ry="6.77" fill="#48d0d0"/><ellipse cx="659.50" cy="419.50" rx="13.07" ry="6.77" fill="url(#dO)" stroke="#000" stroke-width="0.65"/>
<ellipse cx="387.40" cy="448.37" rx="14.32" ry="7.57" fill="#2c60f0"/><ellipse cx="387.40" cy="447.27" rx="14.32" ry="7.57" fill="url(#fC)" stroke="#000" stroke-width="0.60"/><ellipse cx="388.95" cy="446.17" rx="12.59" ry="6.65" fill="#e4f040"/><ellipse cx="388.95" cy="445.07" rx="12.59" ry="6.65" fill="url(#fC)" stroke="#000" stroke-width="0.60"/><ellipse cx="384.92" cy="443.98" rx="13.37" ry="7.05" fill="#30dcfa"/><ellipse cx="384.92" cy="442.88" rx="13.37" ry="7.05" fill="url(#fO)" stroke="#000" stroke-width="0.60"/><ellipse cx="392.94" cy="441.78" rx="13.26" ry="6.98" fill="#30dcfa"/><ellipse cx="392.94" cy="440.68" rx="13.26" ry="6.98" fill="url(#fO)" stroke="#000" stroke-width="0.60"/><ellipse cx="381.23" cy="439.58" rx="13.46" ry="7.07" fill="#28a0f4"/><ellipse cx="381.23" cy="438.48" rx="13.46" ry="7.07" fill="url(#fO)" stroke="#000" stroke-width="0.60"/><ellipse cx="387.82" cy="437.39" rx="12.51" ry="6.56" fill="#40ece0"/><ellipse cx="387.82" cy="436.29" rx="12.51" ry="6.56" fill="url(#fD)" stroke="#000" stroke-width="0.60"/><ellipse cx="388.01" cy="435.19" rx="14.12" ry="7.40" fill="#30dcfa"/><ellipse cx="388.01" cy="434.09" rx="14.12" ry="7.40" fill="url(#fO)" stroke="#000" stroke-width="0.60"/><ellipse cx="381.98" cy="432.99" rx="13.22" ry="6.91" fill="#28a0f4"/><ellipse cx="381.98" cy="431.89" rx="13.22" ry="6.91" fill="url(#fE)" stroke="#000" stroke-width="0.60"/><ellipse cx="381.84" cy="430.80" rx="12.48" ry="6.51" fill="#e4f040"/><ellipse cx="381.84" cy="429.70" rx="12.48" ry="6.51" fill="url(#fA)" stroke="#000" stroke-width="0.60"/><ellipse cx="387.72" cy="428.60" rx="12.87" ry="6.68" fill="#f0a838"/><ellipse cx="387.72" cy="427.50" rx="12.87" ry="6.68" fill="url(#fA)" stroke="#000" stroke-width="0.60"/><ellipse cx="384.49" cy="426.60" rx="12.87" ry="6.68" fill="#28a0f4"/><ellipse cx="384.49" cy="425.50" rx="12.87" ry="6.68" fill="url(#fD)" stroke="#000" stroke-width="0.60"/><ellipse cx="386.40" cy="424.60" rx="13.13" ry="6.82" fill="#48d0d0"/><ellipse cx="386.40" cy="423.50" rx="13.13" ry="6.82" fill="url(#dY)" stroke="#000" stroke-width="0.65"/>
<ellipse cx="565.46" cy="453.00" rx="13.76" ry="7.31" fill="#30dcfa"/><ellipse cx="565.46" cy="451.90" rx="13.76" ry="7.31" fill="url(#fD)" stroke="#000" stroke-width="0.60"/><ellipse cx="563.25" cy="450.80" rx="12.98" ry="6.88" fill="#30dcfa"/><ellipse cx="563.25" cy="449.70" rx="12.98" ry="6.88" fill="url(#fO)" stroke="#000" stroke-width="0.60"/><ellipse cx="569.55" cy="448.60" rx="13.10" ry="6.93" fill="#40ece0"/><ellipse cx="569.55" cy="447.50" rx="13.10" ry="6.93" fill="url(#fC)" stroke="#000" stroke-width="0.60"/><ellipse cx="567.42" cy="446.40" rx="13.06" ry="6.90" fill="#f0a838"/><ellipse cx="567.42" cy="445.30" rx="13.06" ry="6.90" fill="url(#fO)" stroke="#000" stroke-width="0.60"/><ellipse cx="572.94" cy="444.20" rx="12.76" ry="6.73" fill="#40ece0"/><ellipse cx="572.94" cy="443.10" rx="12.76" ry="6.73" fill="url(#fA)" stroke="#000" stroke-width="0.60"/><ellipse cx="571.25" cy="442.00" rx="13.28" ry="6.99" fill="#38e8f4"/><ellipse cx="571.25" cy="440.90" rx="13.28" ry="6.99" fill="url(#fB)" stroke="#000" stroke-width="0.60"/><ellipse cx="570.64" cy="439.80" rx="12.91" ry="6.78" fill="#30dcfa"/><ellipse cx="570.64" cy="438.70" rx="12.91" ry="6.78" fill="url(#fE)" stroke="#000" stroke-width="0.60"/><ellipse cx="570.32" cy="437.60" rx="13.43" ry="7.04" fill="#f0a838"/><ellipse cx="570.32" cy="436.50" rx="13.43" ry="7.04" fill="url(#fA)" stroke="#000" stroke-width="0.60"/><ellipse cx="567.96" cy="435.40" rx="14.09" ry="7.38" fill="#30dcfa"/><ellipse cx="567.96" cy="434.30" rx="14.09" ry="7.38" fill="url(#fO)" stroke="#000" stroke-width="0.60"/><ellipse cx="563.61" cy="433.20" rx="13.31" ry="6.96" fill="#40ece0"/><ellipse cx="563.61" cy="432.10" rx="13.31" ry="6.96" fill="url(#fO)" stroke="#000" stroke-width="0.60"/><ellipse cx="566.83" cy="431.00" rx="12.90" ry="6.71" fill="#30dcfa"/><ellipse cx="566.83" cy="429.90" rx="12.90" ry="6.71" fill="url(#fA)" stroke="#000" stroke-width="0.60"/><ellipse cx="569.05" cy="429.00" rx="12.90" ry="6.71" fill="#40ece0"/><ellipse cx="569.05" cy="427.90" rx="12.90" ry="6.71" fill="url(#fD)" stroke="#000" stroke-width="0.60"/><ellipse cx="568.60" cy="427.00" rx="13.16" ry="6.85" fill="#48d0d0"/><ellipse cx="568.60" cy="425.90" rx="13.16" ry="6.85" fill="url(#dL)" stroke="#000" stroke-width="0.65"/>
<ellipse cx="606.14" cy="463.17" rx="14.46" ry="7.73" fill="#e4f040"/><ellipse cx="606.14" cy="462.07" rx="14.46" ry="7.73" fill="url(#fO)" stroke="#000" stroke-width="0.60"/><ellipse cx="611.47" cy="461.12" rx="12.71" ry="6.79" fill="#f0a838"/><ellipse cx="611.47" cy="460.02" rx="12.71" ry="6.79" fill="url(#fD)" stroke="#000" stroke-width="0.60"/><ellipse cx="618.82" cy="459.07" rx="13.22" ry="7.05" fill="#f0a838"/><ellipse cx="618.82" cy="457.97" rx="13.22" ry="7.05" fill="url(#fO)" stroke="#000" stroke-width="0.60"/><ellipse cx="615.28" cy="457.02" rx="12.64" ry="6.73" fill="#e4f040"/><ellipse cx="615.28" cy="455.92" rx="12.64" ry="6.73" fill="url(#fD)" stroke="#000" stroke-width="0.60"/><ellipse cx="614.69" cy="454.96" rx="13.72" ry="7.29" fill="#2c60f0"/><ellipse cx="614.69" cy="453.86" rx="13.72" ry="7.29" fill="url(#fD)" stroke="#000" stroke-width="0.60"/><ellipse cx="614.88" cy="452.91" rx="14.25" ry="7.56" fill="#2c60f0"/><ellipse cx="614.88" cy="451.81" rx="14.25" ry="7.56" fill="url(#fO)" stroke="#000" stroke-width="0.60"/><ellipse cx="608.00" cy="450.86" rx="12.79" ry="6.78" fill="#2c60f0"/><ellipse cx="608.00" cy="449.76" rx="12.79" ry="6.78" fill="url(#fO)" stroke="#000" stroke-width="0.60"/><ellipse cx="614.44" cy="448.81" rx="14.21" ry="7.52" fill="#2c60f0"/><ellipse cx="614.44" cy="447.71" rx="14.21" ry="7.52" fill="url(#fD)" stroke="#000" stroke-width="0.60"/><ellipse cx="614.49" cy="446.76" rx="12.79" ry="6.76" fill="#30dcfa"/><ellipse cx="614.49" cy="445.66" rx="12.79" ry="6.76" fill="url(#fD)" stroke="#000" stroke-width="0.60"/><ellipse cx="613.38" cy="444.70" rx="13.24" ry="6.98" fill="#28a0f4"/><ellipse cx="613.38" cy="443.60" rx="13.24" ry="6.98" fill="url(#fC)" stroke="#000" stroke-width="0.60"/><ellipse cx="615.03" cy="442.65" rx="13.17" ry="6.94" fill="#30dcfa"/><ellipse cx="615.03" cy="441.55" rx="13.17" ry="6.94" fill="url(#fE)" stroke="#000" stroke-width="0.60"/><ellipse cx="610.15" cy="440.60" rx="13.03" ry="6.83" fill="#40ece0"/><ellipse cx="610.15" cy="439.50" rx="13.03" ry="6.83" fill="url(#fD)" stroke="#000" stroke-width="0.60"/><ellipse cx="610.64" cy="438.60" rx="13.03" ry="6.83" fill="#f0a838"/><ellipse cx="610.64" cy="437.50" rx="13.03" ry="6.83" fill="url(#fA)" stroke="#000" stroke-width="0.60"/><ellipse cx="612.00" cy="436.60" rx="13.30" ry="6.97" fill="#48d0d0"/><ellipse cx="612.00" cy="435.50" rx="13.30" ry="6.97" fill="url(#dL)" stroke="#000" stroke-width="0.65"/>
<ellipse cx="432.27" cy="462.19" rx="13.58" ry="7.26" fill="#f0a838"/><ellipse cx="432.27" cy="461.09" rx="13.58" ry="7.26" fill="url(#fA)" stroke="#000" stroke-width="0.60"/><ellipse cx="436.50" cy="460.15" rx="13.65" ry="7.28" fill="#38e8f4"/><ellipse cx="436.50" cy="459.05" rx="13.65" ry="7.28" fill="url(#fO)" stroke="#000" stroke-width="0.60"/><ellipse cx="430.87" cy="458.11" rx="14.31" ry="7.63" fill="#30dcfa"/><ellipse cx="430.87" cy="457.01" rx="14.31" ry="7.63" fill="url(#fO)" stroke="#000" stroke-width="0.60"/><ellipse cx="440.24" cy="456.07" rx="12.96" ry="6.90" fill="#38e8f4"/><ellipse cx="440.24" cy="454.97" rx="12.96" ry="6.90" fill="url(#fC)" stroke="#000" stroke-width="0.60"/><ellipse cx="440.13" cy="454.03" rx="14.15" ry="7.51" fill="#f0a838"/><ellipse cx="440.13" cy="452.93" rx="14.15" ry="7.51" fill="url(#fE)" stroke="#000" stroke-width="0.60"/><ellipse cx="440.04" cy="451.99" rx="13.65" ry="7.24" fill="#30dcfa"/><ellipse cx="440.04" cy="450.89" rx="13.65" ry="7.24" fill="url(#fO)" stroke="#000" stroke-width="0.60"/><ellipse cx="438.38" cy="449.95" rx="12.89" ry="6.82" fill="#30dcfa"/><ellipse cx="438.38" cy="448.85" rx="12.89" ry="6.82" fill="url(#fO)" stroke="#000" stroke-width="0.60"/><ellipse cx="436.29" cy="447.92" rx="14.02" ry="7.41" fill="#40ece0"/><ellipse cx="436.29" cy="446.82" rx="14.02" ry="7.41" fill="url(#fB)" stroke="#000" stroke-width="0.60"/><ellipse cx="429.76" cy="445.88" rx="14.11" ry="7.45" fill="#f0a838"/><ellipse cx="429.76" cy="444.78" rx="14.11" ry="7.45" fill="url(#fO)" stroke="#000" stroke-width="0.60"/><ellipse cx="433.80" cy="443.84" rx="14.18" ry="7.47" fill="#f0a838"/><ellipse cx="433.80" cy="442.74" rx="14.18" ry="7.47" fill="url(#fO)" stroke="#000" stroke-width="0.60"/><ellipse cx="435.54" cy="441.80" rx="13.05" ry="6.85" fill="#40ece0"/><ellipse cx="435.54" cy="440.70" rx="13.05" ry="6.85" fill="url(#fA)" stroke="#000" stroke-width="0.60"/><ellipse cx="433.75" cy="439.80" rx="13.05" ry="6.85" fill="#40ece0"/><ellipse cx="433.75" cy="438.70" rx="13.05" ry="6.85" fill="url(#fA)" stroke="#000" stroke-width="0.60"/><ellipse cx="434.70" cy="437.80" rx="13.31" ry="6.99" fill="#48d0d0"/><ellipse cx="434.70" cy="436.70" rx="13.31" ry="6.99" fill="url(#dY)" stroke="#000" stroke-width="0.65"/>
<ellipse cx="524.18" cy="463.80" rx="13.47" ry="7.21" fill="#30dcfa"/><ellipse cx="524.18" cy="462.70" rx="13.47" ry="7.21" fill="url(#fO)" stroke="#000" stroke-width="0.60"/><ellipse cx="526.18" cy="461.60" rx="13.61" ry="7.27" fill="#e4f040"/><ellipse cx="526.18" cy="460.50" rx="13.61" ry="7.27" fill="url(#fO)" stroke="#000" stroke-width="0.60"/><ellipse cx="529.41" cy="459.40" rx="14.55" ry="7.76" fill="#40ece0"/><ellipse cx="529.41" cy="458.30" rx="14.55" ry="7.76" fill="url(#fE)" stroke="#000" stroke-width="0.60"/><ellipse cx="518.49" cy="457.20" rx="13.58" ry="7.23" fill="#40ece0"/><ellipse cx="518.49" cy="456.10" rx="13.58" ry="7.23" fill="url(#fO)" stroke="#000" stroke-width="0.60"/><ellipse cx="522.90" cy="455.00" rx="13.78" ry="7.33" fill="#38e8f4"/><ellipse cx="522.90" cy="453.90" rx="13.78" ry="7.33" fill="url(#fD)" stroke="#000" stroke-width="0.60"/><ellipse cx="527.49" cy="452.80" rx="14.02" ry="7.44" fill="#f0a838"/><ellipse cx="527.49" cy="451.70" rx="14.02" ry="7.44" fill="url(#fO)" stroke="#000" stroke-width="0.60"/><ellipse cx="521.14" cy="450.60" rx="13.03" ry="6.90" fill="#40ece0"/><ellipse cx="521.14" cy="449.50" rx="13.03" ry="6.90" fill="url(#fO)" stroke="#000" stroke-width="0.60"/><ellipse cx="520.28" cy="448.40" rx="12.96" ry="6.86" fill="#f0a838"/><ellipse cx="520.28" cy="447.30" rx="12.96" ry="6.86" fill="url(#fE)" stroke="#000" stroke-width="0.60"/><ellipse cx="520.45" cy="446.20" rx="12.61" ry="6.66" fill="#f0a838"/><ellipse cx="520.45" cy="445.10" rx="12.61" ry="6.66" fill="url(#fE)" stroke="#000" stroke-width="0.60"/><ellipse cx="524.29" cy="444.00" rx="13.68" ry="7.21" fill="#30dcfa"/><ellipse cx="524.29" cy="442.90" rx="13.68" ry="7.21" fill="url(#fB)" stroke="#000" stroke-width="0.60"/><ellipse cx="522.41" cy="441.80" rx="13.05" ry="6.85" fill="#38e8f4"/><ellipse cx="522.41" cy="440.70" rx="13.05" ry="6.85" fill="url(#fB)" stroke="#000" stroke-width="0.60"/><ellipse cx="522.92" cy="439.80" rx="13.05" ry="6.85" fill="#28a0f4"/><ellipse cx="522.92" cy="438.70" rx="13.05" ry="6.85" fill="url(#fB)" stroke="#000" stroke-width="0.60"/><ellipse cx="524.00" cy="437.80" rx="13.31" ry="6.99" fill="#48d0d0"/><ellipse cx="524.00" cy="436.70" rx="13.31" ry="6.99" fill="url(#dY)" stroke="#000" stroke-width="0.65"/>
<ellipse cx="560.83" cy="472.06" rx="13.21" ry="7.11" fill="#2c60f0"/><ellipse cx="560.83" cy="470.96" rx="13.21" ry="7.11" fill="url(#fO)" stroke="#000" stroke-width="0.60"/><ellipse cx="568.23" cy="469.98" rx="14.37" ry="7.72" fill="#30dcfa"/><ellipse cx="568.23" cy="468.88" rx="14.37" ry="7.72" fill="url(#fC)" stroke="#000" stroke-width="0.60"/><ellipse cx="563.46" cy="467.90" rx="12.87" ry="6.91" fill="#30dcfa"/><ellipse cx="563.46" cy="466.80" rx="12.87" ry="6.91" fill="url(#fE)" stroke="#000" stroke-width="0.60"/><ellipse cx="564.57" cy="465.82" rx="13.58" ry="7.28" fill="#2c60f0"/><ellipse cx="564.57" cy="464.72" rx="13.58" ry="7.28" fill="url(#fO)" stroke="#000" stroke-width="0.60"/><ellipse cx="565.61" cy="463.74" rx="13.15" ry="7.04" fill="#2c60f0"/><ellipse cx="565.61" cy="462.64" rx="13.15" ry="7.04" fill="url(#fO)" stroke="#000" stroke-width="0.60"/><ellipse cx="560.76" cy="461.66" rx="13.33" ry="7.12" fill="#28a0f4"/><ellipse cx="560.76" cy="460.56" rx="13.33" ry="7.12" fill="url(#fE)" stroke="#000" stroke-width="0.60"/><ellipse cx="567.71" cy="459.58" rx="13.96" ry="7.45" fill="#28a0f4"/><ellipse cx="567.71" cy="458.48" rx="13.96" ry="7.45" fill="url(#fC)" stroke="#000" stroke-width="0.60"/><ellipse cx="566.77" cy="457.50" rx="13.26" ry="7.04" fill="#30dcfa"/><ellipse cx="566.77" cy="456.40" rx="13.26" ry="7.04" fill="url(#fA)" stroke="#000" stroke-width="0.60"/><ellipse cx="567.72" cy="455.50" rx="13.26" ry="7.04" fill="#40ece0"/><ellipse cx="567.72" cy="454.40" rx="13.26" ry="7.04" fill="url(#fA)" stroke="#000" stroke-width="0.60"/><ellipse cx="566.20" cy="453.50" rx="13.53" ry="7.19" fill="#48d0d0"/><ellipse cx="566.20" cy="452.40" rx="13.53" ry="7.19" fill="url(#dY)" stroke="#000" stroke-width="0.65"/>
<ellipse cx="480.77" cy="474.03" rx="13.14" ry="7.09" fill="#28a0f4"/><ellipse cx="480.77" cy="472.93" rx="13.14" ry="7.09" fill="url(#fE)" stroke="#000" stroke-width="0.60"/><ellipse cx="474.27" cy="472.11" rx="13.55" ry="7.30" fill="#38e8f4"/><ellipse cx="474.27" cy="471.01" rx="13.55" ry="7.30" fill="url(#fD)" stroke="#000" stroke-width="0.60"/><ellipse cx="482.38" cy="470.20" rx="13.57" ry="7.30" fill="#2c60f0"/><ellipse cx="482.38" cy="469.10" rx="13.57" ry="7.30" fill="url(#fC)" stroke="#000" stroke-width="0.60"/><ellipse cx="473.17" cy="468.28" rx="14.57" ry="7.82" fill="#38e8f4"/><ellipse cx="473.17" cy="467.18" rx="14.57" ry="7.82" fill="url(#fD)" stroke="#000" stroke-width="0.60"/><ellipse cx="474.14" cy="466.36" rx="14.42" ry="7.73" fill="#f0a838"/><ellipse cx="474.14" cy="465.26" rx="14.42" ry="7.73" fill="url(#fO)" stroke="#000" stroke-width="0.60"/><ellipse cx="474.21" cy="464.45" rx="13.63" ry="7.30" fill="#28a0f4"/><ellipse cx="474.21" cy="463.35" rx="13.63" ry="7.30" fill="url(#fO)" stroke="#000" stroke-width="0.60"/><ellipse cx="481.53" cy="462.53" rx="14.57" ry="7.79" fill="#40ece0"/><ellipse cx="481.53" cy="461.43" rx="14.57" ry="7.79" fill="url(#fE)" stroke="#000" stroke-width="0.60"/><ellipse cx="476.55" cy="460.62" rx="13.74" ry="7.34" fill="#2c60f0"/><ellipse cx="476.55" cy="459.52" rx="13.74" ry="7.34" fill="url(#fO)" stroke="#000" stroke-width="0.60"/><ellipse cx="468.35" cy="458.70" rx="13.28" ry="7.06" fill="#f0a838"/><ellipse cx="468.35" cy="457.60" rx="13.28" ry="7.06" fill="url(#fA)" stroke="#000" stroke-width="0.60"/><ellipse cx="471.32" cy="456.70" rx="13.28" ry="7.06" fill="#f0a838"/><ellipse cx="471.32" cy="455.60" rx="13.28" ry="7.06" fill="url(#fB)" stroke="#000" stroke-width="0.60"/><ellipse cx="469.70" cy="454.70" rx="13.55" ry="7.20" fill="#48d0d0"/><ellipse cx="469.70" cy="453.60" rx="13.55" ry="7.20" fill="url(#dO)" stroke="#000" stroke-width="0.65"/><ellipse cx="486.68" cy="459.90" rx="13.30" ry="7.07" fill="#38e8f4"/><ellipse cx="486.68" cy="458.80" rx="13.30" ry="7.07" fill="url(#fB)" stroke="#000" stroke-width="0.60"/><ellipse cx="487.60" cy="457.90" rx="13.30" ry="7.07" fill="#f0a838"/><ellipse cx="487.60" cy="456.80" rx="13.30" ry="7.07" fill="url(#fA)" stroke="#000" stroke-width="0.60"/><ellipse cx="487.80" cy="455.90" rx="13.57" ry="7.22" fill="#48d0d0"/><ellipse cx="487.80" cy="454.80" rx="13.57" ry="7.22" fill="url(#dC)" stroke="#000" stroke-width="0.65"/>
<ellipse cx="517.11" cy="492.78" rx="13.68" ry="7.48" fill="#f0a838"/><ellipse cx="517.11" cy="491.68" rx="13.68" ry="7.48" fill="url(#fO)" stroke="#000" stroke-width="0.60"/><ellipse cx="530.88" cy="490.58" rx="14.22" ry="7.76" fill="#38e8f4"/><ellipse cx="530.88" cy="489.48" rx="14.22" ry="7.76" fill="url(#fB)" stroke="#000" stroke-width="0.60"/><ellipse cx="519.46" cy="488.38" rx="14.22" ry="7.75" fill="#f0a838"/><ellipse cx="519.46" cy="487.28" rx="14.22" ry="7.75" fill="url(#fO)" stroke="#000" stroke-width="0.60"/><ellipse cx="526.86" cy="486.18" rx="13.70" ry="7.45" fill="#40ece0"/><ellipse cx="526.86" cy="485.08" rx="13.70" ry="7.45" fill="url(#fA)" stroke="#000" stroke-width="0.60"/><ellipse cx="517.98" cy="483.99" rx="14.94" ry="8.11" fill="#2c60f0"/><ellipse cx="517.98" cy="482.89" rx="14.94" ry="8.11" fill="url(#fA)" stroke="#000" stroke-width="0.60"/><ellipse cx="529.28" cy="481.79" rx="14.54" ry="7.89" fill="#28a0f4"/><ellipse cx="529.28" cy="480.69" rx="14.54" ry="7.89" fill="url(#fA)" stroke="#000" stroke-width="0.60"/><ellipse cx="520.13" cy="479.59" rx="13.53" ry="7.33" fill="#e4f040"/><ellipse cx="520.13" cy="478.49" rx="13.53" ry="7.33" fill="url(#fO)" stroke="#000" stroke-width="0.60"/><ellipse cx="524.57" cy="477.39" rx="13.02" ry="7.04" fill="#2c60f0"/><ellipse cx="524.57" cy="476.29" rx="13.02" ry="7.04" fill="url(#fB)" stroke="#000" stroke-width="0.60"/><ellipse cx="524.57" cy="475.20" rx="14.11" ry="7.61" fill="#e4f040"/><ellipse cx="524.57" cy="474.10" rx="14.11" ry="7.61" fill="url(#fB)" stroke="#000" stroke-width="0.60"/><ellipse cx="526.14" cy="473.00" rx="13.63" ry="7.34" fill="#e4f040"/><ellipse cx="526.14" cy="471.90" rx="13.63" ry="7.34" fill="url(#fE)" stroke="#000" stroke-width="0.60"/><ellipse cx="525.81" cy="470.80" rx="13.45" ry="7.21" fill="#2c60f0"/><ellipse cx="525.81" cy="469.70" rx="13.45" ry="7.21" fill="url(#fB)" stroke="#000" stroke-width="0.60"/><ellipse cx="524.27" cy="468.80" rx="13.45" ry="7.21" fill="#e4f040"/><ellipse cx="524.27" cy="467.70" rx="13.45" ry="7.21" fill="url(#fB)" stroke="#000" stroke-width="0.60"/><ellipse cx="524.00" cy="466.80" rx="13.72" ry="7.36" fill="#48d0d0"/><ellipse cx="524.00" cy="465.70" rx="13.72" ry="7.36" fill="url(#dO)" stroke="#000" stroke-width="0.65"/>
</svg>
</body></html>
